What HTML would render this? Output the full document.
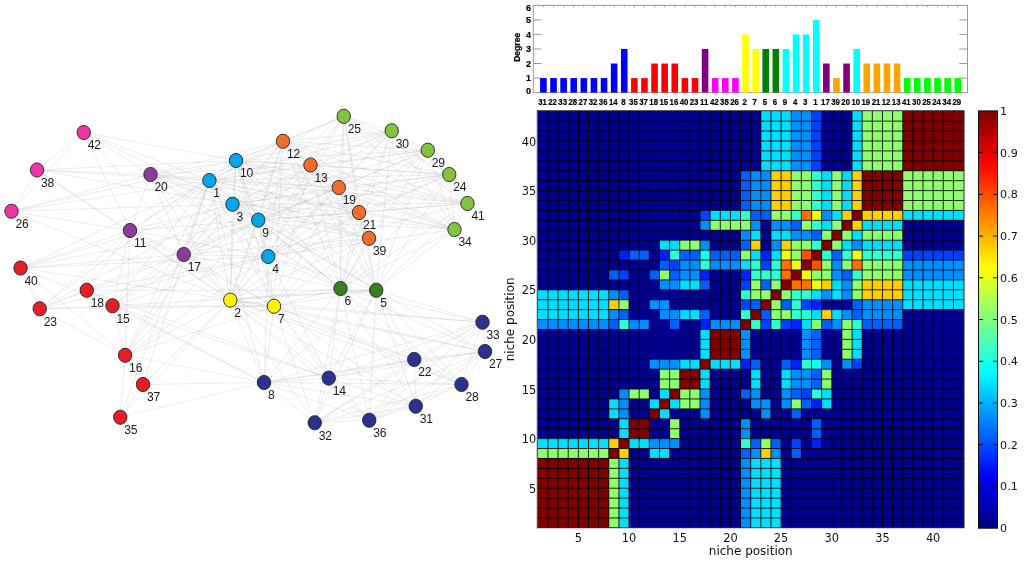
<!DOCTYPE html><html><head><meta charset="utf-8"><style>html,body{margin:0;padding:0;background:#fff;width:1024px;height:561px;overflow:hidden}svg{display:block}</style></head><body>
<svg width="1024" height="561" viewBox="0 0 1024 561">
<rect width="1024" height="561" fill="#fff"/>
<g stroke="rgba(150,150,150,0.18)" stroke-width="1.0" fill="none">
<line x1="415.75" y1="406.25" x2="414.25" y2="359.4"/>
<line x1="415.75" y1="406.25" x2="482.5" y2="322.25"/>
<line x1="415.75" y1="406.25" x2="461.5" y2="384.5"/>
<line x1="415.75" y1="406.25" x2="485" y2="351.5"/>
<line x1="415.75" y1="406.25" x2="314.75" y2="422.75"/>
<line x1="415.75" y1="406.25" x2="369.25" y2="420.25"/>
<line x1="415.75" y1="406.25" x2="328.75" y2="378.1"/>
<line x1="415.75" y1="406.25" x2="264" y2="382.5"/>
<line x1="415.75" y1="406.25" x2="230.3" y2="300.1"/>
<line x1="415.75" y1="406.25" x2="274" y2="306.25"/>
<line x1="415.75" y1="406.25" x2="376.25" y2="290.25"/>
<line x1="415.75" y1="406.25" x2="340.5" y2="288.5"/>
<line x1="414.25" y1="359.4" x2="482.5" y2="322.25"/>
<line x1="414.25" y1="359.4" x2="461.5" y2="384.5"/>
<line x1="414.25" y1="359.4" x2="485" y2="351.5"/>
<line x1="414.25" y1="359.4" x2="314.75" y2="422.75"/>
<line x1="414.25" y1="359.4" x2="369.25" y2="420.25"/>
<line x1="414.25" y1="359.4" x2="328.75" y2="378.1"/>
<line x1="414.25" y1="359.4" x2="264" y2="382.5"/>
<line x1="414.25" y1="359.4" x2="230.3" y2="300.1"/>
<line x1="414.25" y1="359.4" x2="274" y2="306.25"/>
<line x1="414.25" y1="359.4" x2="376.25" y2="290.25"/>
<line x1="414.25" y1="359.4" x2="340.5" y2="288.5"/>
<line x1="482.5" y1="322.25" x2="461.5" y2="384.5"/>
<line x1="482.5" y1="322.25" x2="485" y2="351.5"/>
<line x1="482.5" y1="322.25" x2="314.75" y2="422.75"/>
<line x1="482.5" y1="322.25" x2="369.25" y2="420.25"/>
<line x1="482.5" y1="322.25" x2="328.75" y2="378.1"/>
<line x1="482.5" y1="322.25" x2="264" y2="382.5"/>
<line x1="482.5" y1="322.25" x2="230.3" y2="300.1"/>
<line x1="482.5" y1="322.25" x2="274" y2="306.25"/>
<line x1="482.5" y1="322.25" x2="376.25" y2="290.25"/>
<line x1="482.5" y1="322.25" x2="340.5" y2="288.5"/>
<line x1="461.5" y1="384.5" x2="485" y2="351.5"/>
<line x1="461.5" y1="384.5" x2="314.75" y2="422.75"/>
<line x1="461.5" y1="384.5" x2="369.25" y2="420.25"/>
<line x1="461.5" y1="384.5" x2="328.75" y2="378.1"/>
<line x1="461.5" y1="384.5" x2="264" y2="382.5"/>
<line x1="461.5" y1="384.5" x2="230.3" y2="300.1"/>
<line x1="461.5" y1="384.5" x2="274" y2="306.25"/>
<line x1="461.5" y1="384.5" x2="376.25" y2="290.25"/>
<line x1="461.5" y1="384.5" x2="340.5" y2="288.5"/>
<line x1="485" y1="351.5" x2="314.75" y2="422.75"/>
<line x1="485" y1="351.5" x2="369.25" y2="420.25"/>
<line x1="485" y1="351.5" x2="328.75" y2="378.1"/>
<line x1="485" y1="351.5" x2="264" y2="382.5"/>
<line x1="485" y1="351.5" x2="230.3" y2="300.1"/>
<line x1="485" y1="351.5" x2="274" y2="306.25"/>
<line x1="485" y1="351.5" x2="376.25" y2="290.25"/>
<line x1="485" y1="351.5" x2="340.5" y2="288.5"/>
<line x1="314.75" y1="422.75" x2="369.25" y2="420.25"/>
<line x1="314.75" y1="422.75" x2="328.75" y2="378.1"/>
<line x1="314.75" y1="422.75" x2="264" y2="382.5"/>
<line x1="314.75" y1="422.75" x2="230.3" y2="300.1"/>
<line x1="314.75" y1="422.75" x2="274" y2="306.25"/>
<line x1="314.75" y1="422.75" x2="376.25" y2="290.25"/>
<line x1="314.75" y1="422.75" x2="340.5" y2="288.5"/>
<line x1="369.25" y1="420.25" x2="328.75" y2="378.1"/>
<line x1="369.25" y1="420.25" x2="264" y2="382.5"/>
<line x1="369.25" y1="420.25" x2="230.3" y2="300.1"/>
<line x1="369.25" y1="420.25" x2="274" y2="306.25"/>
<line x1="369.25" y1="420.25" x2="376.25" y2="290.25"/>
<line x1="369.25" y1="420.25" x2="340.5" y2="288.5"/>
<line x1="328.75" y1="378.1" x2="264" y2="382.5"/>
<line x1="328.75" y1="378.1" x2="86.75" y2="290.25"/>
<line x1="328.75" y1="378.1" x2="112.5" y2="305.75"/>
<line x1="328.75" y1="378.1" x2="230.3" y2="300.1"/>
<line x1="328.75" y1="378.1" x2="274" y2="306.25"/>
<line x1="328.75" y1="378.1" x2="376.25" y2="290.25"/>
<line x1="328.75" y1="378.1" x2="340.5" y2="288.5"/>
<line x1="328.75" y1="378.1" x2="268.25" y2="256.5"/>
<line x1="264" y1="382.5" x2="120.25" y2="417.25"/>
<line x1="264" y1="382.5" x2="143" y2="384.5"/>
<line x1="264" y1="382.5" x2="86.75" y2="290.25"/>
<line x1="264" y1="382.5" x2="112.5" y2="305.75"/>
<line x1="264" y1="382.5" x2="125.1" y2="355.25"/>
<line x1="264" y1="382.5" x2="230.3" y2="300.1"/>
<line x1="264" y1="382.5" x2="274" y2="306.25"/>
<line x1="264" y1="382.5" x2="376.25" y2="290.25"/>
<line x1="264" y1="382.5" x2="340.5" y2="288.5"/>
<line x1="264" y1="382.5" x2="268.25" y2="256.5"/>
<line x1="264" y1="382.5" x2="209.4" y2="180.5"/>
<line x1="120.25" y1="417.25" x2="143" y2="384.5"/>
<line x1="120.25" y1="417.25" x2="125.1" y2="355.25"/>
<line x1="120.25" y1="417.25" x2="230.3" y2="300.1"/>
<line x1="120.25" y1="417.25" x2="209.4" y2="180.5"/>
<line x1="143" y1="384.5" x2="125.1" y2="355.25"/>
<line x1="143" y1="384.5" x2="230.3" y2="300.1"/>
<line x1="143" y1="384.5" x2="209.4" y2="180.5"/>
<line x1="86.75" y1="290.25" x2="112.5" y2="305.75"/>
<line x1="86.75" y1="290.25" x2="130" y2="230.5"/>
<line x1="86.75" y1="290.25" x2="376.25" y2="290.25"/>
<line x1="86.75" y1="290.25" x2="268.25" y2="256.5"/>
<line x1="112.5" y1="305.75" x2="125.1" y2="355.25"/>
<line x1="112.5" y1="305.75" x2="20.5" y2="268"/>
<line x1="112.5" y1="305.75" x2="39.75" y2="308.75"/>
<line x1="112.5" y1="305.75" x2="130" y2="230.5"/>
<line x1="112.5" y1="305.75" x2="274" y2="306.25"/>
<line x1="112.5" y1="305.75" x2="376.25" y2="290.25"/>
<line x1="112.5" y1="305.75" x2="258.25" y2="220.1"/>
<line x1="112.5" y1="305.75" x2="268.25" y2="256.5"/>
<line x1="112.5" y1="305.75" x2="232.5" y2="204.25"/>
<line x1="112.5" y1="305.75" x2="209.4" y2="180.5"/>
<line x1="112.5" y1="305.75" x2="183.75" y2="254.5"/>
<line x1="125.1" y1="355.25" x2="20.5" y2="268"/>
<line x1="125.1" y1="355.25" x2="39.75" y2="308.75"/>
<line x1="125.1" y1="355.25" x2="130" y2="230.5"/>
<line x1="125.1" y1="355.25" x2="230.3" y2="300.1"/>
<line x1="125.1" y1="355.25" x2="274" y2="306.25"/>
<line x1="125.1" y1="355.25" x2="258.25" y2="220.1"/>
<line x1="125.1" y1="355.25" x2="268.25" y2="256.5"/>
<line x1="125.1" y1="355.25" x2="232.5" y2="204.25"/>
<line x1="125.1" y1="355.25" x2="209.4" y2="180.5"/>
<line x1="125.1" y1="355.25" x2="183.75" y2="254.5"/>
<line x1="20.5" y1="268" x2="39.75" y2="308.75"/>
<line x1="20.5" y1="268" x2="130" y2="230.5"/>
<line x1="20.5" y1="268" x2="274" y2="306.25"/>
<line x1="20.5" y1="268" x2="258.25" y2="220.1"/>
<line x1="20.5" y1="268" x2="268.25" y2="256.5"/>
<line x1="20.5" y1="268" x2="232.5" y2="204.25"/>
<line x1="20.5" y1="268" x2="209.4" y2="180.5"/>
<line x1="20.5" y1="268" x2="183.75" y2="254.5"/>
<line x1="39.75" y1="308.75" x2="130" y2="230.5"/>
<line x1="39.75" y1="308.75" x2="274" y2="306.25"/>
<line x1="39.75" y1="308.75" x2="258.25" y2="220.1"/>
<line x1="39.75" y1="308.75" x2="268.25" y2="256.5"/>
<line x1="39.75" y1="308.75" x2="232.5" y2="204.25"/>
<line x1="39.75" y1="308.75" x2="209.4" y2="180.5"/>
<line x1="39.75" y1="308.75" x2="183.75" y2="254.5"/>
<line x1="130" y1="230.5" x2="83.75" y2="132.5"/>
<line x1="130" y1="230.5" x2="37" y2="170"/>
<line x1="130" y1="230.5" x2="11.5" y2="211.25"/>
<line x1="130" y1="230.5" x2="230.3" y2="300.1"/>
<line x1="130" y1="230.5" x2="274" y2="306.25"/>
<line x1="130" y1="230.5" x2="258.25" y2="220.1"/>
<line x1="130" y1="230.5" x2="268.25" y2="256.5"/>
<line x1="130" y1="230.5" x2="232.5" y2="204.25"/>
<line x1="130" y1="230.5" x2="209.4" y2="180.5"/>
<line x1="130" y1="230.5" x2="183.75" y2="254.5"/>
<line x1="130" y1="230.5" x2="150.5" y2="174.5"/>
<line x1="130" y1="230.5" x2="236" y2="160.5"/>
<line x1="83.75" y1="132.5" x2="37" y2="170"/>
<line x1="83.75" y1="132.5" x2="11.5" y2="211.25"/>
<line x1="83.75" y1="132.5" x2="230.3" y2="300.1"/>
<line x1="83.75" y1="132.5" x2="232.5" y2="204.25"/>
<line x1="83.75" y1="132.5" x2="209.4" y2="180.5"/>
<line x1="83.75" y1="132.5" x2="150.5" y2="174.5"/>
<line x1="83.75" y1="132.5" x2="236" y2="160.5"/>
<line x1="37" y1="170" x2="11.5" y2="211.25"/>
<line x1="37" y1="170" x2="230.3" y2="300.1"/>
<line x1="37" y1="170" x2="232.5" y2="204.25"/>
<line x1="37" y1="170" x2="209.4" y2="180.5"/>
<line x1="37" y1="170" x2="150.5" y2="174.5"/>
<line x1="37" y1="170" x2="236" y2="160.5"/>
<line x1="11.5" y1="211.25" x2="230.3" y2="300.1"/>
<line x1="11.5" y1="211.25" x2="232.5" y2="204.25"/>
<line x1="11.5" y1="211.25" x2="209.4" y2="180.5"/>
<line x1="11.5" y1="211.25" x2="150.5" y2="174.5"/>
<line x1="11.5" y1="211.25" x2="236" y2="160.5"/>
<line x1="230.3" y1="300.1" x2="274" y2="306.25"/>
<line x1="230.3" y1="300.1" x2="376.25" y2="290.25"/>
<line x1="230.3" y1="300.1" x2="340.5" y2="288.5"/>
<line x1="230.3" y1="300.1" x2="258.25" y2="220.1"/>
<line x1="230.3" y1="300.1" x2="268.25" y2="256.5"/>
<line x1="230.3" y1="300.1" x2="232.5" y2="204.25"/>
<line x1="230.3" y1="300.1" x2="209.4" y2="180.5"/>
<line x1="230.3" y1="300.1" x2="183.75" y2="254.5"/>
<line x1="230.3" y1="300.1" x2="369" y2="238.25"/>
<line x1="230.3" y1="300.1" x2="150.5" y2="174.5"/>
<line x1="230.3" y1="300.1" x2="236" y2="160.5"/>
<line x1="230.3" y1="300.1" x2="338.75" y2="187.5"/>
<line x1="230.3" y1="300.1" x2="359" y2="212.5"/>
<line x1="230.3" y1="300.1" x2="283" y2="141.25"/>
<line x1="230.3" y1="300.1" x2="310.5" y2="165"/>
<line x1="274" y1="306.25" x2="376.25" y2="290.25"/>
<line x1="274" y1="306.25" x2="340.5" y2="288.5"/>
<line x1="274" y1="306.25" x2="258.25" y2="220.1"/>
<line x1="274" y1="306.25" x2="268.25" y2="256.5"/>
<line x1="274" y1="306.25" x2="232.5" y2="204.25"/>
<line x1="274" y1="306.25" x2="209.4" y2="180.5"/>
<line x1="274" y1="306.25" x2="183.75" y2="254.5"/>
<line x1="274" y1="306.25" x2="369" y2="238.25"/>
<line x1="274" y1="306.25" x2="150.5" y2="174.5"/>
<line x1="274" y1="306.25" x2="236" y2="160.5"/>
<line x1="274" y1="306.25" x2="338.75" y2="187.5"/>
<line x1="274" y1="306.25" x2="359" y2="212.5"/>
<line x1="274" y1="306.25" x2="283" y2="141.25"/>
<line x1="274" y1="306.25" x2="310.5" y2="165"/>
<line x1="376.25" y1="290.25" x2="340.5" y2="288.5"/>
<line x1="376.25" y1="290.25" x2="258.25" y2="220.1"/>
<line x1="376.25" y1="290.25" x2="268.25" y2="256.5"/>
<line x1="376.25" y1="290.25" x2="232.5" y2="204.25"/>
<line x1="376.25" y1="290.25" x2="209.4" y2="180.5"/>
<line x1="376.25" y1="290.25" x2="236" y2="160.5"/>
<line x1="376.25" y1="290.25" x2="338.75" y2="187.5"/>
<line x1="376.25" y1="290.25" x2="359" y2="212.5"/>
<line x1="376.25" y1="290.25" x2="283" y2="141.25"/>
<line x1="376.25" y1="290.25" x2="310.5" y2="165"/>
<line x1="376.25" y1="290.25" x2="467.5" y2="203.5"/>
<line x1="376.25" y1="290.25" x2="391.75" y2="130.75"/>
<line x1="376.25" y1="290.25" x2="343.75" y2="116.3"/>
<line x1="376.25" y1="290.25" x2="449.25" y2="174.5"/>
<line x1="376.25" y1="290.25" x2="454.5" y2="229.5"/>
<line x1="376.25" y1="290.25" x2="427.75" y2="150.25"/>
<line x1="340.5" y1="288.5" x2="258.25" y2="220.1"/>
<line x1="340.5" y1="288.5" x2="268.25" y2="256.5"/>
<line x1="340.5" y1="288.5" x2="232.5" y2="204.25"/>
<line x1="340.5" y1="288.5" x2="209.4" y2="180.5"/>
<line x1="340.5" y1="288.5" x2="183.75" y2="254.5"/>
<line x1="340.5" y1="288.5" x2="369" y2="238.25"/>
<line x1="340.5" y1="288.5" x2="150.5" y2="174.5"/>
<line x1="340.5" y1="288.5" x2="236" y2="160.5"/>
<line x1="340.5" y1="288.5" x2="338.75" y2="187.5"/>
<line x1="340.5" y1="288.5" x2="359" y2="212.5"/>
<line x1="340.5" y1="288.5" x2="283" y2="141.25"/>
<line x1="340.5" y1="288.5" x2="310.5" y2="165"/>
<line x1="340.5" y1="288.5" x2="467.5" y2="203.5"/>
<line x1="340.5" y1="288.5" x2="391.75" y2="130.75"/>
<line x1="340.5" y1="288.5" x2="343.75" y2="116.3"/>
<line x1="340.5" y1="288.5" x2="449.25" y2="174.5"/>
<line x1="340.5" y1="288.5" x2="454.5" y2="229.5"/>
<line x1="340.5" y1="288.5" x2="427.75" y2="150.25"/>
<line x1="258.25" y1="220.1" x2="268.25" y2="256.5"/>
<line x1="258.25" y1="220.1" x2="232.5" y2="204.25"/>
<line x1="258.25" y1="220.1" x2="209.4" y2="180.5"/>
<line x1="258.25" y1="220.1" x2="183.75" y2="254.5"/>
<line x1="258.25" y1="220.1" x2="369" y2="238.25"/>
<line x1="258.25" y1="220.1" x2="150.5" y2="174.5"/>
<line x1="258.25" y1="220.1" x2="236" y2="160.5"/>
<line x1="258.25" y1="220.1" x2="338.75" y2="187.5"/>
<line x1="258.25" y1="220.1" x2="359" y2="212.5"/>
<line x1="258.25" y1="220.1" x2="283" y2="141.25"/>
<line x1="258.25" y1="220.1" x2="310.5" y2="165"/>
<line x1="258.25" y1="220.1" x2="467.5" y2="203.5"/>
<line x1="258.25" y1="220.1" x2="391.75" y2="130.75"/>
<line x1="258.25" y1="220.1" x2="343.75" y2="116.3"/>
<line x1="258.25" y1="220.1" x2="449.25" y2="174.5"/>
<line x1="258.25" y1="220.1" x2="454.5" y2="229.5"/>
<line x1="258.25" y1="220.1" x2="427.75" y2="150.25"/>
<line x1="268.25" y1="256.5" x2="232.5" y2="204.25"/>
<line x1="268.25" y1="256.5" x2="209.4" y2="180.5"/>
<line x1="268.25" y1="256.5" x2="183.75" y2="254.5"/>
<line x1="268.25" y1="256.5" x2="369" y2="238.25"/>
<line x1="268.25" y1="256.5" x2="150.5" y2="174.5"/>
<line x1="268.25" y1="256.5" x2="236" y2="160.5"/>
<line x1="268.25" y1="256.5" x2="338.75" y2="187.5"/>
<line x1="268.25" y1="256.5" x2="359" y2="212.5"/>
<line x1="268.25" y1="256.5" x2="283" y2="141.25"/>
<line x1="268.25" y1="256.5" x2="310.5" y2="165"/>
<line x1="268.25" y1="256.5" x2="467.5" y2="203.5"/>
<line x1="268.25" y1="256.5" x2="391.75" y2="130.75"/>
<line x1="268.25" y1="256.5" x2="343.75" y2="116.3"/>
<line x1="268.25" y1="256.5" x2="449.25" y2="174.5"/>
<line x1="268.25" y1="256.5" x2="454.5" y2="229.5"/>
<line x1="268.25" y1="256.5" x2="427.75" y2="150.25"/>
<line x1="232.5" y1="204.25" x2="209.4" y2="180.5"/>
<line x1="232.5" y1="204.25" x2="183.75" y2="254.5"/>
<line x1="232.5" y1="204.25" x2="369" y2="238.25"/>
<line x1="232.5" y1="204.25" x2="150.5" y2="174.5"/>
<line x1="232.5" y1="204.25" x2="236" y2="160.5"/>
<line x1="232.5" y1="204.25" x2="338.75" y2="187.5"/>
<line x1="232.5" y1="204.25" x2="359" y2="212.5"/>
<line x1="232.5" y1="204.25" x2="283" y2="141.25"/>
<line x1="232.5" y1="204.25" x2="310.5" y2="165"/>
<line x1="232.5" y1="204.25" x2="467.5" y2="203.5"/>
<line x1="232.5" y1="204.25" x2="391.75" y2="130.75"/>
<line x1="232.5" y1="204.25" x2="343.75" y2="116.3"/>
<line x1="232.5" y1="204.25" x2="449.25" y2="174.5"/>
<line x1="232.5" y1="204.25" x2="454.5" y2="229.5"/>
<line x1="232.5" y1="204.25" x2="427.75" y2="150.25"/>
<line x1="209.4" y1="180.5" x2="183.75" y2="254.5"/>
<line x1="209.4" y1="180.5" x2="369" y2="238.25"/>
<line x1="209.4" y1="180.5" x2="150.5" y2="174.5"/>
<line x1="209.4" y1="180.5" x2="236" y2="160.5"/>
<line x1="209.4" y1="180.5" x2="338.75" y2="187.5"/>
<line x1="209.4" y1="180.5" x2="359" y2="212.5"/>
<line x1="209.4" y1="180.5" x2="283" y2="141.25"/>
<line x1="209.4" y1="180.5" x2="310.5" y2="165"/>
<line x1="209.4" y1="180.5" x2="467.5" y2="203.5"/>
<line x1="209.4" y1="180.5" x2="391.75" y2="130.75"/>
<line x1="209.4" y1="180.5" x2="343.75" y2="116.3"/>
<line x1="209.4" y1="180.5" x2="449.25" y2="174.5"/>
<line x1="209.4" y1="180.5" x2="454.5" y2="229.5"/>
<line x1="209.4" y1="180.5" x2="427.75" y2="150.25"/>
<line x1="183.75" y1="254.5" x2="369" y2="238.25"/>
<line x1="183.75" y1="254.5" x2="150.5" y2="174.5"/>
<line x1="183.75" y1="254.5" x2="236" y2="160.5"/>
<line x1="183.75" y1="254.5" x2="338.75" y2="187.5"/>
<line x1="183.75" y1="254.5" x2="359" y2="212.5"/>
<line x1="183.75" y1="254.5" x2="283" y2="141.25"/>
<line x1="183.75" y1="254.5" x2="310.5" y2="165"/>
<line x1="369" y1="238.25" x2="150.5" y2="174.5"/>
<line x1="369" y1="238.25" x2="236" y2="160.5"/>
<line x1="369" y1="238.25" x2="338.75" y2="187.5"/>
<line x1="369" y1="238.25" x2="359" y2="212.5"/>
<line x1="369" y1="238.25" x2="283" y2="141.25"/>
<line x1="369" y1="238.25" x2="310.5" y2="165"/>
<line x1="150.5" y1="174.5" x2="236" y2="160.5"/>
<line x1="150.5" y1="174.5" x2="338.75" y2="187.5"/>
<line x1="150.5" y1="174.5" x2="359" y2="212.5"/>
<line x1="150.5" y1="174.5" x2="283" y2="141.25"/>
<line x1="150.5" y1="174.5" x2="310.5" y2="165"/>
<line x1="236" y1="160.5" x2="338.75" y2="187.5"/>
<line x1="236" y1="160.5" x2="359" y2="212.5"/>
<line x1="236" y1="160.5" x2="283" y2="141.25"/>
<line x1="236" y1="160.5" x2="310.5" y2="165"/>
<line x1="236" y1="160.5" x2="467.5" y2="203.5"/>
<line x1="236" y1="160.5" x2="391.75" y2="130.75"/>
<line x1="236" y1="160.5" x2="343.75" y2="116.3"/>
<line x1="236" y1="160.5" x2="449.25" y2="174.5"/>
<line x1="236" y1="160.5" x2="454.5" y2="229.5"/>
<line x1="236" y1="160.5" x2="427.75" y2="150.25"/>
<line x1="338.75" y1="187.5" x2="359" y2="212.5"/>
<line x1="338.75" y1="187.5" x2="283" y2="141.25"/>
<line x1="338.75" y1="187.5" x2="310.5" y2="165"/>
<line x1="338.75" y1="187.5" x2="467.5" y2="203.5"/>
<line x1="338.75" y1="187.5" x2="391.75" y2="130.75"/>
<line x1="338.75" y1="187.5" x2="343.75" y2="116.3"/>
<line x1="338.75" y1="187.5" x2="449.25" y2="174.5"/>
<line x1="338.75" y1="187.5" x2="454.5" y2="229.5"/>
<line x1="338.75" y1="187.5" x2="427.75" y2="150.25"/>
<line x1="359" y1="212.5" x2="283" y2="141.25"/>
<line x1="359" y1="212.5" x2="310.5" y2="165"/>
<line x1="359" y1="212.5" x2="467.5" y2="203.5"/>
<line x1="359" y1="212.5" x2="391.75" y2="130.75"/>
<line x1="359" y1="212.5" x2="343.75" y2="116.3"/>
<line x1="359" y1="212.5" x2="449.25" y2="174.5"/>
<line x1="359" y1="212.5" x2="454.5" y2="229.5"/>
<line x1="359" y1="212.5" x2="427.75" y2="150.25"/>
<line x1="283" y1="141.25" x2="310.5" y2="165"/>
<line x1="283" y1="141.25" x2="467.5" y2="203.5"/>
<line x1="283" y1="141.25" x2="391.75" y2="130.75"/>
<line x1="283" y1="141.25" x2="343.75" y2="116.3"/>
<line x1="283" y1="141.25" x2="449.25" y2="174.5"/>
<line x1="283" y1="141.25" x2="454.5" y2="229.5"/>
<line x1="283" y1="141.25" x2="427.75" y2="150.25"/>
<line x1="310.5" y1="165" x2="467.5" y2="203.5"/>
<line x1="310.5" y1="165" x2="391.75" y2="130.75"/>
<line x1="310.5" y1="165" x2="343.75" y2="116.3"/>
<line x1="310.5" y1="165" x2="449.25" y2="174.5"/>
<line x1="310.5" y1="165" x2="454.5" y2="229.5"/>
<line x1="310.5" y1="165" x2="427.75" y2="150.25"/>
<line x1="467.5" y1="203.5" x2="391.75" y2="130.75"/>
<line x1="467.5" y1="203.5" x2="343.75" y2="116.3"/>
<line x1="467.5" y1="203.5" x2="449.25" y2="174.5"/>
<line x1="467.5" y1="203.5" x2="454.5" y2="229.5"/>
<line x1="467.5" y1="203.5" x2="427.75" y2="150.25"/>
<line x1="391.75" y1="130.75" x2="343.75" y2="116.3"/>
<line x1="391.75" y1="130.75" x2="449.25" y2="174.5"/>
<line x1="391.75" y1="130.75" x2="454.5" y2="229.5"/>
<line x1="391.75" y1="130.75" x2="427.75" y2="150.25"/>
<line x1="343.75" y1="116.3" x2="449.25" y2="174.5"/>
<line x1="343.75" y1="116.3" x2="454.5" y2="229.5"/>
<line x1="343.75" y1="116.3" x2="427.75" y2="150.25"/>
<line x1="449.25" y1="174.5" x2="454.5" y2="229.5"/>
<line x1="449.25" y1="174.5" x2="427.75" y2="150.25"/>
<line x1="454.5" y1="229.5" x2="427.75" y2="150.25"/>
</g>
<g stroke="#222" stroke-width="0.9">
<ellipse cx="209.4" cy="180.5" rx="6.7" ry="7.1" fill="#00a6e8"/>
<ellipse cx="230.3" cy="300.1" rx="6.7" ry="7.1" fill="#fff200"/>
<ellipse cx="232.5" cy="204.25" rx="6.7" ry="7.1" fill="#00a6e8"/>
<ellipse cx="268.25" cy="256.5" rx="6.7" ry="7.1" fill="#00a6e8"/>
<ellipse cx="376.25" cy="290.25" rx="6.7" ry="7.1" fill="#3a7d22"/>
<ellipse cx="340.5" cy="288.5" rx="6.7" ry="7.1" fill="#3a7d22"/>
<ellipse cx="274" cy="306.25" rx="6.7" ry="7.1" fill="#fff200"/>
<ellipse cx="264" cy="382.5" rx="6.7" ry="7.1" fill="#2b3190"/>
<ellipse cx="258.25" cy="220.1" rx="6.7" ry="7.1" fill="#00a6e8"/>
<ellipse cx="236" cy="160.5" rx="6.7" ry="7.1" fill="#00a6e8"/>
<ellipse cx="130" cy="230.5" rx="6.7" ry="7.1" fill="#8c3a9c"/>
<ellipse cx="283" cy="141.25" rx="6.7" ry="7.1" fill="#f26c2a"/>
<ellipse cx="310.5" cy="165" rx="6.7" ry="7.1" fill="#f26c2a"/>
<ellipse cx="328.75" cy="378.1" rx="6.7" ry="7.1" fill="#2b3190"/>
<ellipse cx="112.5" cy="305.75" rx="6.7" ry="7.1" fill="#e61e25"/>
<ellipse cx="125.1" cy="355.25" rx="6.7" ry="7.1" fill="#e61e25"/>
<ellipse cx="183.75" cy="254.5" rx="6.7" ry="7.1" fill="#8c3a9c"/>
<ellipse cx="86.75" cy="290.25" rx="6.7" ry="7.1" fill="#e61e25"/>
<ellipse cx="338.75" cy="187.5" rx="6.7" ry="7.1" fill="#f26c2a"/>
<ellipse cx="150.5" cy="174.5" rx="6.7" ry="7.1" fill="#8c3a9c"/>
<ellipse cx="359" cy="212.5" rx="6.7" ry="7.1" fill="#f26c2a"/>
<ellipse cx="414.25" cy="359.4" rx="6.7" ry="7.1" fill="#2b3190"/>
<ellipse cx="39.75" cy="308.75" rx="6.7" ry="7.1" fill="#e61e25"/>
<ellipse cx="449.25" cy="174.5" rx="6.7" ry="7.1" fill="#82c341"/>
<ellipse cx="343.75" cy="116.3" rx="6.7" ry="7.1" fill="#82c341"/>
<ellipse cx="11.5" cy="211.25" rx="6.7" ry="7.1" fill="#ec36a6"/>
<ellipse cx="485" cy="351.5" rx="6.7" ry="7.1" fill="#2b3190"/>
<ellipse cx="461.5" cy="384.5" rx="6.7" ry="7.1" fill="#2b3190"/>
<ellipse cx="427.75" cy="150.25" rx="6.7" ry="7.1" fill="#82c341"/>
<ellipse cx="391.75" cy="130.75" rx="6.7" ry="7.1" fill="#82c341"/>
<ellipse cx="415.75" cy="406.25" rx="6.7" ry="7.1" fill="#2b3190"/>
<ellipse cx="314.75" cy="422.75" rx="6.7" ry="7.1" fill="#2b3190"/>
<ellipse cx="482.5" cy="322.25" rx="6.7" ry="7.1" fill="#2b3190"/>
<ellipse cx="454.5" cy="229.5" rx="6.7" ry="7.1" fill="#82c341"/>
<ellipse cx="120.25" cy="417.25" rx="6.7" ry="7.1" fill="#e61e25"/>
<ellipse cx="369.25" cy="420.25" rx="6.7" ry="7.1" fill="#2b3190"/>
<ellipse cx="143" cy="384.5" rx="6.7" ry="7.1" fill="#e61e25"/>
<ellipse cx="37" cy="170" rx="6.7" ry="7.1" fill="#ec36a6"/>
<ellipse cx="369" cy="238.25" rx="6.7" ry="7.1" fill="#f26c2a"/>
<ellipse cx="20.5" cy="268" rx="6.7" ry="7.1" fill="#e61e25"/>
<ellipse cx="467.5" cy="203.5" rx="6.7" ry="7.1" fill="#82c341"/>
<ellipse cx="83.75" cy="132.5" rx="6.7" ry="7.1" fill="#ec36a6"/>
</g>
<g font-family="Liberation Sans, Arial, sans-serif" font-size="12.1" fill="#1a1a1a">
<text x="213.30" y="197.40">1</text>
<text x="234.20" y="317.00">2</text>
<text x="236.40" y="221.15">3</text>
<text x="272.15" y="273.40">4</text>
<text x="380.15" y="307.15">5</text>
<text x="344.40" y="305.40">6</text>
<text x="277.90" y="323.15">7</text>
<text x="267.90" y="399.40">8</text>
<text x="262.15" y="237.00">9</text>
<text x="239.90" y="177.40">10</text>
<text x="133.90" y="247.40">11</text>
<text x="286.90" y="158.15">12</text>
<text x="314.40" y="181.90">13</text>
<text x="332.65" y="395.00">14</text>
<text x="116.40" y="322.65">15</text>
<text x="129.00" y="372.15">16</text>
<text x="187.65" y="271.40">17</text>
<text x="90.65" y="307.15">18</text>
<text x="342.65" y="204.40">19</text>
<text x="154.40" y="191.40">20</text>
<text x="362.90" y="229.40">21</text>
<text x="418.15" y="376.30">22</text>
<text x="43.65" y="325.65">23</text>
<text x="453.15" y="191.40">24</text>
<text x="347.65" y="133.20">25</text>
<text x="15.40" y="228.15">26</text>
<text x="488.90" y="368.40">27</text>
<text x="465.40" y="401.40">28</text>
<text x="431.65" y="167.15">29</text>
<text x="395.65" y="147.65">30</text>
<text x="419.65" y="423.15">31</text>
<text x="318.65" y="439.65">32</text>
<text x="486.40" y="339.15">33</text>
<text x="458.40" y="246.40">34</text>
<text x="124.15" y="434.15">35</text>
<text x="373.15" y="437.15">36</text>
<text x="146.90" y="401.40">37</text>
<text x="40.90" y="186.90">38</text>
<text x="372.90" y="255.15">39</text>
<text x="24.40" y="284.90">40</text>
<text x="471.40" y="220.40">41</text>
<text x="87.65" y="149.40">42</text>
</g>
<g stroke="#999" stroke-width="1" fill="none">
<rect x="533.3" y="5.35" width="434.20000000000005" height="87.25"/>
<line x1="533.3" y1="78.06" x2="541.5" y2="78.06"/>
<line x1="959.3" y1="78.06" x2="967.5" y2="78.06"/>
<line x1="533.3" y1="63.52" x2="541.5" y2="63.52"/>
<line x1="959.3" y1="63.52" x2="967.5" y2="63.52"/>
<line x1="533.3" y1="48.97" x2="541.5" y2="48.97"/>
<line x1="959.3" y1="48.97" x2="967.5" y2="48.97"/>
<line x1="533.3" y1="34.43" x2="541.5" y2="34.43"/>
<line x1="959.3" y1="34.43" x2="967.5" y2="34.43"/>
<line x1="533.3" y1="19.89" x2="541.5" y2="19.89"/>
<line x1="959.3" y1="19.89" x2="967.5" y2="19.89"/>
<line x1="543.40" y1="5.35" x2="543.40" y2="7.1499999999999995"/>
<line x1="553.50" y1="5.35" x2="553.50" y2="7.1499999999999995"/>
<line x1="563.61" y1="5.35" x2="563.61" y2="7.1499999999999995"/>
<line x1="573.72" y1="5.35" x2="573.72" y2="7.1499999999999995"/>
<line x1="583.82" y1="5.35" x2="583.82" y2="7.1499999999999995"/>
<line x1="593.92" y1="5.35" x2="593.92" y2="7.1499999999999995"/>
<line x1="604.03" y1="5.35" x2="604.03" y2="7.1499999999999995"/>
<line x1="614.13" y1="5.35" x2="614.13" y2="7.1499999999999995"/>
<line x1="624.24" y1="5.35" x2="624.24" y2="7.1499999999999995"/>
<line x1="634.35" y1="5.35" x2="634.35" y2="7.1499999999999995"/>
<line x1="644.45" y1="5.35" x2="644.45" y2="7.1499999999999995"/>
<line x1="654.55" y1="5.35" x2="654.55" y2="7.1499999999999995"/>
<line x1="664.66" y1="5.35" x2="664.66" y2="7.1499999999999995"/>
<line x1="674.76" y1="5.35" x2="674.76" y2="7.1499999999999995"/>
<line x1="684.87" y1="5.35" x2="684.87" y2="7.1499999999999995"/>
<line x1="694.98" y1="5.35" x2="694.98" y2="7.1499999999999995"/>
<line x1="705.08" y1="5.35" x2="705.08" y2="7.1499999999999995"/>
<line x1="715.18" y1="5.35" x2="715.18" y2="7.1499999999999995"/>
<line x1="725.29" y1="5.35" x2="725.29" y2="7.1499999999999995"/>
<line x1="735.39" y1="5.35" x2="735.39" y2="7.1499999999999995"/>
<line x1="745.50" y1="5.35" x2="745.50" y2="7.1499999999999995"/>
<line x1="755.61" y1="5.35" x2="755.61" y2="7.1499999999999995"/>
<line x1="765.71" y1="5.35" x2="765.71" y2="7.1499999999999995"/>
<line x1="775.82" y1="5.35" x2="775.82" y2="7.1499999999999995"/>
<line x1="785.92" y1="5.35" x2="785.92" y2="7.1499999999999995"/>
<line x1="796.02" y1="5.35" x2="796.02" y2="7.1499999999999995"/>
<line x1="806.13" y1="5.35" x2="806.13" y2="7.1499999999999995"/>
<line x1="816.24" y1="5.35" x2="816.24" y2="7.1499999999999995"/>
<line x1="826.34" y1="5.35" x2="826.34" y2="7.1499999999999995"/>
<line x1="836.44" y1="5.35" x2="836.44" y2="7.1499999999999995"/>
<line x1="846.55" y1="5.35" x2="846.55" y2="7.1499999999999995"/>
<line x1="856.65" y1="5.35" x2="856.65" y2="7.1499999999999995"/>
<line x1="866.76" y1="5.35" x2="866.76" y2="7.1499999999999995"/>
<line x1="876.87" y1="5.35" x2="876.87" y2="7.1499999999999995"/>
<line x1="886.97" y1="5.35" x2="886.97" y2="7.1499999999999995"/>
<line x1="897.08" y1="5.35" x2="897.08" y2="7.1499999999999995"/>
<line x1="907.18" y1="5.35" x2="907.18" y2="7.1499999999999995"/>
<line x1="917.28" y1="5.35" x2="917.28" y2="7.1499999999999995"/>
<line x1="927.39" y1="5.35" x2="927.39" y2="7.1499999999999995"/>
<line x1="937.50" y1="5.35" x2="937.50" y2="7.1499999999999995"/>
<line x1="947.60" y1="5.35" x2="947.60" y2="7.1499999999999995"/>
<line x1="957.70" y1="5.35" x2="957.70" y2="7.1499999999999995"/>
</g>
<g>
<rect x="540.10" y="78.06" width="6.6" height="14.54" fill="#0000ff"/>
<rect x="550.21" y="78.06" width="6.6" height="14.54" fill="#0000ff"/>
<rect x="560.31" y="78.06" width="6.6" height="14.54" fill="#0000ff"/>
<rect x="570.42" y="78.06" width="6.6" height="14.54" fill="#0000ff"/>
<rect x="580.52" y="78.06" width="6.6" height="14.54" fill="#0000ff"/>
<rect x="590.62" y="78.06" width="6.6" height="14.54" fill="#0000ff"/>
<rect x="600.73" y="78.06" width="6.6" height="14.54" fill="#0000ff"/>
<rect x="610.84" y="63.52" width="6.6" height="29.08" fill="#0000ff"/>
<rect x="620.94" y="48.97" width="6.6" height="43.62" fill="#0000ff"/>
<rect x="631.05" y="78.06" width="6.6" height="14.54" fill="#ff0000"/>
<rect x="641.15" y="78.06" width="6.6" height="14.54" fill="#ff0000"/>
<rect x="651.25" y="63.52" width="6.6" height="29.08" fill="#ff0000"/>
<rect x="661.36" y="63.52" width="6.6" height="29.08" fill="#ff0000"/>
<rect x="671.47" y="63.52" width="6.6" height="29.08" fill="#ff0000"/>
<rect x="681.57" y="78.06" width="6.6" height="14.54" fill="#ff0000"/>
<rect x="691.68" y="78.06" width="6.6" height="14.54" fill="#ff0000"/>
<rect x="701.78" y="48.97" width="6.6" height="43.62" fill="#800080"/>
<rect x="711.88" y="78.06" width="6.6" height="14.54" fill="#ff00ff"/>
<rect x="721.99" y="78.06" width="6.6" height="14.54" fill="#ff00ff"/>
<rect x="732.10" y="78.06" width="6.6" height="14.54" fill="#ff00ff"/>
<rect x="742.20" y="34.43" width="6.6" height="58.17" fill="#ffff00"/>
<rect x="752.31" y="48.97" width="6.6" height="43.62" fill="#ffff00"/>
<rect x="762.41" y="48.97" width="6.6" height="43.62" fill="#008000"/>
<rect x="772.52" y="48.97" width="6.6" height="43.62" fill="#008000"/>
<rect x="782.62" y="48.97" width="6.6" height="43.62" fill="#00ffff"/>
<rect x="792.73" y="34.43" width="6.6" height="58.17" fill="#00ffff"/>
<rect x="802.83" y="34.43" width="6.6" height="58.17" fill="#00ffff"/>
<rect x="812.94" y="19.89" width="6.6" height="72.71" fill="#00ffff"/>
<rect x="823.04" y="63.52" width="6.6" height="29.08" fill="#800080"/>
<rect x="833.14" y="78.06" width="6.6" height="14.54" fill="#ffa500"/>
<rect x="843.25" y="63.52" width="6.6" height="29.08" fill="#800080"/>
<rect x="853.36" y="48.97" width="6.6" height="43.62" fill="#00ffff"/>
<rect x="863.46" y="63.52" width="6.6" height="29.08" fill="#ffa500"/>
<rect x="873.57" y="63.52" width="6.6" height="29.08" fill="#ffa500"/>
<rect x="883.67" y="63.52" width="6.6" height="29.08" fill="#ffa500"/>
<rect x="893.78" y="63.52" width="6.6" height="29.08" fill="#ffa500"/>
<rect x="903.88" y="78.06" width="6.6" height="14.54" fill="#00ff00"/>
<rect x="913.99" y="78.06" width="6.6" height="14.54" fill="#00ff00"/>
<rect x="924.09" y="78.06" width="6.6" height="14.54" fill="#00ff00"/>
<rect x="934.20" y="78.06" width="6.6" height="14.54" fill="#00ff00"/>
<rect x="944.30" y="78.06" width="6.6" height="14.54" fill="#00ff00"/>
<rect x="954.40" y="78.06" width="6.6" height="14.54" fill="#00ff00"/>
</g>
<g font-family="Liberation Sans, Arial, sans-serif" font-weight="bold" font-size="9" fill="#000" stroke="#000" stroke-width="0.2" text-anchor="end">
<text x="531.0" y="93.50">0</text>
<text x="531.0" y="81.26">1</text>
<text x="531.0" y="66.72">2</text>
<text x="531.0" y="52.17">3</text>
<text x="531.0" y="37.63">4</text>
<text x="531.0" y="23.09">5</text>
<text x="531.0" y="11.30">6</text>
</g>
<text transform="translate(520.3,47.3) rotate(-90)" font-family="Liberation Sans, Arial, sans-serif" font-weight="bold" font-size="8.6" text-anchor="middle" fill="#000" stroke="#000" stroke-width="0.2">Degree</text>
<g font-family="Liberation Sans, Arial, sans-serif" font-weight="bold" font-size="9.1" fill="#000" stroke="#000" stroke-width="0.2" text-anchor="middle">
<text transform="translate(542.50,104.9) scale(0.86,1)">31</text>
<text transform="translate(552.61,104.9) scale(0.86,1)">22</text>
<text transform="translate(562.71,104.9) scale(0.86,1)">33</text>
<text transform="translate(572.82,104.9) scale(0.86,1)">28</text>
<text transform="translate(582.92,104.9) scale(0.86,1)">27</text>
<text transform="translate(593.02,104.9) scale(0.86,1)">32</text>
<text transform="translate(603.13,104.9) scale(0.86,1)">36</text>
<text transform="translate(613.24,104.9) scale(0.86,1)">14</text>
<text transform="translate(623.34,104.9) scale(0.86,1)">8</text>
<text transform="translate(633.45,104.9) scale(0.86,1)">35</text>
<text transform="translate(643.55,104.9) scale(0.86,1)">37</text>
<text transform="translate(653.65,104.9) scale(0.86,1)">18</text>
<text transform="translate(663.76,104.9) scale(0.86,1)">15</text>
<text transform="translate(673.87,104.9) scale(0.86,1)">16</text>
<text transform="translate(683.97,104.9) scale(0.86,1)">40</text>
<text transform="translate(694.08,104.9) scale(0.86,1)">23</text>
<text transform="translate(704.18,104.9) scale(0.86,1)">11</text>
<text transform="translate(714.28,104.9) scale(0.86,1)">42</text>
<text transform="translate(724.39,104.9) scale(0.86,1)">38</text>
<text transform="translate(734.50,104.9) scale(0.86,1)">26</text>
<text transform="translate(744.60,104.9) scale(0.86,1)">2</text>
<text transform="translate(754.71,104.9) scale(0.86,1)">7</text>
<text transform="translate(764.81,104.9) scale(0.86,1)">5</text>
<text transform="translate(774.91,104.9) scale(0.86,1)">6</text>
<text transform="translate(785.02,104.9) scale(0.86,1)">9</text>
<text transform="translate(795.12,104.9) scale(0.86,1)">4</text>
<text transform="translate(805.23,104.9) scale(0.86,1)">3</text>
<text transform="translate(815.34,104.9) scale(0.86,1)">1</text>
<text transform="translate(825.44,104.9) scale(0.86,1)">17</text>
<text transform="translate(835.55,104.9) scale(0.86,1)">39</text>
<text transform="translate(845.65,104.9) scale(0.86,1)">20</text>
<text transform="translate(855.75,104.9) scale(0.86,1)">10</text>
<text transform="translate(865.86,104.9) scale(0.86,1)">19</text>
<text transform="translate(875.97,104.9) scale(0.86,1)">21</text>
<text transform="translate(886.07,104.9) scale(0.86,1)">12</text>
<text transform="translate(896.17,104.9) scale(0.86,1)">13</text>
<text transform="translate(906.28,104.9) scale(0.86,1)">41</text>
<text transform="translate(916.38,104.9) scale(0.86,1)">30</text>
<text transform="translate(926.49,104.9) scale(0.86,1)">25</text>
<text transform="translate(936.60,104.9) scale(0.86,1)">24</text>
<text transform="translate(946.70,104.9) scale(0.86,1)">34</text>
<text transform="translate(956.81,104.9) scale(0.86,1)">29</text>
</g>
<g shape-rendering="crispEdges">
<rect x="537.80" y="517.78" width="10.19" height="9.97" fill="rgb(128, 0, 0)"/>
<rect x="547.94" y="517.78" width="10.19" height="9.97" fill="rgb(128, 0, 0)"/>
<rect x="558.07" y="517.78" width="10.19" height="9.97" fill="rgb(128, 0, 0)"/>
<rect x="568.21" y="517.78" width="10.19" height="9.97" fill="rgb(128, 0, 0)"/>
<rect x="578.35" y="517.78" width="10.19" height="9.97" fill="rgb(128, 0, 0)"/>
<rect x="588.48" y="517.78" width="10.19" height="9.97" fill="rgb(128, 0, 0)"/>
<rect x="598.62" y="517.78" width="10.19" height="9.97" fill="rgb(128, 0, 0)"/>
<rect x="608.76" y="517.78" width="10.19" height="9.97" fill="rgb(143, 255, 112)"/>
<rect x="618.90" y="517.78" width="10.19" height="9.97" fill="rgb(0, 223, 255)"/>
<rect x="629.03" y="517.78" width="10.19" height="9.97" fill="rgb(0, 0, 143)"/>
<rect x="639.17" y="517.78" width="10.19" height="9.97" fill="rgb(0, 0, 143)"/>
<rect x="649.31" y="517.78" width="10.19" height="9.97" fill="rgb(0, 0, 143)"/>
<rect x="659.44" y="517.78" width="10.19" height="9.97" fill="rgb(0, 0, 143)"/>
<rect x="669.58" y="517.78" width="10.19" height="9.97" fill="rgb(0, 0, 143)"/>
<rect x="679.72" y="517.78" width="10.19" height="9.97" fill="rgb(0, 0, 143)"/>
<rect x="689.86" y="517.78" width="10.19" height="9.97" fill="rgb(0, 0, 143)"/>
<rect x="699.99" y="517.78" width="10.19" height="9.97" fill="rgb(0, 0, 143)"/>
<rect x="710.13" y="517.78" width="10.19" height="9.97" fill="rgb(0, 0, 143)"/>
<rect x="720.27" y="517.78" width="10.19" height="9.97" fill="rgb(0, 0, 143)"/>
<rect x="730.40" y="517.78" width="10.19" height="9.97" fill="rgb(0, 0, 143)"/>
<rect x="740.54" y="517.78" width="10.19" height="9.97" fill="rgb(0, 143, 255)"/>
<rect x="750.68" y="517.78" width="10.19" height="9.97" fill="rgb(0, 223, 255)"/>
<rect x="760.81" y="517.78" width="10.19" height="9.97" fill="rgb(0, 223, 255)"/>
<rect x="770.95" y="517.78" width="10.19" height="9.97" fill="rgb(0, 223, 255)"/>
<rect x="781.09" y="517.78" width="10.19" height="9.97" fill="rgb(0, 0, 143)"/>
<rect x="791.22" y="517.78" width="10.19" height="9.97" fill="rgb(0, 0, 143)"/>
<rect x="801.36" y="517.78" width="10.19" height="9.97" fill="rgb(0, 0, 143)"/>
<rect x="811.50" y="517.78" width="10.19" height="9.97" fill="rgb(0, 0, 143)"/>
<rect x="821.64" y="517.78" width="10.19" height="9.97" fill="rgb(0, 0, 143)"/>
<rect x="831.77" y="517.78" width="10.19" height="9.97" fill="rgb(0, 0, 143)"/>
<rect x="841.91" y="517.78" width="10.19" height="9.97" fill="rgb(0, 0, 143)"/>
<rect x="852.05" y="517.78" width="10.19" height="9.97" fill="rgb(0, 0, 143)"/>
<rect x="862.18" y="517.78" width="10.19" height="9.97" fill="rgb(0, 0, 143)"/>
<rect x="872.32" y="517.78" width="10.19" height="9.97" fill="rgb(0, 0, 143)"/>
<rect x="882.46" y="517.78" width="10.19" height="9.97" fill="rgb(0, 0, 143)"/>
<rect x="892.60" y="517.78" width="10.19" height="9.97" fill="rgb(0, 0, 143)"/>
<rect x="902.73" y="517.78" width="10.19" height="9.97" fill="rgb(0, 0, 143)"/>
<rect x="912.87" y="517.78" width="10.19" height="9.97" fill="rgb(0, 0, 143)"/>
<rect x="923.01" y="517.78" width="10.19" height="9.97" fill="rgb(0, 0, 143)"/>
<rect x="933.14" y="517.78" width="10.19" height="9.97" fill="rgb(0, 0, 143)"/>
<rect x="943.28" y="517.78" width="10.19" height="9.97" fill="rgb(0, 0, 143)"/>
<rect x="953.42" y="517.78" width="10.19" height="9.97" fill="rgb(0, 0, 143)"/>
<rect x="537.80" y="507.86" width="10.19" height="9.97" fill="rgb(128, 0, 0)"/>
<rect x="547.94" y="507.86" width="10.19" height="9.97" fill="rgb(128, 0, 0)"/>
<rect x="558.07" y="507.86" width="10.19" height="9.97" fill="rgb(128, 0, 0)"/>
<rect x="568.21" y="507.86" width="10.19" height="9.97" fill="rgb(128, 0, 0)"/>
<rect x="578.35" y="507.86" width="10.19" height="9.97" fill="rgb(128, 0, 0)"/>
<rect x="588.48" y="507.86" width="10.19" height="9.97" fill="rgb(128, 0, 0)"/>
<rect x="598.62" y="507.86" width="10.19" height="9.97" fill="rgb(128, 0, 0)"/>
<rect x="608.76" y="507.86" width="10.19" height="9.97" fill="rgb(143, 255, 112)"/>
<rect x="618.90" y="507.86" width="10.19" height="9.97" fill="rgb(0, 223, 255)"/>
<rect x="629.03" y="507.86" width="10.19" height="9.97" fill="rgb(0, 0, 143)"/>
<rect x="639.17" y="507.86" width="10.19" height="9.97" fill="rgb(0, 0, 143)"/>
<rect x="649.31" y="507.86" width="10.19" height="9.97" fill="rgb(0, 0, 143)"/>
<rect x="659.44" y="507.86" width="10.19" height="9.97" fill="rgb(0, 0, 143)"/>
<rect x="669.58" y="507.86" width="10.19" height="9.97" fill="rgb(0, 0, 143)"/>
<rect x="679.72" y="507.86" width="10.19" height="9.97" fill="rgb(0, 0, 143)"/>
<rect x="689.86" y="507.86" width="10.19" height="9.97" fill="rgb(0, 0, 143)"/>
<rect x="699.99" y="507.86" width="10.19" height="9.97" fill="rgb(0, 0, 143)"/>
<rect x="710.13" y="507.86" width="10.19" height="9.97" fill="rgb(0, 0, 143)"/>
<rect x="720.27" y="507.86" width="10.19" height="9.97" fill="rgb(0, 0, 143)"/>
<rect x="730.40" y="507.86" width="10.19" height="9.97" fill="rgb(0, 0, 143)"/>
<rect x="740.54" y="507.86" width="10.19" height="9.97" fill="rgb(0, 143, 255)"/>
<rect x="750.68" y="507.86" width="10.19" height="9.97" fill="rgb(0, 223, 255)"/>
<rect x="760.81" y="507.86" width="10.19" height="9.97" fill="rgb(0, 223, 255)"/>
<rect x="770.95" y="507.86" width="10.19" height="9.97" fill="rgb(0, 223, 255)"/>
<rect x="781.09" y="507.86" width="10.19" height="9.97" fill="rgb(0, 0, 143)"/>
<rect x="791.22" y="507.86" width="10.19" height="9.97" fill="rgb(0, 0, 143)"/>
<rect x="801.36" y="507.86" width="10.19" height="9.97" fill="rgb(0, 0, 143)"/>
<rect x="811.50" y="507.86" width="10.19" height="9.97" fill="rgb(0, 0, 143)"/>
<rect x="821.64" y="507.86" width="10.19" height="9.97" fill="rgb(0, 0, 143)"/>
<rect x="831.77" y="507.86" width="10.19" height="9.97" fill="rgb(0, 0, 143)"/>
<rect x="841.91" y="507.86" width="10.19" height="9.97" fill="rgb(0, 0, 143)"/>
<rect x="852.05" y="507.86" width="10.19" height="9.97" fill="rgb(0, 0, 143)"/>
<rect x="862.18" y="507.86" width="10.19" height="9.97" fill="rgb(0, 0, 143)"/>
<rect x="872.32" y="507.86" width="10.19" height="9.97" fill="rgb(0, 0, 143)"/>
<rect x="882.46" y="507.86" width="10.19" height="9.97" fill="rgb(0, 0, 143)"/>
<rect x="892.60" y="507.86" width="10.19" height="9.97" fill="rgb(0, 0, 143)"/>
<rect x="902.73" y="507.86" width="10.19" height="9.97" fill="rgb(0, 0, 143)"/>
<rect x="912.87" y="507.86" width="10.19" height="9.97" fill="rgb(0, 0, 143)"/>
<rect x="923.01" y="507.86" width="10.19" height="9.97" fill="rgb(0, 0, 143)"/>
<rect x="933.14" y="507.86" width="10.19" height="9.97" fill="rgb(0, 0, 143)"/>
<rect x="943.28" y="507.86" width="10.19" height="9.97" fill="rgb(0, 0, 143)"/>
<rect x="953.42" y="507.86" width="10.19" height="9.97" fill="rgb(0, 0, 143)"/>
<rect x="537.80" y="497.94" width="10.19" height="9.97" fill="rgb(128, 0, 0)"/>
<rect x="547.94" y="497.94" width="10.19" height="9.97" fill="rgb(128, 0, 0)"/>
<rect x="558.07" y="497.94" width="10.19" height="9.97" fill="rgb(128, 0, 0)"/>
<rect x="568.21" y="497.94" width="10.19" height="9.97" fill="rgb(128, 0, 0)"/>
<rect x="578.35" y="497.94" width="10.19" height="9.97" fill="rgb(128, 0, 0)"/>
<rect x="588.48" y="497.94" width="10.19" height="9.97" fill="rgb(128, 0, 0)"/>
<rect x="598.62" y="497.94" width="10.19" height="9.97" fill="rgb(128, 0, 0)"/>
<rect x="608.76" y="497.94" width="10.19" height="9.97" fill="rgb(143, 255, 112)"/>
<rect x="618.90" y="497.94" width="10.19" height="9.97" fill="rgb(0, 223, 255)"/>
<rect x="629.03" y="497.94" width="10.19" height="9.97" fill="rgb(0, 0, 143)"/>
<rect x="639.17" y="497.94" width="10.19" height="9.97" fill="rgb(0, 0, 143)"/>
<rect x="649.31" y="497.94" width="10.19" height="9.97" fill="rgb(0, 0, 143)"/>
<rect x="659.44" y="497.94" width="10.19" height="9.97" fill="rgb(0, 0, 143)"/>
<rect x="669.58" y="497.94" width="10.19" height="9.97" fill="rgb(0, 0, 143)"/>
<rect x="679.72" y="497.94" width="10.19" height="9.97" fill="rgb(0, 0, 143)"/>
<rect x="689.86" y="497.94" width="10.19" height="9.97" fill="rgb(0, 0, 143)"/>
<rect x="699.99" y="497.94" width="10.19" height="9.97" fill="rgb(0, 0, 143)"/>
<rect x="710.13" y="497.94" width="10.19" height="9.97" fill="rgb(0, 0, 143)"/>
<rect x="720.27" y="497.94" width="10.19" height="9.97" fill="rgb(0, 0, 143)"/>
<rect x="730.40" y="497.94" width="10.19" height="9.97" fill="rgb(0, 0, 143)"/>
<rect x="740.54" y="497.94" width="10.19" height="9.97" fill="rgb(0, 143, 255)"/>
<rect x="750.68" y="497.94" width="10.19" height="9.97" fill="rgb(0, 223, 255)"/>
<rect x="760.81" y="497.94" width="10.19" height="9.97" fill="rgb(0, 223, 255)"/>
<rect x="770.95" y="497.94" width="10.19" height="9.97" fill="rgb(0, 223, 255)"/>
<rect x="781.09" y="497.94" width="10.19" height="9.97" fill="rgb(0, 0, 143)"/>
<rect x="791.22" y="497.94" width="10.19" height="9.97" fill="rgb(0, 0, 143)"/>
<rect x="801.36" y="497.94" width="10.19" height="9.97" fill="rgb(0, 0, 143)"/>
<rect x="811.50" y="497.94" width="10.19" height="9.97" fill="rgb(0, 0, 143)"/>
<rect x="821.64" y="497.94" width="10.19" height="9.97" fill="rgb(0, 0, 143)"/>
<rect x="831.77" y="497.94" width="10.19" height="9.97" fill="rgb(0, 0, 143)"/>
<rect x="841.91" y="497.94" width="10.19" height="9.97" fill="rgb(0, 0, 143)"/>
<rect x="852.05" y="497.94" width="10.19" height="9.97" fill="rgb(0, 0, 143)"/>
<rect x="862.18" y="497.94" width="10.19" height="9.97" fill="rgb(0, 0, 143)"/>
<rect x="872.32" y="497.94" width="10.19" height="9.97" fill="rgb(0, 0, 143)"/>
<rect x="882.46" y="497.94" width="10.19" height="9.97" fill="rgb(0, 0, 143)"/>
<rect x="892.60" y="497.94" width="10.19" height="9.97" fill="rgb(0, 0, 143)"/>
<rect x="902.73" y="497.94" width="10.19" height="9.97" fill="rgb(0, 0, 143)"/>
<rect x="912.87" y="497.94" width="10.19" height="9.97" fill="rgb(0, 0, 143)"/>
<rect x="923.01" y="497.94" width="10.19" height="9.97" fill="rgb(0, 0, 143)"/>
<rect x="933.14" y="497.94" width="10.19" height="9.97" fill="rgb(0, 0, 143)"/>
<rect x="943.28" y="497.94" width="10.19" height="9.97" fill="rgb(0, 0, 143)"/>
<rect x="953.42" y="497.94" width="10.19" height="9.97" fill="rgb(0, 0, 143)"/>
<rect x="537.80" y="488.02" width="10.19" height="9.97" fill="rgb(128, 0, 0)"/>
<rect x="547.94" y="488.02" width="10.19" height="9.97" fill="rgb(128, 0, 0)"/>
<rect x="558.07" y="488.02" width="10.19" height="9.97" fill="rgb(128, 0, 0)"/>
<rect x="568.21" y="488.02" width="10.19" height="9.97" fill="rgb(128, 0, 0)"/>
<rect x="578.35" y="488.02" width="10.19" height="9.97" fill="rgb(128, 0, 0)"/>
<rect x="588.48" y="488.02" width="10.19" height="9.97" fill="rgb(128, 0, 0)"/>
<rect x="598.62" y="488.02" width="10.19" height="9.97" fill="rgb(128, 0, 0)"/>
<rect x="608.76" y="488.02" width="10.19" height="9.97" fill="rgb(143, 255, 112)"/>
<rect x="618.90" y="488.02" width="10.19" height="9.97" fill="rgb(0, 223, 255)"/>
<rect x="629.03" y="488.02" width="10.19" height="9.97" fill="rgb(0, 0, 143)"/>
<rect x="639.17" y="488.02" width="10.19" height="9.97" fill="rgb(0, 0, 143)"/>
<rect x="649.31" y="488.02" width="10.19" height="9.97" fill="rgb(0, 0, 143)"/>
<rect x="659.44" y="488.02" width="10.19" height="9.97" fill="rgb(0, 0, 143)"/>
<rect x="669.58" y="488.02" width="10.19" height="9.97" fill="rgb(0, 0, 143)"/>
<rect x="679.72" y="488.02" width="10.19" height="9.97" fill="rgb(0, 0, 143)"/>
<rect x="689.86" y="488.02" width="10.19" height="9.97" fill="rgb(0, 0, 143)"/>
<rect x="699.99" y="488.02" width="10.19" height="9.97" fill="rgb(0, 0, 143)"/>
<rect x="710.13" y="488.02" width="10.19" height="9.97" fill="rgb(0, 0, 143)"/>
<rect x="720.27" y="488.02" width="10.19" height="9.97" fill="rgb(0, 0, 143)"/>
<rect x="730.40" y="488.02" width="10.19" height="9.97" fill="rgb(0, 0, 143)"/>
<rect x="740.54" y="488.02" width="10.19" height="9.97" fill="rgb(0, 143, 255)"/>
<rect x="750.68" y="488.02" width="10.19" height="9.97" fill="rgb(0, 223, 255)"/>
<rect x="760.81" y="488.02" width="10.19" height="9.97" fill="rgb(0, 223, 255)"/>
<rect x="770.95" y="488.02" width="10.19" height="9.97" fill="rgb(0, 223, 255)"/>
<rect x="781.09" y="488.02" width="10.19" height="9.97" fill="rgb(0, 0, 143)"/>
<rect x="791.22" y="488.02" width="10.19" height="9.97" fill="rgb(0, 0, 143)"/>
<rect x="801.36" y="488.02" width="10.19" height="9.97" fill="rgb(0, 0, 143)"/>
<rect x="811.50" y="488.02" width="10.19" height="9.97" fill="rgb(0, 0, 143)"/>
<rect x="821.64" y="488.02" width="10.19" height="9.97" fill="rgb(0, 0, 143)"/>
<rect x="831.77" y="488.02" width="10.19" height="9.97" fill="rgb(0, 0, 143)"/>
<rect x="841.91" y="488.02" width="10.19" height="9.97" fill="rgb(0, 0, 143)"/>
<rect x="852.05" y="488.02" width="10.19" height="9.97" fill="rgb(0, 0, 143)"/>
<rect x="862.18" y="488.02" width="10.19" height="9.97" fill="rgb(0, 0, 143)"/>
<rect x="872.32" y="488.02" width="10.19" height="9.97" fill="rgb(0, 0, 143)"/>
<rect x="882.46" y="488.02" width="10.19" height="9.97" fill="rgb(0, 0, 143)"/>
<rect x="892.60" y="488.02" width="10.19" height="9.97" fill="rgb(0, 0, 143)"/>
<rect x="902.73" y="488.02" width="10.19" height="9.97" fill="rgb(0, 0, 143)"/>
<rect x="912.87" y="488.02" width="10.19" height="9.97" fill="rgb(0, 0, 143)"/>
<rect x="923.01" y="488.02" width="10.19" height="9.97" fill="rgb(0, 0, 143)"/>
<rect x="933.14" y="488.02" width="10.19" height="9.97" fill="rgb(0, 0, 143)"/>
<rect x="943.28" y="488.02" width="10.19" height="9.97" fill="rgb(0, 0, 143)"/>
<rect x="953.42" y="488.02" width="10.19" height="9.97" fill="rgb(0, 0, 143)"/>
<rect x="537.80" y="478.10" width="10.19" height="9.97" fill="rgb(128, 0, 0)"/>
<rect x="547.94" y="478.10" width="10.19" height="9.97" fill="rgb(128, 0, 0)"/>
<rect x="558.07" y="478.10" width="10.19" height="9.97" fill="rgb(128, 0, 0)"/>
<rect x="568.21" y="478.10" width="10.19" height="9.97" fill="rgb(128, 0, 0)"/>
<rect x="578.35" y="478.10" width="10.19" height="9.97" fill="rgb(128, 0, 0)"/>
<rect x="588.48" y="478.10" width="10.19" height="9.97" fill="rgb(128, 0, 0)"/>
<rect x="598.62" y="478.10" width="10.19" height="9.97" fill="rgb(128, 0, 0)"/>
<rect x="608.76" y="478.10" width="10.19" height="9.97" fill="rgb(143, 255, 112)"/>
<rect x="618.90" y="478.10" width="10.19" height="9.97" fill="rgb(0, 223, 255)"/>
<rect x="629.03" y="478.10" width="10.19" height="9.97" fill="rgb(0, 0, 143)"/>
<rect x="639.17" y="478.10" width="10.19" height="9.97" fill="rgb(0, 0, 143)"/>
<rect x="649.31" y="478.10" width="10.19" height="9.97" fill="rgb(0, 0, 143)"/>
<rect x="659.44" y="478.10" width="10.19" height="9.97" fill="rgb(0, 0, 143)"/>
<rect x="669.58" y="478.10" width="10.19" height="9.97" fill="rgb(0, 0, 143)"/>
<rect x="679.72" y="478.10" width="10.19" height="9.97" fill="rgb(0, 0, 143)"/>
<rect x="689.86" y="478.10" width="10.19" height="9.97" fill="rgb(0, 0, 143)"/>
<rect x="699.99" y="478.10" width="10.19" height="9.97" fill="rgb(0, 0, 143)"/>
<rect x="710.13" y="478.10" width="10.19" height="9.97" fill="rgb(0, 0, 143)"/>
<rect x="720.27" y="478.10" width="10.19" height="9.97" fill="rgb(0, 0, 143)"/>
<rect x="730.40" y="478.10" width="10.19" height="9.97" fill="rgb(0, 0, 143)"/>
<rect x="740.54" y="478.10" width="10.19" height="9.97" fill="rgb(0, 143, 255)"/>
<rect x="750.68" y="478.10" width="10.19" height="9.97" fill="rgb(0, 223, 255)"/>
<rect x="760.81" y="478.10" width="10.19" height="9.97" fill="rgb(0, 223, 255)"/>
<rect x="770.95" y="478.10" width="10.19" height="9.97" fill="rgb(0, 223, 255)"/>
<rect x="781.09" y="478.10" width="10.19" height="9.97" fill="rgb(0, 0, 143)"/>
<rect x="791.22" y="478.10" width="10.19" height="9.97" fill="rgb(0, 0, 143)"/>
<rect x="801.36" y="478.10" width="10.19" height="9.97" fill="rgb(0, 0, 143)"/>
<rect x="811.50" y="478.10" width="10.19" height="9.97" fill="rgb(0, 0, 143)"/>
<rect x="821.64" y="478.10" width="10.19" height="9.97" fill="rgb(0, 0, 143)"/>
<rect x="831.77" y="478.10" width="10.19" height="9.97" fill="rgb(0, 0, 143)"/>
<rect x="841.91" y="478.10" width="10.19" height="9.97" fill="rgb(0, 0, 143)"/>
<rect x="852.05" y="478.10" width="10.19" height="9.97" fill="rgb(0, 0, 143)"/>
<rect x="862.18" y="478.10" width="10.19" height="9.97" fill="rgb(0, 0, 143)"/>
<rect x="872.32" y="478.10" width="10.19" height="9.97" fill="rgb(0, 0, 143)"/>
<rect x="882.46" y="478.10" width="10.19" height="9.97" fill="rgb(0, 0, 143)"/>
<rect x="892.60" y="478.10" width="10.19" height="9.97" fill="rgb(0, 0, 143)"/>
<rect x="902.73" y="478.10" width="10.19" height="9.97" fill="rgb(0, 0, 143)"/>
<rect x="912.87" y="478.10" width="10.19" height="9.97" fill="rgb(0, 0, 143)"/>
<rect x="923.01" y="478.10" width="10.19" height="9.97" fill="rgb(0, 0, 143)"/>
<rect x="933.14" y="478.10" width="10.19" height="9.97" fill="rgb(0, 0, 143)"/>
<rect x="943.28" y="478.10" width="10.19" height="9.97" fill="rgb(0, 0, 143)"/>
<rect x="953.42" y="478.10" width="10.19" height="9.97" fill="rgb(0, 0, 143)"/>
<rect x="537.80" y="468.17" width="10.19" height="9.97" fill="rgb(128, 0, 0)"/>
<rect x="547.94" y="468.17" width="10.19" height="9.97" fill="rgb(128, 0, 0)"/>
<rect x="558.07" y="468.17" width="10.19" height="9.97" fill="rgb(128, 0, 0)"/>
<rect x="568.21" y="468.17" width="10.19" height="9.97" fill="rgb(128, 0, 0)"/>
<rect x="578.35" y="468.17" width="10.19" height="9.97" fill="rgb(128, 0, 0)"/>
<rect x="588.48" y="468.17" width="10.19" height="9.97" fill="rgb(128, 0, 0)"/>
<rect x="598.62" y="468.17" width="10.19" height="9.97" fill="rgb(128, 0, 0)"/>
<rect x="608.76" y="468.17" width="10.19" height="9.97" fill="rgb(143, 255, 112)"/>
<rect x="618.90" y="468.17" width="10.19" height="9.97" fill="rgb(0, 223, 255)"/>
<rect x="629.03" y="468.17" width="10.19" height="9.97" fill="rgb(0, 0, 143)"/>
<rect x="639.17" y="468.17" width="10.19" height="9.97" fill="rgb(0, 0, 143)"/>
<rect x="649.31" y="468.17" width="10.19" height="9.97" fill="rgb(0, 0, 143)"/>
<rect x="659.44" y="468.17" width="10.19" height="9.97" fill="rgb(0, 0, 143)"/>
<rect x="669.58" y="468.17" width="10.19" height="9.97" fill="rgb(0, 0, 143)"/>
<rect x="679.72" y="468.17" width="10.19" height="9.97" fill="rgb(0, 0, 143)"/>
<rect x="689.86" y="468.17" width="10.19" height="9.97" fill="rgb(0, 0, 143)"/>
<rect x="699.99" y="468.17" width="10.19" height="9.97" fill="rgb(0, 0, 143)"/>
<rect x="710.13" y="468.17" width="10.19" height="9.97" fill="rgb(0, 0, 143)"/>
<rect x="720.27" y="468.17" width="10.19" height="9.97" fill="rgb(0, 0, 143)"/>
<rect x="730.40" y="468.17" width="10.19" height="9.97" fill="rgb(0, 0, 143)"/>
<rect x="740.54" y="468.17" width="10.19" height="9.97" fill="rgb(0, 143, 255)"/>
<rect x="750.68" y="468.17" width="10.19" height="9.97" fill="rgb(0, 223, 255)"/>
<rect x="760.81" y="468.17" width="10.19" height="9.97" fill="rgb(0, 223, 255)"/>
<rect x="770.95" y="468.17" width="10.19" height="9.97" fill="rgb(0, 223, 255)"/>
<rect x="781.09" y="468.17" width="10.19" height="9.97" fill="rgb(0, 0, 143)"/>
<rect x="791.22" y="468.17" width="10.19" height="9.97" fill="rgb(0, 0, 143)"/>
<rect x="801.36" y="468.17" width="10.19" height="9.97" fill="rgb(0, 0, 143)"/>
<rect x="811.50" y="468.17" width="10.19" height="9.97" fill="rgb(0, 0, 143)"/>
<rect x="821.64" y="468.17" width="10.19" height="9.97" fill="rgb(0, 0, 143)"/>
<rect x="831.77" y="468.17" width="10.19" height="9.97" fill="rgb(0, 0, 143)"/>
<rect x="841.91" y="468.17" width="10.19" height="9.97" fill="rgb(0, 0, 143)"/>
<rect x="852.05" y="468.17" width="10.19" height="9.97" fill="rgb(0, 0, 143)"/>
<rect x="862.18" y="468.17" width="10.19" height="9.97" fill="rgb(0, 0, 143)"/>
<rect x="872.32" y="468.17" width="10.19" height="9.97" fill="rgb(0, 0, 143)"/>
<rect x="882.46" y="468.17" width="10.19" height="9.97" fill="rgb(0, 0, 143)"/>
<rect x="892.60" y="468.17" width="10.19" height="9.97" fill="rgb(0, 0, 143)"/>
<rect x="902.73" y="468.17" width="10.19" height="9.97" fill="rgb(0, 0, 143)"/>
<rect x="912.87" y="468.17" width="10.19" height="9.97" fill="rgb(0, 0, 143)"/>
<rect x="923.01" y="468.17" width="10.19" height="9.97" fill="rgb(0, 0, 143)"/>
<rect x="933.14" y="468.17" width="10.19" height="9.97" fill="rgb(0, 0, 143)"/>
<rect x="943.28" y="468.17" width="10.19" height="9.97" fill="rgb(0, 0, 143)"/>
<rect x="953.42" y="468.17" width="10.19" height="9.97" fill="rgb(0, 0, 143)"/>
<rect x="537.80" y="458.25" width="10.19" height="9.97" fill="rgb(128, 0, 0)"/>
<rect x="547.94" y="458.25" width="10.19" height="9.97" fill="rgb(128, 0, 0)"/>
<rect x="558.07" y="458.25" width="10.19" height="9.97" fill="rgb(128, 0, 0)"/>
<rect x="568.21" y="458.25" width="10.19" height="9.97" fill="rgb(128, 0, 0)"/>
<rect x="578.35" y="458.25" width="10.19" height="9.97" fill="rgb(128, 0, 0)"/>
<rect x="588.48" y="458.25" width="10.19" height="9.97" fill="rgb(128, 0, 0)"/>
<rect x="598.62" y="458.25" width="10.19" height="9.97" fill="rgb(128, 0, 0)"/>
<rect x="608.76" y="458.25" width="10.19" height="9.97" fill="rgb(143, 255, 112)"/>
<rect x="618.90" y="458.25" width="10.19" height="9.97" fill="rgb(0, 223, 255)"/>
<rect x="629.03" y="458.25" width="10.19" height="9.97" fill="rgb(0, 0, 143)"/>
<rect x="639.17" y="458.25" width="10.19" height="9.97" fill="rgb(0, 0, 143)"/>
<rect x="649.31" y="458.25" width="10.19" height="9.97" fill="rgb(0, 0, 143)"/>
<rect x="659.44" y="458.25" width="10.19" height="9.97" fill="rgb(0, 0, 143)"/>
<rect x="669.58" y="458.25" width="10.19" height="9.97" fill="rgb(0, 0, 143)"/>
<rect x="679.72" y="458.25" width="10.19" height="9.97" fill="rgb(0, 0, 143)"/>
<rect x="689.86" y="458.25" width="10.19" height="9.97" fill="rgb(0, 0, 143)"/>
<rect x="699.99" y="458.25" width="10.19" height="9.97" fill="rgb(0, 0, 143)"/>
<rect x="710.13" y="458.25" width="10.19" height="9.97" fill="rgb(0, 0, 143)"/>
<rect x="720.27" y="458.25" width="10.19" height="9.97" fill="rgb(0, 0, 143)"/>
<rect x="730.40" y="458.25" width="10.19" height="9.97" fill="rgb(0, 0, 143)"/>
<rect x="740.54" y="458.25" width="10.19" height="9.97" fill="rgb(0, 143, 255)"/>
<rect x="750.68" y="458.25" width="10.19" height="9.97" fill="rgb(0, 223, 255)"/>
<rect x="760.81" y="458.25" width="10.19" height="9.97" fill="rgb(0, 223, 255)"/>
<rect x="770.95" y="458.25" width="10.19" height="9.97" fill="rgb(0, 223, 255)"/>
<rect x="781.09" y="458.25" width="10.19" height="9.97" fill="rgb(0, 0, 143)"/>
<rect x="791.22" y="458.25" width="10.19" height="9.97" fill="rgb(0, 0, 143)"/>
<rect x="801.36" y="458.25" width="10.19" height="9.97" fill="rgb(0, 0, 143)"/>
<rect x="811.50" y="458.25" width="10.19" height="9.97" fill="rgb(0, 0, 143)"/>
<rect x="821.64" y="458.25" width="10.19" height="9.97" fill="rgb(0, 0, 143)"/>
<rect x="831.77" y="458.25" width="10.19" height="9.97" fill="rgb(0, 0, 143)"/>
<rect x="841.91" y="458.25" width="10.19" height="9.97" fill="rgb(0, 0, 143)"/>
<rect x="852.05" y="458.25" width="10.19" height="9.97" fill="rgb(0, 0, 143)"/>
<rect x="862.18" y="458.25" width="10.19" height="9.97" fill="rgb(0, 0, 143)"/>
<rect x="872.32" y="458.25" width="10.19" height="9.97" fill="rgb(0, 0, 143)"/>
<rect x="882.46" y="458.25" width="10.19" height="9.97" fill="rgb(0, 0, 143)"/>
<rect x="892.60" y="458.25" width="10.19" height="9.97" fill="rgb(0, 0, 143)"/>
<rect x="902.73" y="458.25" width="10.19" height="9.97" fill="rgb(0, 0, 143)"/>
<rect x="912.87" y="458.25" width="10.19" height="9.97" fill="rgb(0, 0, 143)"/>
<rect x="923.01" y="458.25" width="10.19" height="9.97" fill="rgb(0, 0, 143)"/>
<rect x="933.14" y="458.25" width="10.19" height="9.97" fill="rgb(0, 0, 143)"/>
<rect x="943.28" y="458.25" width="10.19" height="9.97" fill="rgb(0, 0, 143)"/>
<rect x="953.42" y="458.25" width="10.19" height="9.97" fill="rgb(0, 0, 143)"/>
<rect x="537.80" y="448.33" width="10.19" height="9.97" fill="rgb(143, 255, 112)"/>
<rect x="547.94" y="448.33" width="10.19" height="9.97" fill="rgb(143, 255, 112)"/>
<rect x="558.07" y="448.33" width="10.19" height="9.97" fill="rgb(143, 255, 112)"/>
<rect x="568.21" y="448.33" width="10.19" height="9.97" fill="rgb(143, 255, 112)"/>
<rect x="578.35" y="448.33" width="10.19" height="9.97" fill="rgb(143, 255, 112)"/>
<rect x="588.48" y="448.33" width="10.19" height="9.97" fill="rgb(143, 255, 112)"/>
<rect x="598.62" y="448.33" width="10.19" height="9.97" fill="rgb(143, 255, 112)"/>
<rect x="608.76" y="448.33" width="10.19" height="9.97" fill="rgb(128, 0, 0)"/>
<rect x="618.90" y="448.33" width="10.19" height="9.97" fill="rgb(255, 207, 0)"/>
<rect x="629.03" y="448.33" width="10.19" height="9.97" fill="rgb(0, 0, 143)"/>
<rect x="639.17" y="448.33" width="10.19" height="9.97" fill="rgb(0, 0, 143)"/>
<rect x="649.31" y="448.33" width="10.19" height="9.97" fill="rgb(0, 223, 255)"/>
<rect x="659.44" y="448.33" width="10.19" height="9.97" fill="rgb(0, 223, 255)"/>
<rect x="669.58" y="448.33" width="10.19" height="9.97" fill="rgb(0, 0, 143)"/>
<rect x="679.72" y="448.33" width="10.19" height="9.97" fill="rgb(0, 0, 143)"/>
<rect x="689.86" y="448.33" width="10.19" height="9.97" fill="rgb(0, 0, 143)"/>
<rect x="699.99" y="448.33" width="10.19" height="9.97" fill="rgb(0, 0, 143)"/>
<rect x="710.13" y="448.33" width="10.19" height="9.97" fill="rgb(0, 0, 143)"/>
<rect x="720.27" y="448.33" width="10.19" height="9.97" fill="rgb(0, 0, 143)"/>
<rect x="730.40" y="448.33" width="10.19" height="9.97" fill="rgb(0, 0, 143)"/>
<rect x="740.54" y="448.33" width="10.19" height="9.97" fill="rgb(0, 96, 255)"/>
<rect x="750.68" y="448.33" width="10.19" height="9.97" fill="rgb(0, 143, 255)"/>
<rect x="760.81" y="448.33" width="10.19" height="9.97" fill="rgb(255, 207, 0)"/>
<rect x="770.95" y="448.33" width="10.19" height="9.97" fill="rgb(0, 143, 255)"/>
<rect x="781.09" y="448.33" width="10.19" height="9.97" fill="rgb(0, 0, 143)"/>
<rect x="791.22" y="448.33" width="10.19" height="9.97" fill="rgb(0, 96, 255)"/>
<rect x="801.36" y="448.33" width="10.19" height="9.97" fill="rgb(0, 0, 143)"/>
<rect x="811.50" y="448.33" width="10.19" height="9.97" fill="rgb(0, 0, 143)"/>
<rect x="821.64" y="448.33" width="10.19" height="9.97" fill="rgb(0, 0, 143)"/>
<rect x="831.77" y="448.33" width="10.19" height="9.97" fill="rgb(0, 0, 143)"/>
<rect x="841.91" y="448.33" width="10.19" height="9.97" fill="rgb(0, 0, 143)"/>
<rect x="852.05" y="448.33" width="10.19" height="9.97" fill="rgb(0, 0, 143)"/>
<rect x="862.18" y="448.33" width="10.19" height="9.97" fill="rgb(0, 0, 143)"/>
<rect x="872.32" y="448.33" width="10.19" height="9.97" fill="rgb(0, 0, 143)"/>
<rect x="882.46" y="448.33" width="10.19" height="9.97" fill="rgb(0, 0, 143)"/>
<rect x="892.60" y="448.33" width="10.19" height="9.97" fill="rgb(0, 0, 143)"/>
<rect x="902.73" y="448.33" width="10.19" height="9.97" fill="rgb(0, 0, 143)"/>
<rect x="912.87" y="448.33" width="10.19" height="9.97" fill="rgb(0, 0, 143)"/>
<rect x="923.01" y="448.33" width="10.19" height="9.97" fill="rgb(0, 0, 143)"/>
<rect x="933.14" y="448.33" width="10.19" height="9.97" fill="rgb(0, 0, 143)"/>
<rect x="943.28" y="448.33" width="10.19" height="9.97" fill="rgb(0, 0, 143)"/>
<rect x="953.42" y="448.33" width="10.19" height="9.97" fill="rgb(0, 0, 143)"/>
<rect x="537.80" y="438.41" width="10.19" height="9.97" fill="rgb(0, 223, 255)"/>
<rect x="547.94" y="438.41" width="10.19" height="9.97" fill="rgb(0, 223, 255)"/>
<rect x="558.07" y="438.41" width="10.19" height="9.97" fill="rgb(0, 223, 255)"/>
<rect x="568.21" y="438.41" width="10.19" height="9.97" fill="rgb(0, 223, 255)"/>
<rect x="578.35" y="438.41" width="10.19" height="9.97" fill="rgb(0, 223, 255)"/>
<rect x="588.48" y="438.41" width="10.19" height="9.97" fill="rgb(0, 223, 255)"/>
<rect x="598.62" y="438.41" width="10.19" height="9.97" fill="rgb(0, 223, 255)"/>
<rect x="608.76" y="438.41" width="10.19" height="9.97" fill="rgb(255, 207, 0)"/>
<rect x="618.90" y="438.41" width="10.19" height="9.97" fill="rgb(128, 0, 0)"/>
<rect x="629.03" y="438.41" width="10.19" height="9.97" fill="rgb(0, 223, 255)"/>
<rect x="639.17" y="438.41" width="10.19" height="9.97" fill="rgb(0, 223, 255)"/>
<rect x="649.31" y="438.41" width="10.19" height="9.97" fill="rgb(0, 143, 255)"/>
<rect x="659.44" y="438.41" width="10.19" height="9.97" fill="rgb(0, 143, 255)"/>
<rect x="669.58" y="438.41" width="10.19" height="9.97" fill="rgb(0, 143, 255)"/>
<rect x="679.72" y="438.41" width="10.19" height="9.97" fill="rgb(0, 0, 143)"/>
<rect x="689.86" y="438.41" width="10.19" height="9.97" fill="rgb(0, 0, 143)"/>
<rect x="699.99" y="438.41" width="10.19" height="9.97" fill="rgb(0, 0, 143)"/>
<rect x="710.13" y="438.41" width="10.19" height="9.97" fill="rgb(0, 0, 143)"/>
<rect x="720.27" y="438.41" width="10.19" height="9.97" fill="rgb(0, 0, 143)"/>
<rect x="730.40" y="438.41" width="10.19" height="9.97" fill="rgb(0, 0, 143)"/>
<rect x="740.54" y="438.41" width="10.19" height="9.97" fill="rgb(48, 255, 207)"/>
<rect x="750.68" y="438.41" width="10.19" height="9.97" fill="rgb(0, 96, 255)"/>
<rect x="760.81" y="438.41" width="10.19" height="9.97" fill="rgb(143, 255, 112)"/>
<rect x="770.95" y="438.41" width="10.19" height="9.97" fill="rgb(0, 96, 255)"/>
<rect x="781.09" y="438.41" width="10.19" height="9.97" fill="rgb(0, 0, 143)"/>
<rect x="791.22" y="438.41" width="10.19" height="9.97" fill="rgb(0, 64, 255)"/>
<rect x="801.36" y="438.41" width="10.19" height="9.97" fill="rgb(0, 0, 143)"/>
<rect x="811.50" y="438.41" width="10.19" height="9.97" fill="rgb(0, 32, 255)"/>
<rect x="821.64" y="438.41" width="10.19" height="9.97" fill="rgb(0, 0, 143)"/>
<rect x="831.77" y="438.41" width="10.19" height="9.97" fill="rgb(0, 0, 143)"/>
<rect x="841.91" y="438.41" width="10.19" height="9.97" fill="rgb(0, 0, 143)"/>
<rect x="852.05" y="438.41" width="10.19" height="9.97" fill="rgb(0, 0, 143)"/>
<rect x="862.18" y="438.41" width="10.19" height="9.97" fill="rgb(0, 0, 143)"/>
<rect x="872.32" y="438.41" width="10.19" height="9.97" fill="rgb(0, 0, 143)"/>
<rect x="882.46" y="438.41" width="10.19" height="9.97" fill="rgb(0, 0, 143)"/>
<rect x="892.60" y="438.41" width="10.19" height="9.97" fill="rgb(0, 0, 143)"/>
<rect x="902.73" y="438.41" width="10.19" height="9.97" fill="rgb(0, 0, 143)"/>
<rect x="912.87" y="438.41" width="10.19" height="9.97" fill="rgb(0, 0, 143)"/>
<rect x="923.01" y="438.41" width="10.19" height="9.97" fill="rgb(0, 0, 143)"/>
<rect x="933.14" y="438.41" width="10.19" height="9.97" fill="rgb(0, 0, 143)"/>
<rect x="943.28" y="438.41" width="10.19" height="9.97" fill="rgb(0, 0, 143)"/>
<rect x="953.42" y="438.41" width="10.19" height="9.97" fill="rgb(0, 0, 143)"/>
<rect x="537.80" y="428.49" width="10.19" height="9.97" fill="rgb(0, 0, 143)"/>
<rect x="547.94" y="428.49" width="10.19" height="9.97" fill="rgb(0, 0, 143)"/>
<rect x="558.07" y="428.49" width="10.19" height="9.97" fill="rgb(0, 0, 143)"/>
<rect x="568.21" y="428.49" width="10.19" height="9.97" fill="rgb(0, 0, 143)"/>
<rect x="578.35" y="428.49" width="10.19" height="9.97" fill="rgb(0, 0, 143)"/>
<rect x="588.48" y="428.49" width="10.19" height="9.97" fill="rgb(0, 0, 143)"/>
<rect x="598.62" y="428.49" width="10.19" height="9.97" fill="rgb(0, 0, 143)"/>
<rect x="608.76" y="428.49" width="10.19" height="9.97" fill="rgb(0, 0, 143)"/>
<rect x="618.90" y="428.49" width="10.19" height="9.97" fill="rgb(0, 223, 255)"/>
<rect x="629.03" y="428.49" width="10.19" height="9.97" fill="rgb(128, 0, 0)"/>
<rect x="639.17" y="428.49" width="10.19" height="9.97" fill="rgb(128, 0, 0)"/>
<rect x="649.31" y="428.49" width="10.19" height="9.97" fill="rgb(0, 0, 143)"/>
<rect x="659.44" y="428.49" width="10.19" height="9.97" fill="rgb(0, 0, 143)"/>
<rect x="669.58" y="428.49" width="10.19" height="9.97" fill="rgb(143, 255, 112)"/>
<rect x="679.72" y="428.49" width="10.19" height="9.97" fill="rgb(0, 0, 143)"/>
<rect x="689.86" y="428.49" width="10.19" height="9.97" fill="rgb(0, 0, 143)"/>
<rect x="699.99" y="428.49" width="10.19" height="9.97" fill="rgb(0, 0, 143)"/>
<rect x="710.13" y="428.49" width="10.19" height="9.97" fill="rgb(0, 0, 143)"/>
<rect x="720.27" y="428.49" width="10.19" height="9.97" fill="rgb(0, 0, 143)"/>
<rect x="730.40" y="428.49" width="10.19" height="9.97" fill="rgb(0, 0, 143)"/>
<rect x="740.54" y="428.49" width="10.19" height="9.97" fill="rgb(0, 143, 255)"/>
<rect x="750.68" y="428.49" width="10.19" height="9.97" fill="rgb(0, 0, 143)"/>
<rect x="760.81" y="428.49" width="10.19" height="9.97" fill="rgb(0, 0, 143)"/>
<rect x="770.95" y="428.49" width="10.19" height="9.97" fill="rgb(0, 0, 143)"/>
<rect x="781.09" y="428.49" width="10.19" height="9.97" fill="rgb(0, 0, 143)"/>
<rect x="791.22" y="428.49" width="10.19" height="9.97" fill="rgb(0, 0, 143)"/>
<rect x="801.36" y="428.49" width="10.19" height="9.97" fill="rgb(0, 0, 143)"/>
<rect x="811.50" y="428.49" width="10.19" height="9.97" fill="rgb(0, 96, 255)"/>
<rect x="821.64" y="428.49" width="10.19" height="9.97" fill="rgb(0, 0, 143)"/>
<rect x="831.77" y="428.49" width="10.19" height="9.97" fill="rgb(0, 0, 143)"/>
<rect x="841.91" y="428.49" width="10.19" height="9.97" fill="rgb(0, 0, 143)"/>
<rect x="852.05" y="428.49" width="10.19" height="9.97" fill="rgb(0, 0, 143)"/>
<rect x="862.18" y="428.49" width="10.19" height="9.97" fill="rgb(0, 0, 143)"/>
<rect x="872.32" y="428.49" width="10.19" height="9.97" fill="rgb(0, 0, 143)"/>
<rect x="882.46" y="428.49" width="10.19" height="9.97" fill="rgb(0, 0, 143)"/>
<rect x="892.60" y="428.49" width="10.19" height="9.97" fill="rgb(0, 0, 143)"/>
<rect x="902.73" y="428.49" width="10.19" height="9.97" fill="rgb(0, 0, 143)"/>
<rect x="912.87" y="428.49" width="10.19" height="9.97" fill="rgb(0, 0, 143)"/>
<rect x="923.01" y="428.49" width="10.19" height="9.97" fill="rgb(0, 0, 143)"/>
<rect x="933.14" y="428.49" width="10.19" height="9.97" fill="rgb(0, 0, 143)"/>
<rect x="943.28" y="428.49" width="10.19" height="9.97" fill="rgb(0, 0, 143)"/>
<rect x="953.42" y="428.49" width="10.19" height="9.97" fill="rgb(0, 0, 143)"/>
<rect x="537.80" y="418.57" width="10.19" height="9.97" fill="rgb(0, 0, 143)"/>
<rect x="547.94" y="418.57" width="10.19" height="9.97" fill="rgb(0, 0, 143)"/>
<rect x="558.07" y="418.57" width="10.19" height="9.97" fill="rgb(0, 0, 143)"/>
<rect x="568.21" y="418.57" width="10.19" height="9.97" fill="rgb(0, 0, 143)"/>
<rect x="578.35" y="418.57" width="10.19" height="9.97" fill="rgb(0, 0, 143)"/>
<rect x="588.48" y="418.57" width="10.19" height="9.97" fill="rgb(0, 0, 143)"/>
<rect x="598.62" y="418.57" width="10.19" height="9.97" fill="rgb(0, 0, 143)"/>
<rect x="608.76" y="418.57" width="10.19" height="9.97" fill="rgb(0, 0, 143)"/>
<rect x="618.90" y="418.57" width="10.19" height="9.97" fill="rgb(0, 223, 255)"/>
<rect x="629.03" y="418.57" width="10.19" height="9.97" fill="rgb(128, 0, 0)"/>
<rect x="639.17" y="418.57" width="10.19" height="9.97" fill="rgb(128, 0, 0)"/>
<rect x="649.31" y="418.57" width="10.19" height="9.97" fill="rgb(0, 0, 143)"/>
<rect x="659.44" y="418.57" width="10.19" height="9.97" fill="rgb(0, 0, 143)"/>
<rect x="669.58" y="418.57" width="10.19" height="9.97" fill="rgb(143, 255, 112)"/>
<rect x="679.72" y="418.57" width="10.19" height="9.97" fill="rgb(0, 0, 143)"/>
<rect x="689.86" y="418.57" width="10.19" height="9.97" fill="rgb(0, 0, 143)"/>
<rect x="699.99" y="418.57" width="10.19" height="9.97" fill="rgb(0, 0, 143)"/>
<rect x="710.13" y="418.57" width="10.19" height="9.97" fill="rgb(0, 0, 143)"/>
<rect x="720.27" y="418.57" width="10.19" height="9.97" fill="rgb(0, 0, 143)"/>
<rect x="730.40" y="418.57" width="10.19" height="9.97" fill="rgb(0, 0, 143)"/>
<rect x="740.54" y="418.57" width="10.19" height="9.97" fill="rgb(0, 143, 255)"/>
<rect x="750.68" y="418.57" width="10.19" height="9.97" fill="rgb(0, 0, 143)"/>
<rect x="760.81" y="418.57" width="10.19" height="9.97" fill="rgb(0, 0, 143)"/>
<rect x="770.95" y="418.57" width="10.19" height="9.97" fill="rgb(0, 0, 143)"/>
<rect x="781.09" y="418.57" width="10.19" height="9.97" fill="rgb(0, 0, 143)"/>
<rect x="791.22" y="418.57" width="10.19" height="9.97" fill="rgb(0, 0, 143)"/>
<rect x="801.36" y="418.57" width="10.19" height="9.97" fill="rgb(0, 0, 143)"/>
<rect x="811.50" y="418.57" width="10.19" height="9.97" fill="rgb(0, 96, 255)"/>
<rect x="821.64" y="418.57" width="10.19" height="9.97" fill="rgb(0, 0, 143)"/>
<rect x="831.77" y="418.57" width="10.19" height="9.97" fill="rgb(0, 0, 143)"/>
<rect x="841.91" y="418.57" width="10.19" height="9.97" fill="rgb(0, 0, 143)"/>
<rect x="852.05" y="418.57" width="10.19" height="9.97" fill="rgb(0, 0, 143)"/>
<rect x="862.18" y="418.57" width="10.19" height="9.97" fill="rgb(0, 0, 143)"/>
<rect x="872.32" y="418.57" width="10.19" height="9.97" fill="rgb(0, 0, 143)"/>
<rect x="882.46" y="418.57" width="10.19" height="9.97" fill="rgb(0, 0, 143)"/>
<rect x="892.60" y="418.57" width="10.19" height="9.97" fill="rgb(0, 0, 143)"/>
<rect x="902.73" y="418.57" width="10.19" height="9.97" fill="rgb(0, 0, 143)"/>
<rect x="912.87" y="418.57" width="10.19" height="9.97" fill="rgb(0, 0, 143)"/>
<rect x="923.01" y="418.57" width="10.19" height="9.97" fill="rgb(0, 0, 143)"/>
<rect x="933.14" y="418.57" width="10.19" height="9.97" fill="rgb(0, 0, 143)"/>
<rect x="943.28" y="418.57" width="10.19" height="9.97" fill="rgb(0, 0, 143)"/>
<rect x="953.42" y="418.57" width="10.19" height="9.97" fill="rgb(0, 0, 143)"/>
<rect x="537.80" y="408.65" width="10.19" height="9.97" fill="rgb(0, 0, 143)"/>
<rect x="547.94" y="408.65" width="10.19" height="9.97" fill="rgb(0, 0, 143)"/>
<rect x="558.07" y="408.65" width="10.19" height="9.97" fill="rgb(0, 0, 143)"/>
<rect x="568.21" y="408.65" width="10.19" height="9.97" fill="rgb(0, 0, 143)"/>
<rect x="578.35" y="408.65" width="10.19" height="9.97" fill="rgb(0, 0, 143)"/>
<rect x="588.48" y="408.65" width="10.19" height="9.97" fill="rgb(0, 0, 143)"/>
<rect x="598.62" y="408.65" width="10.19" height="9.97" fill="rgb(0, 0, 143)"/>
<rect x="608.76" y="408.65" width="10.19" height="9.97" fill="rgb(0, 223, 255)"/>
<rect x="618.90" y="408.65" width="10.19" height="9.97" fill="rgb(0, 143, 255)"/>
<rect x="629.03" y="408.65" width="10.19" height="9.97" fill="rgb(0, 0, 143)"/>
<rect x="639.17" y="408.65" width="10.19" height="9.97" fill="rgb(0, 0, 143)"/>
<rect x="649.31" y="408.65" width="10.19" height="9.97" fill="rgb(128, 0, 0)"/>
<rect x="659.44" y="408.65" width="10.19" height="9.97" fill="rgb(0, 223, 255)"/>
<rect x="669.58" y="408.65" width="10.19" height="9.97" fill="rgb(0, 0, 143)"/>
<rect x="679.72" y="408.65" width="10.19" height="9.97" fill="rgb(0, 0, 143)"/>
<rect x="689.86" y="408.65" width="10.19" height="9.97" fill="rgb(0, 0, 143)"/>
<rect x="699.99" y="408.65" width="10.19" height="9.97" fill="rgb(0, 143, 255)"/>
<rect x="710.13" y="408.65" width="10.19" height="9.97" fill="rgb(0, 0, 143)"/>
<rect x="720.27" y="408.65" width="10.19" height="9.97" fill="rgb(0, 0, 143)"/>
<rect x="730.40" y="408.65" width="10.19" height="9.97" fill="rgb(0, 0, 143)"/>
<rect x="740.54" y="408.65" width="10.19" height="9.97" fill="rgb(0, 0, 143)"/>
<rect x="750.68" y="408.65" width="10.19" height="9.97" fill="rgb(0, 0, 143)"/>
<rect x="760.81" y="408.65" width="10.19" height="9.97" fill="rgb(0, 143, 255)"/>
<rect x="770.95" y="408.65" width="10.19" height="9.97" fill="rgb(0, 0, 143)"/>
<rect x="781.09" y="408.65" width="10.19" height="9.97" fill="rgb(0, 0, 143)"/>
<rect x="791.22" y="408.65" width="10.19" height="9.97" fill="rgb(0, 96, 255)"/>
<rect x="801.36" y="408.65" width="10.19" height="9.97" fill="rgb(0, 0, 143)"/>
<rect x="811.50" y="408.65" width="10.19" height="9.97" fill="rgb(0, 0, 143)"/>
<rect x="821.64" y="408.65" width="10.19" height="9.97" fill="rgb(0, 0, 143)"/>
<rect x="831.77" y="408.65" width="10.19" height="9.97" fill="rgb(0, 0, 143)"/>
<rect x="841.91" y="408.65" width="10.19" height="9.97" fill="rgb(0, 0, 143)"/>
<rect x="852.05" y="408.65" width="10.19" height="9.97" fill="rgb(0, 0, 143)"/>
<rect x="862.18" y="408.65" width="10.19" height="9.97" fill="rgb(0, 0, 143)"/>
<rect x="872.32" y="408.65" width="10.19" height="9.97" fill="rgb(0, 0, 143)"/>
<rect x="882.46" y="408.65" width="10.19" height="9.97" fill="rgb(0, 0, 143)"/>
<rect x="892.60" y="408.65" width="10.19" height="9.97" fill="rgb(0, 0, 143)"/>
<rect x="902.73" y="408.65" width="10.19" height="9.97" fill="rgb(0, 0, 143)"/>
<rect x="912.87" y="408.65" width="10.19" height="9.97" fill="rgb(0, 0, 143)"/>
<rect x="923.01" y="408.65" width="10.19" height="9.97" fill="rgb(0, 0, 143)"/>
<rect x="933.14" y="408.65" width="10.19" height="9.97" fill="rgb(0, 0, 143)"/>
<rect x="943.28" y="408.65" width="10.19" height="9.97" fill="rgb(0, 0, 143)"/>
<rect x="953.42" y="408.65" width="10.19" height="9.97" fill="rgb(0, 0, 143)"/>
<rect x="537.80" y="398.73" width="10.19" height="9.97" fill="rgb(0, 0, 143)"/>
<rect x="547.94" y="398.73" width="10.19" height="9.97" fill="rgb(0, 0, 143)"/>
<rect x="558.07" y="398.73" width="10.19" height="9.97" fill="rgb(0, 0, 143)"/>
<rect x="568.21" y="398.73" width="10.19" height="9.97" fill="rgb(0, 0, 143)"/>
<rect x="578.35" y="398.73" width="10.19" height="9.97" fill="rgb(0, 0, 143)"/>
<rect x="588.48" y="398.73" width="10.19" height="9.97" fill="rgb(0, 0, 143)"/>
<rect x="598.62" y="398.73" width="10.19" height="9.97" fill="rgb(0, 0, 143)"/>
<rect x="608.76" y="398.73" width="10.19" height="9.97" fill="rgb(0, 223, 255)"/>
<rect x="618.90" y="398.73" width="10.19" height="9.97" fill="rgb(0, 143, 255)"/>
<rect x="629.03" y="398.73" width="10.19" height="9.97" fill="rgb(0, 0, 143)"/>
<rect x="639.17" y="398.73" width="10.19" height="9.97" fill="rgb(0, 0, 143)"/>
<rect x="649.31" y="398.73" width="10.19" height="9.97" fill="rgb(0, 223, 255)"/>
<rect x="659.44" y="398.73" width="10.19" height="9.97" fill="rgb(128, 0, 0)"/>
<rect x="669.58" y="398.73" width="10.19" height="9.97" fill="rgb(0, 223, 255)"/>
<rect x="679.72" y="398.73" width="10.19" height="9.97" fill="rgb(143, 255, 112)"/>
<rect x="689.86" y="398.73" width="10.19" height="9.97" fill="rgb(143, 255, 112)"/>
<rect x="699.99" y="398.73" width="10.19" height="9.97" fill="rgb(0, 143, 255)"/>
<rect x="710.13" y="398.73" width="10.19" height="9.97" fill="rgb(0, 0, 143)"/>
<rect x="720.27" y="398.73" width="10.19" height="9.97" fill="rgb(0, 0, 143)"/>
<rect x="730.40" y="398.73" width="10.19" height="9.97" fill="rgb(0, 0, 143)"/>
<rect x="740.54" y="398.73" width="10.19" height="9.97" fill="rgb(0, 0, 143)"/>
<rect x="750.68" y="398.73" width="10.19" height="9.97" fill="rgb(0, 143, 255)"/>
<rect x="760.81" y="398.73" width="10.19" height="9.97" fill="rgb(0, 143, 255)"/>
<rect x="770.95" y="398.73" width="10.19" height="9.97" fill="rgb(0, 0, 143)"/>
<rect x="781.09" y="398.73" width="10.19" height="9.97" fill="rgb(0, 143, 255)"/>
<rect x="791.22" y="398.73" width="10.19" height="9.97" fill="rgb(143, 255, 112)"/>
<rect x="801.36" y="398.73" width="10.19" height="9.97" fill="rgb(0, 96, 255)"/>
<rect x="811.50" y="398.73" width="10.19" height="9.97" fill="rgb(0, 32, 255)"/>
<rect x="821.64" y="398.73" width="10.19" height="9.97" fill="rgb(0, 223, 255)"/>
<rect x="831.77" y="398.73" width="10.19" height="9.97" fill="rgb(0, 0, 143)"/>
<rect x="841.91" y="398.73" width="10.19" height="9.97" fill="rgb(0, 0, 143)"/>
<rect x="852.05" y="398.73" width="10.19" height="9.97" fill="rgb(0, 0, 143)"/>
<rect x="862.18" y="398.73" width="10.19" height="9.97" fill="rgb(0, 0, 143)"/>
<rect x="872.32" y="398.73" width="10.19" height="9.97" fill="rgb(0, 0, 143)"/>
<rect x="882.46" y="398.73" width="10.19" height="9.97" fill="rgb(0, 0, 143)"/>
<rect x="892.60" y="398.73" width="10.19" height="9.97" fill="rgb(0, 0, 143)"/>
<rect x="902.73" y="398.73" width="10.19" height="9.97" fill="rgb(0, 0, 143)"/>
<rect x="912.87" y="398.73" width="10.19" height="9.97" fill="rgb(0, 0, 143)"/>
<rect x="923.01" y="398.73" width="10.19" height="9.97" fill="rgb(0, 0, 143)"/>
<rect x="933.14" y="398.73" width="10.19" height="9.97" fill="rgb(0, 0, 143)"/>
<rect x="943.28" y="398.73" width="10.19" height="9.97" fill="rgb(0, 0, 143)"/>
<rect x="953.42" y="398.73" width="10.19" height="9.97" fill="rgb(0, 0, 143)"/>
<rect x="537.80" y="388.81" width="10.19" height="9.97" fill="rgb(0, 0, 143)"/>
<rect x="547.94" y="388.81" width="10.19" height="9.97" fill="rgb(0, 0, 143)"/>
<rect x="558.07" y="388.81" width="10.19" height="9.97" fill="rgb(0, 0, 143)"/>
<rect x="568.21" y="388.81" width="10.19" height="9.97" fill="rgb(0, 0, 143)"/>
<rect x="578.35" y="388.81" width="10.19" height="9.97" fill="rgb(0, 0, 143)"/>
<rect x="588.48" y="388.81" width="10.19" height="9.97" fill="rgb(0, 0, 143)"/>
<rect x="598.62" y="388.81" width="10.19" height="9.97" fill="rgb(0, 0, 143)"/>
<rect x="608.76" y="388.81" width="10.19" height="9.97" fill="rgb(0, 0, 143)"/>
<rect x="618.90" y="388.81" width="10.19" height="9.97" fill="rgb(0, 143, 255)"/>
<rect x="629.03" y="388.81" width="10.19" height="9.97" fill="rgb(143, 255, 112)"/>
<rect x="639.17" y="388.81" width="10.19" height="9.97" fill="rgb(143, 255, 112)"/>
<rect x="649.31" y="388.81" width="10.19" height="9.97" fill="rgb(0, 0, 143)"/>
<rect x="659.44" y="388.81" width="10.19" height="9.97" fill="rgb(0, 223, 255)"/>
<rect x="669.58" y="388.81" width="10.19" height="9.97" fill="rgb(128, 0, 0)"/>
<rect x="679.72" y="388.81" width="10.19" height="9.97" fill="rgb(143, 255, 112)"/>
<rect x="689.86" y="388.81" width="10.19" height="9.97" fill="rgb(143, 255, 112)"/>
<rect x="699.99" y="388.81" width="10.19" height="9.97" fill="rgb(0, 143, 255)"/>
<rect x="710.13" y="388.81" width="10.19" height="9.97" fill="rgb(0, 0, 143)"/>
<rect x="720.27" y="388.81" width="10.19" height="9.97" fill="rgb(0, 0, 143)"/>
<rect x="730.40" y="388.81" width="10.19" height="9.97" fill="rgb(0, 0, 143)"/>
<rect x="740.54" y="388.81" width="10.19" height="9.97" fill="rgb(0, 96, 255)"/>
<rect x="750.68" y="388.81" width="10.19" height="9.97" fill="rgb(0, 143, 255)"/>
<rect x="760.81" y="388.81" width="10.19" height="9.97" fill="rgb(0, 0, 143)"/>
<rect x="770.95" y="388.81" width="10.19" height="9.97" fill="rgb(0, 0, 143)"/>
<rect x="781.09" y="388.81" width="10.19" height="9.97" fill="rgb(0, 143, 255)"/>
<rect x="791.22" y="388.81" width="10.19" height="9.97" fill="rgb(0, 96, 255)"/>
<rect x="801.36" y="388.81" width="10.19" height="9.97" fill="rgb(0, 64, 255)"/>
<rect x="811.50" y="388.81" width="10.19" height="9.97" fill="rgb(48, 255, 207)"/>
<rect x="821.64" y="388.81" width="10.19" height="9.97" fill="rgb(0, 223, 255)"/>
<rect x="831.77" y="388.81" width="10.19" height="9.97" fill="rgb(0, 0, 143)"/>
<rect x="841.91" y="388.81" width="10.19" height="9.97" fill="rgb(0, 0, 143)"/>
<rect x="852.05" y="388.81" width="10.19" height="9.97" fill="rgb(0, 0, 143)"/>
<rect x="862.18" y="388.81" width="10.19" height="9.97" fill="rgb(0, 0, 143)"/>
<rect x="872.32" y="388.81" width="10.19" height="9.97" fill="rgb(0, 0, 143)"/>
<rect x="882.46" y="388.81" width="10.19" height="9.97" fill="rgb(0, 0, 143)"/>
<rect x="892.60" y="388.81" width="10.19" height="9.97" fill="rgb(0, 0, 143)"/>
<rect x="902.73" y="388.81" width="10.19" height="9.97" fill="rgb(0, 0, 143)"/>
<rect x="912.87" y="388.81" width="10.19" height="9.97" fill="rgb(0, 0, 143)"/>
<rect x="923.01" y="388.81" width="10.19" height="9.97" fill="rgb(0, 0, 143)"/>
<rect x="933.14" y="388.81" width="10.19" height="9.97" fill="rgb(0, 0, 143)"/>
<rect x="943.28" y="388.81" width="10.19" height="9.97" fill="rgb(0, 0, 143)"/>
<rect x="953.42" y="388.81" width="10.19" height="9.97" fill="rgb(0, 0, 143)"/>
<rect x="537.80" y="378.89" width="10.19" height="9.97" fill="rgb(0, 0, 143)"/>
<rect x="547.94" y="378.89" width="10.19" height="9.97" fill="rgb(0, 0, 143)"/>
<rect x="558.07" y="378.89" width="10.19" height="9.97" fill="rgb(0, 0, 143)"/>
<rect x="568.21" y="378.89" width="10.19" height="9.97" fill="rgb(0, 0, 143)"/>
<rect x="578.35" y="378.89" width="10.19" height="9.97" fill="rgb(0, 0, 143)"/>
<rect x="588.48" y="378.89" width="10.19" height="9.97" fill="rgb(0, 0, 143)"/>
<rect x="598.62" y="378.89" width="10.19" height="9.97" fill="rgb(0, 0, 143)"/>
<rect x="608.76" y="378.89" width="10.19" height="9.97" fill="rgb(0, 0, 143)"/>
<rect x="618.90" y="378.89" width="10.19" height="9.97" fill="rgb(0, 0, 143)"/>
<rect x="629.03" y="378.89" width="10.19" height="9.97" fill="rgb(0, 0, 143)"/>
<rect x="639.17" y="378.89" width="10.19" height="9.97" fill="rgb(0, 0, 143)"/>
<rect x="649.31" y="378.89" width="10.19" height="9.97" fill="rgb(0, 0, 143)"/>
<rect x="659.44" y="378.89" width="10.19" height="9.97" fill="rgb(143, 255, 112)"/>
<rect x="669.58" y="378.89" width="10.19" height="9.97" fill="rgb(143, 255, 112)"/>
<rect x="679.72" y="378.89" width="10.19" height="9.97" fill="rgb(128, 0, 0)"/>
<rect x="689.86" y="378.89" width="10.19" height="9.97" fill="rgb(128, 0, 0)"/>
<rect x="699.99" y="378.89" width="10.19" height="9.97" fill="rgb(0, 223, 255)"/>
<rect x="710.13" y="378.89" width="10.19" height="9.97" fill="rgb(0, 0, 143)"/>
<rect x="720.27" y="378.89" width="10.19" height="9.97" fill="rgb(0, 0, 143)"/>
<rect x="730.40" y="378.89" width="10.19" height="9.97" fill="rgb(0, 0, 143)"/>
<rect x="740.54" y="378.89" width="10.19" height="9.97" fill="rgb(0, 0, 143)"/>
<rect x="750.68" y="378.89" width="10.19" height="9.97" fill="rgb(0, 223, 255)"/>
<rect x="760.81" y="378.89" width="10.19" height="9.97" fill="rgb(0, 0, 143)"/>
<rect x="770.95" y="378.89" width="10.19" height="9.97" fill="rgb(0, 0, 143)"/>
<rect x="781.09" y="378.89" width="10.19" height="9.97" fill="rgb(0, 223, 255)"/>
<rect x="791.22" y="378.89" width="10.19" height="9.97" fill="rgb(0, 143, 255)"/>
<rect x="801.36" y="378.89" width="10.19" height="9.97" fill="rgb(0, 143, 255)"/>
<rect x="811.50" y="378.89" width="10.19" height="9.97" fill="rgb(0, 96, 255)"/>
<rect x="821.64" y="378.89" width="10.19" height="9.97" fill="rgb(143, 255, 112)"/>
<rect x="831.77" y="378.89" width="10.19" height="9.97" fill="rgb(0, 0, 143)"/>
<rect x="841.91" y="378.89" width="10.19" height="9.97" fill="rgb(0, 0, 143)"/>
<rect x="852.05" y="378.89" width="10.19" height="9.97" fill="rgb(0, 0, 143)"/>
<rect x="862.18" y="378.89" width="10.19" height="9.97" fill="rgb(0, 0, 143)"/>
<rect x="872.32" y="378.89" width="10.19" height="9.97" fill="rgb(0, 0, 143)"/>
<rect x="882.46" y="378.89" width="10.19" height="9.97" fill="rgb(0, 0, 143)"/>
<rect x="892.60" y="378.89" width="10.19" height="9.97" fill="rgb(0, 0, 143)"/>
<rect x="902.73" y="378.89" width="10.19" height="9.97" fill="rgb(0, 0, 143)"/>
<rect x="912.87" y="378.89" width="10.19" height="9.97" fill="rgb(0, 0, 143)"/>
<rect x="923.01" y="378.89" width="10.19" height="9.97" fill="rgb(0, 0, 143)"/>
<rect x="933.14" y="378.89" width="10.19" height="9.97" fill="rgb(0, 0, 143)"/>
<rect x="943.28" y="378.89" width="10.19" height="9.97" fill="rgb(0, 0, 143)"/>
<rect x="953.42" y="378.89" width="10.19" height="9.97" fill="rgb(0, 0, 143)"/>
<rect x="537.80" y="368.96" width="10.19" height="9.97" fill="rgb(0, 0, 143)"/>
<rect x="547.94" y="368.96" width="10.19" height="9.97" fill="rgb(0, 0, 143)"/>
<rect x="558.07" y="368.96" width="10.19" height="9.97" fill="rgb(0, 0, 143)"/>
<rect x="568.21" y="368.96" width="10.19" height="9.97" fill="rgb(0, 0, 143)"/>
<rect x="578.35" y="368.96" width="10.19" height="9.97" fill="rgb(0, 0, 143)"/>
<rect x="588.48" y="368.96" width="10.19" height="9.97" fill="rgb(0, 0, 143)"/>
<rect x="598.62" y="368.96" width="10.19" height="9.97" fill="rgb(0, 0, 143)"/>
<rect x="608.76" y="368.96" width="10.19" height="9.97" fill="rgb(0, 0, 143)"/>
<rect x="618.90" y="368.96" width="10.19" height="9.97" fill="rgb(0, 0, 143)"/>
<rect x="629.03" y="368.96" width="10.19" height="9.97" fill="rgb(0, 0, 143)"/>
<rect x="639.17" y="368.96" width="10.19" height="9.97" fill="rgb(0, 0, 143)"/>
<rect x="649.31" y="368.96" width="10.19" height="9.97" fill="rgb(0, 0, 143)"/>
<rect x="659.44" y="368.96" width="10.19" height="9.97" fill="rgb(143, 255, 112)"/>
<rect x="669.58" y="368.96" width="10.19" height="9.97" fill="rgb(143, 255, 112)"/>
<rect x="679.72" y="368.96" width="10.19" height="9.97" fill="rgb(128, 0, 0)"/>
<rect x="689.86" y="368.96" width="10.19" height="9.97" fill="rgb(128, 0, 0)"/>
<rect x="699.99" y="368.96" width="10.19" height="9.97" fill="rgb(0, 223, 255)"/>
<rect x="710.13" y="368.96" width="10.19" height="9.97" fill="rgb(0, 0, 143)"/>
<rect x="720.27" y="368.96" width="10.19" height="9.97" fill="rgb(0, 0, 143)"/>
<rect x="730.40" y="368.96" width="10.19" height="9.97" fill="rgb(0, 0, 143)"/>
<rect x="740.54" y="368.96" width="10.19" height="9.97" fill="rgb(0, 0, 143)"/>
<rect x="750.68" y="368.96" width="10.19" height="9.97" fill="rgb(0, 223, 255)"/>
<rect x="760.81" y="368.96" width="10.19" height="9.97" fill="rgb(0, 0, 143)"/>
<rect x="770.95" y="368.96" width="10.19" height="9.97" fill="rgb(0, 0, 143)"/>
<rect x="781.09" y="368.96" width="10.19" height="9.97" fill="rgb(0, 223, 255)"/>
<rect x="791.22" y="368.96" width="10.19" height="9.97" fill="rgb(0, 143, 255)"/>
<rect x="801.36" y="368.96" width="10.19" height="9.97" fill="rgb(0, 143, 255)"/>
<rect x="811.50" y="368.96" width="10.19" height="9.97" fill="rgb(0, 96, 255)"/>
<rect x="821.64" y="368.96" width="10.19" height="9.97" fill="rgb(143, 255, 112)"/>
<rect x="831.77" y="368.96" width="10.19" height="9.97" fill="rgb(0, 0, 143)"/>
<rect x="841.91" y="368.96" width="10.19" height="9.97" fill="rgb(0, 0, 143)"/>
<rect x="852.05" y="368.96" width="10.19" height="9.97" fill="rgb(0, 0, 143)"/>
<rect x="862.18" y="368.96" width="10.19" height="9.97" fill="rgb(0, 0, 143)"/>
<rect x="872.32" y="368.96" width="10.19" height="9.97" fill="rgb(0, 0, 143)"/>
<rect x="882.46" y="368.96" width="10.19" height="9.97" fill="rgb(0, 0, 143)"/>
<rect x="892.60" y="368.96" width="10.19" height="9.97" fill="rgb(0, 0, 143)"/>
<rect x="902.73" y="368.96" width="10.19" height="9.97" fill="rgb(0, 0, 143)"/>
<rect x="912.87" y="368.96" width="10.19" height="9.97" fill="rgb(0, 0, 143)"/>
<rect x="923.01" y="368.96" width="10.19" height="9.97" fill="rgb(0, 0, 143)"/>
<rect x="933.14" y="368.96" width="10.19" height="9.97" fill="rgb(0, 0, 143)"/>
<rect x="943.28" y="368.96" width="10.19" height="9.97" fill="rgb(0, 0, 143)"/>
<rect x="953.42" y="368.96" width="10.19" height="9.97" fill="rgb(0, 0, 143)"/>
<rect x="537.80" y="359.04" width="10.19" height="9.97" fill="rgb(0, 0, 143)"/>
<rect x="547.94" y="359.04" width="10.19" height="9.97" fill="rgb(0, 0, 143)"/>
<rect x="558.07" y="359.04" width="10.19" height="9.97" fill="rgb(0, 0, 143)"/>
<rect x="568.21" y="359.04" width="10.19" height="9.97" fill="rgb(0, 0, 143)"/>
<rect x="578.35" y="359.04" width="10.19" height="9.97" fill="rgb(0, 0, 143)"/>
<rect x="588.48" y="359.04" width="10.19" height="9.97" fill="rgb(0, 0, 143)"/>
<rect x="598.62" y="359.04" width="10.19" height="9.97" fill="rgb(0, 0, 143)"/>
<rect x="608.76" y="359.04" width="10.19" height="9.97" fill="rgb(0, 0, 143)"/>
<rect x="618.90" y="359.04" width="10.19" height="9.97" fill="rgb(0, 0, 143)"/>
<rect x="629.03" y="359.04" width="10.19" height="9.97" fill="rgb(0, 0, 143)"/>
<rect x="639.17" y="359.04" width="10.19" height="9.97" fill="rgb(0, 0, 143)"/>
<rect x="649.31" y="359.04" width="10.19" height="9.97" fill="rgb(0, 143, 255)"/>
<rect x="659.44" y="359.04" width="10.19" height="9.97" fill="rgb(0, 143, 255)"/>
<rect x="669.58" y="359.04" width="10.19" height="9.97" fill="rgb(0, 143, 255)"/>
<rect x="679.72" y="359.04" width="10.19" height="9.97" fill="rgb(0, 223, 255)"/>
<rect x="689.86" y="359.04" width="10.19" height="9.97" fill="rgb(0, 223, 255)"/>
<rect x="699.99" y="359.04" width="10.19" height="9.97" fill="rgb(128, 0, 0)"/>
<rect x="710.13" y="359.04" width="10.19" height="9.97" fill="rgb(0, 223, 255)"/>
<rect x="720.27" y="359.04" width="10.19" height="9.97" fill="rgb(0, 223, 255)"/>
<rect x="730.40" y="359.04" width="10.19" height="9.97" fill="rgb(0, 223, 255)"/>
<rect x="740.54" y="359.04" width="10.19" height="9.97" fill="rgb(0, 32, 255)"/>
<rect x="750.68" y="359.04" width="10.19" height="9.97" fill="rgb(0, 96, 255)"/>
<rect x="760.81" y="359.04" width="10.19" height="9.97" fill="rgb(0, 0, 143)"/>
<rect x="770.95" y="359.04" width="10.19" height="9.97" fill="rgb(0, 0, 143)"/>
<rect x="781.09" y="359.04" width="10.19" height="9.97" fill="rgb(0, 96, 255)"/>
<rect x="791.22" y="359.04" width="10.19" height="9.97" fill="rgb(0, 32, 255)"/>
<rect x="801.36" y="359.04" width="10.19" height="9.97" fill="rgb(48, 255, 207)"/>
<rect x="811.50" y="359.04" width="10.19" height="9.97" fill="rgb(16, 255, 239)"/>
<rect x="821.64" y="359.04" width="10.19" height="9.97" fill="rgb(0, 143, 255)"/>
<rect x="831.77" y="359.04" width="10.19" height="9.97" fill="rgb(0, 0, 143)"/>
<rect x="841.91" y="359.04" width="10.19" height="9.97" fill="rgb(0, 143, 255)"/>
<rect x="852.05" y="359.04" width="10.19" height="9.97" fill="rgb(0, 64, 255)"/>
<rect x="862.18" y="359.04" width="10.19" height="9.97" fill="rgb(0, 0, 143)"/>
<rect x="872.32" y="359.04" width="10.19" height="9.97" fill="rgb(0, 0, 143)"/>
<rect x="882.46" y="359.04" width="10.19" height="9.97" fill="rgb(0, 0, 143)"/>
<rect x="892.60" y="359.04" width="10.19" height="9.97" fill="rgb(0, 0, 143)"/>
<rect x="902.73" y="359.04" width="10.19" height="9.97" fill="rgb(0, 0, 143)"/>
<rect x="912.87" y="359.04" width="10.19" height="9.97" fill="rgb(0, 0, 143)"/>
<rect x="923.01" y="359.04" width="10.19" height="9.97" fill="rgb(0, 0, 143)"/>
<rect x="933.14" y="359.04" width="10.19" height="9.97" fill="rgb(0, 0, 143)"/>
<rect x="943.28" y="359.04" width="10.19" height="9.97" fill="rgb(0, 0, 143)"/>
<rect x="953.42" y="359.04" width="10.19" height="9.97" fill="rgb(0, 0, 143)"/>
<rect x="537.80" y="349.12" width="10.19" height="9.97" fill="rgb(0, 0, 143)"/>
<rect x="547.94" y="349.12" width="10.19" height="9.97" fill="rgb(0, 0, 143)"/>
<rect x="558.07" y="349.12" width="10.19" height="9.97" fill="rgb(0, 0, 143)"/>
<rect x="568.21" y="349.12" width="10.19" height="9.97" fill="rgb(0, 0, 143)"/>
<rect x="578.35" y="349.12" width="10.19" height="9.97" fill="rgb(0, 0, 143)"/>
<rect x="588.48" y="349.12" width="10.19" height="9.97" fill="rgb(0, 0, 143)"/>
<rect x="598.62" y="349.12" width="10.19" height="9.97" fill="rgb(0, 0, 143)"/>
<rect x="608.76" y="349.12" width="10.19" height="9.97" fill="rgb(0, 0, 143)"/>
<rect x="618.90" y="349.12" width="10.19" height="9.97" fill="rgb(0, 0, 143)"/>
<rect x="629.03" y="349.12" width="10.19" height="9.97" fill="rgb(0, 0, 143)"/>
<rect x="639.17" y="349.12" width="10.19" height="9.97" fill="rgb(0, 0, 143)"/>
<rect x="649.31" y="349.12" width="10.19" height="9.97" fill="rgb(0, 0, 143)"/>
<rect x="659.44" y="349.12" width="10.19" height="9.97" fill="rgb(0, 0, 143)"/>
<rect x="669.58" y="349.12" width="10.19" height="9.97" fill="rgb(0, 0, 143)"/>
<rect x="679.72" y="349.12" width="10.19" height="9.97" fill="rgb(0, 0, 143)"/>
<rect x="689.86" y="349.12" width="10.19" height="9.97" fill="rgb(0, 0, 143)"/>
<rect x="699.99" y="349.12" width="10.19" height="9.97" fill="rgb(0, 223, 255)"/>
<rect x="710.13" y="349.12" width="10.19" height="9.97" fill="rgb(128, 0, 0)"/>
<rect x="720.27" y="349.12" width="10.19" height="9.97" fill="rgb(128, 0, 0)"/>
<rect x="730.40" y="349.12" width="10.19" height="9.97" fill="rgb(128, 0, 0)"/>
<rect x="740.54" y="349.12" width="10.19" height="9.97" fill="rgb(0, 143, 255)"/>
<rect x="750.68" y="349.12" width="10.19" height="9.97" fill="rgb(0, 0, 143)"/>
<rect x="760.81" y="349.12" width="10.19" height="9.97" fill="rgb(0, 0, 143)"/>
<rect x="770.95" y="349.12" width="10.19" height="9.97" fill="rgb(0, 0, 143)"/>
<rect x="781.09" y="349.12" width="10.19" height="9.97" fill="rgb(0, 0, 143)"/>
<rect x="791.22" y="349.12" width="10.19" height="9.97" fill="rgb(0, 0, 143)"/>
<rect x="801.36" y="349.12" width="10.19" height="9.97" fill="rgb(0, 143, 255)"/>
<rect x="811.50" y="349.12" width="10.19" height="9.97" fill="rgb(0, 96, 255)"/>
<rect x="821.64" y="349.12" width="10.19" height="9.97" fill="rgb(0, 0, 143)"/>
<rect x="831.77" y="349.12" width="10.19" height="9.97" fill="rgb(0, 0, 143)"/>
<rect x="841.91" y="349.12" width="10.19" height="9.97" fill="rgb(143, 255, 112)"/>
<rect x="852.05" y="349.12" width="10.19" height="9.97" fill="rgb(0, 223, 255)"/>
<rect x="862.18" y="349.12" width="10.19" height="9.97" fill="rgb(0, 0, 143)"/>
<rect x="872.32" y="349.12" width="10.19" height="9.97" fill="rgb(0, 0, 143)"/>
<rect x="882.46" y="349.12" width="10.19" height="9.97" fill="rgb(0, 0, 143)"/>
<rect x="892.60" y="349.12" width="10.19" height="9.97" fill="rgb(0, 0, 143)"/>
<rect x="902.73" y="349.12" width="10.19" height="9.97" fill="rgb(0, 0, 143)"/>
<rect x="912.87" y="349.12" width="10.19" height="9.97" fill="rgb(0, 0, 143)"/>
<rect x="923.01" y="349.12" width="10.19" height="9.97" fill="rgb(0, 0, 143)"/>
<rect x="933.14" y="349.12" width="10.19" height="9.97" fill="rgb(0, 0, 143)"/>
<rect x="943.28" y="349.12" width="10.19" height="9.97" fill="rgb(0, 0, 143)"/>
<rect x="953.42" y="349.12" width="10.19" height="9.97" fill="rgb(0, 0, 143)"/>
<rect x="537.80" y="339.20" width="10.19" height="9.97" fill="rgb(0, 0, 143)"/>
<rect x="547.94" y="339.20" width="10.19" height="9.97" fill="rgb(0, 0, 143)"/>
<rect x="558.07" y="339.20" width="10.19" height="9.97" fill="rgb(0, 0, 143)"/>
<rect x="568.21" y="339.20" width="10.19" height="9.97" fill="rgb(0, 0, 143)"/>
<rect x="578.35" y="339.20" width="10.19" height="9.97" fill="rgb(0, 0, 143)"/>
<rect x="588.48" y="339.20" width="10.19" height="9.97" fill="rgb(0, 0, 143)"/>
<rect x="598.62" y="339.20" width="10.19" height="9.97" fill="rgb(0, 0, 143)"/>
<rect x="608.76" y="339.20" width="10.19" height="9.97" fill="rgb(0, 0, 143)"/>
<rect x="618.90" y="339.20" width="10.19" height="9.97" fill="rgb(0, 0, 143)"/>
<rect x="629.03" y="339.20" width="10.19" height="9.97" fill="rgb(0, 0, 143)"/>
<rect x="639.17" y="339.20" width="10.19" height="9.97" fill="rgb(0, 0, 143)"/>
<rect x="649.31" y="339.20" width="10.19" height="9.97" fill="rgb(0, 0, 143)"/>
<rect x="659.44" y="339.20" width="10.19" height="9.97" fill="rgb(0, 0, 143)"/>
<rect x="669.58" y="339.20" width="10.19" height="9.97" fill="rgb(0, 0, 143)"/>
<rect x="679.72" y="339.20" width="10.19" height="9.97" fill="rgb(0, 0, 143)"/>
<rect x="689.86" y="339.20" width="10.19" height="9.97" fill="rgb(0, 0, 143)"/>
<rect x="699.99" y="339.20" width="10.19" height="9.97" fill="rgb(0, 223, 255)"/>
<rect x="710.13" y="339.20" width="10.19" height="9.97" fill="rgb(128, 0, 0)"/>
<rect x="720.27" y="339.20" width="10.19" height="9.97" fill="rgb(128, 0, 0)"/>
<rect x="730.40" y="339.20" width="10.19" height="9.97" fill="rgb(128, 0, 0)"/>
<rect x="740.54" y="339.20" width="10.19" height="9.97" fill="rgb(0, 143, 255)"/>
<rect x="750.68" y="339.20" width="10.19" height="9.97" fill="rgb(0, 0, 143)"/>
<rect x="760.81" y="339.20" width="10.19" height="9.97" fill="rgb(0, 0, 143)"/>
<rect x="770.95" y="339.20" width="10.19" height="9.97" fill="rgb(0, 0, 143)"/>
<rect x="781.09" y="339.20" width="10.19" height="9.97" fill="rgb(0, 0, 143)"/>
<rect x="791.22" y="339.20" width="10.19" height="9.97" fill="rgb(0, 0, 143)"/>
<rect x="801.36" y="339.20" width="10.19" height="9.97" fill="rgb(0, 143, 255)"/>
<rect x="811.50" y="339.20" width="10.19" height="9.97" fill="rgb(0, 96, 255)"/>
<rect x="821.64" y="339.20" width="10.19" height="9.97" fill="rgb(0, 0, 143)"/>
<rect x="831.77" y="339.20" width="10.19" height="9.97" fill="rgb(0, 0, 143)"/>
<rect x="841.91" y="339.20" width="10.19" height="9.97" fill="rgb(143, 255, 112)"/>
<rect x="852.05" y="339.20" width="10.19" height="9.97" fill="rgb(0, 223, 255)"/>
<rect x="862.18" y="339.20" width="10.19" height="9.97" fill="rgb(0, 0, 143)"/>
<rect x="872.32" y="339.20" width="10.19" height="9.97" fill="rgb(0, 0, 143)"/>
<rect x="882.46" y="339.20" width="10.19" height="9.97" fill="rgb(0, 0, 143)"/>
<rect x="892.60" y="339.20" width="10.19" height="9.97" fill="rgb(0, 0, 143)"/>
<rect x="902.73" y="339.20" width="10.19" height="9.97" fill="rgb(0, 0, 143)"/>
<rect x="912.87" y="339.20" width="10.19" height="9.97" fill="rgb(0, 0, 143)"/>
<rect x="923.01" y="339.20" width="10.19" height="9.97" fill="rgb(0, 0, 143)"/>
<rect x="933.14" y="339.20" width="10.19" height="9.97" fill="rgb(0, 0, 143)"/>
<rect x="943.28" y="339.20" width="10.19" height="9.97" fill="rgb(0, 0, 143)"/>
<rect x="953.42" y="339.20" width="10.19" height="9.97" fill="rgb(0, 0, 143)"/>
<rect x="537.80" y="329.28" width="10.19" height="9.97" fill="rgb(0, 0, 143)"/>
<rect x="547.94" y="329.28" width="10.19" height="9.97" fill="rgb(0, 0, 143)"/>
<rect x="558.07" y="329.28" width="10.19" height="9.97" fill="rgb(0, 0, 143)"/>
<rect x="568.21" y="329.28" width="10.19" height="9.97" fill="rgb(0, 0, 143)"/>
<rect x="578.35" y="329.28" width="10.19" height="9.97" fill="rgb(0, 0, 143)"/>
<rect x="588.48" y="329.28" width="10.19" height="9.97" fill="rgb(0, 0, 143)"/>
<rect x="598.62" y="329.28" width="10.19" height="9.97" fill="rgb(0, 0, 143)"/>
<rect x="608.76" y="329.28" width="10.19" height="9.97" fill="rgb(0, 0, 143)"/>
<rect x="618.90" y="329.28" width="10.19" height="9.97" fill="rgb(0, 0, 143)"/>
<rect x="629.03" y="329.28" width="10.19" height="9.97" fill="rgb(0, 0, 143)"/>
<rect x="639.17" y="329.28" width="10.19" height="9.97" fill="rgb(0, 0, 143)"/>
<rect x="649.31" y="329.28" width="10.19" height="9.97" fill="rgb(0, 0, 143)"/>
<rect x="659.44" y="329.28" width="10.19" height="9.97" fill="rgb(0, 0, 143)"/>
<rect x="669.58" y="329.28" width="10.19" height="9.97" fill="rgb(0, 0, 143)"/>
<rect x="679.72" y="329.28" width="10.19" height="9.97" fill="rgb(0, 0, 143)"/>
<rect x="689.86" y="329.28" width="10.19" height="9.97" fill="rgb(0, 0, 143)"/>
<rect x="699.99" y="329.28" width="10.19" height="9.97" fill="rgb(0, 223, 255)"/>
<rect x="710.13" y="329.28" width="10.19" height="9.97" fill="rgb(128, 0, 0)"/>
<rect x="720.27" y="329.28" width="10.19" height="9.97" fill="rgb(128, 0, 0)"/>
<rect x="730.40" y="329.28" width="10.19" height="9.97" fill="rgb(128, 0, 0)"/>
<rect x="740.54" y="329.28" width="10.19" height="9.97" fill="rgb(0, 143, 255)"/>
<rect x="750.68" y="329.28" width="10.19" height="9.97" fill="rgb(0, 0, 143)"/>
<rect x="760.81" y="329.28" width="10.19" height="9.97" fill="rgb(0, 0, 143)"/>
<rect x="770.95" y="329.28" width="10.19" height="9.97" fill="rgb(0, 0, 143)"/>
<rect x="781.09" y="329.28" width="10.19" height="9.97" fill="rgb(0, 0, 143)"/>
<rect x="791.22" y="329.28" width="10.19" height="9.97" fill="rgb(0, 0, 143)"/>
<rect x="801.36" y="329.28" width="10.19" height="9.97" fill="rgb(0, 143, 255)"/>
<rect x="811.50" y="329.28" width="10.19" height="9.97" fill="rgb(0, 96, 255)"/>
<rect x="821.64" y="329.28" width="10.19" height="9.97" fill="rgb(0, 0, 143)"/>
<rect x="831.77" y="329.28" width="10.19" height="9.97" fill="rgb(0, 0, 143)"/>
<rect x="841.91" y="329.28" width="10.19" height="9.97" fill="rgb(143, 255, 112)"/>
<rect x="852.05" y="329.28" width="10.19" height="9.97" fill="rgb(0, 223, 255)"/>
<rect x="862.18" y="329.28" width="10.19" height="9.97" fill="rgb(0, 0, 143)"/>
<rect x="872.32" y="329.28" width="10.19" height="9.97" fill="rgb(0, 0, 143)"/>
<rect x="882.46" y="329.28" width="10.19" height="9.97" fill="rgb(0, 0, 143)"/>
<rect x="892.60" y="329.28" width="10.19" height="9.97" fill="rgb(0, 0, 143)"/>
<rect x="902.73" y="329.28" width="10.19" height="9.97" fill="rgb(0, 0, 143)"/>
<rect x="912.87" y="329.28" width="10.19" height="9.97" fill="rgb(0, 0, 143)"/>
<rect x="923.01" y="329.28" width="10.19" height="9.97" fill="rgb(0, 0, 143)"/>
<rect x="933.14" y="329.28" width="10.19" height="9.97" fill="rgb(0, 0, 143)"/>
<rect x="943.28" y="329.28" width="10.19" height="9.97" fill="rgb(0, 0, 143)"/>
<rect x="953.42" y="329.28" width="10.19" height="9.97" fill="rgb(0, 0, 143)"/>
<rect x="537.80" y="319.36" width="10.19" height="9.97" fill="rgb(0, 143, 255)"/>
<rect x="547.94" y="319.36" width="10.19" height="9.97" fill="rgb(0, 143, 255)"/>
<rect x="558.07" y="319.36" width="10.19" height="9.97" fill="rgb(0, 143, 255)"/>
<rect x="568.21" y="319.36" width="10.19" height="9.97" fill="rgb(0, 143, 255)"/>
<rect x="578.35" y="319.36" width="10.19" height="9.97" fill="rgb(0, 143, 255)"/>
<rect x="588.48" y="319.36" width="10.19" height="9.97" fill="rgb(0, 143, 255)"/>
<rect x="598.62" y="319.36" width="10.19" height="9.97" fill="rgb(0, 143, 255)"/>
<rect x="608.76" y="319.36" width="10.19" height="9.97" fill="rgb(0, 96, 255)"/>
<rect x="618.90" y="319.36" width="10.19" height="9.97" fill="rgb(48, 255, 207)"/>
<rect x="629.03" y="319.36" width="10.19" height="9.97" fill="rgb(0, 143, 255)"/>
<rect x="639.17" y="319.36" width="10.19" height="9.97" fill="rgb(0, 143, 255)"/>
<rect x="649.31" y="319.36" width="10.19" height="9.97" fill="rgb(0, 0, 143)"/>
<rect x="659.44" y="319.36" width="10.19" height="9.97" fill="rgb(0, 0, 143)"/>
<rect x="669.58" y="319.36" width="10.19" height="9.97" fill="rgb(0, 96, 255)"/>
<rect x="679.72" y="319.36" width="10.19" height="9.97" fill="rgb(0, 0, 143)"/>
<rect x="689.86" y="319.36" width="10.19" height="9.97" fill="rgb(0, 0, 143)"/>
<rect x="699.99" y="319.36" width="10.19" height="9.97" fill="rgb(0, 32, 255)"/>
<rect x="710.13" y="319.36" width="10.19" height="9.97" fill="rgb(0, 143, 255)"/>
<rect x="720.27" y="319.36" width="10.19" height="9.97" fill="rgb(0, 143, 255)"/>
<rect x="730.40" y="319.36" width="10.19" height="9.97" fill="rgb(0, 143, 255)"/>
<rect x="740.54" y="319.36" width="10.19" height="9.97" fill="rgb(128, 0, 0)"/>
<rect x="750.68" y="319.36" width="10.19" height="9.97" fill="rgb(48, 255, 207)"/>
<rect x="760.81" y="319.36" width="10.19" height="9.97" fill="rgb(0, 64, 255)"/>
<rect x="770.95" y="319.36" width="10.19" height="9.97" fill="rgb(48, 255, 207)"/>
<rect x="781.09" y="319.36" width="10.19" height="9.97" fill="rgb(0, 64, 255)"/>
<rect x="791.22" y="319.36" width="10.19" height="9.97" fill="rgb(0, 32, 255)"/>
<rect x="801.36" y="319.36" width="10.19" height="9.97" fill="rgb(0, 223, 255)"/>
<rect x="811.50" y="319.36" width="10.19" height="9.97" fill="rgb(143, 255, 112)"/>
<rect x="821.64" y="319.36" width="10.19" height="9.97" fill="rgb(0, 96, 255)"/>
<rect x="831.77" y="319.36" width="10.19" height="9.97" fill="rgb(0, 143, 255)"/>
<rect x="841.91" y="319.36" width="10.19" height="9.97" fill="rgb(143, 255, 112)"/>
<rect x="852.05" y="319.36" width="10.19" height="9.97" fill="rgb(48, 255, 207)"/>
<rect x="862.18" y="319.36" width="10.19" height="9.97" fill="rgb(0, 96, 255)"/>
<rect x="872.32" y="319.36" width="10.19" height="9.97" fill="rgb(0, 96, 255)"/>
<rect x="882.46" y="319.36" width="10.19" height="9.97" fill="rgb(0, 96, 255)"/>
<rect x="892.60" y="319.36" width="10.19" height="9.97" fill="rgb(0, 96, 255)"/>
<rect x="902.73" y="319.36" width="10.19" height="9.97" fill="rgb(0, 0, 143)"/>
<rect x="912.87" y="319.36" width="10.19" height="9.97" fill="rgb(0, 0, 143)"/>
<rect x="923.01" y="319.36" width="10.19" height="9.97" fill="rgb(0, 0, 143)"/>
<rect x="933.14" y="319.36" width="10.19" height="9.97" fill="rgb(0, 0, 143)"/>
<rect x="943.28" y="319.36" width="10.19" height="9.97" fill="rgb(0, 0, 143)"/>
<rect x="953.42" y="319.36" width="10.19" height="9.97" fill="rgb(0, 0, 143)"/>
<rect x="537.80" y="309.44" width="10.19" height="9.97" fill="rgb(0, 223, 255)"/>
<rect x="547.94" y="309.44" width="10.19" height="9.97" fill="rgb(0, 223, 255)"/>
<rect x="558.07" y="309.44" width="10.19" height="9.97" fill="rgb(0, 223, 255)"/>
<rect x="568.21" y="309.44" width="10.19" height="9.97" fill="rgb(0, 223, 255)"/>
<rect x="578.35" y="309.44" width="10.19" height="9.97" fill="rgb(0, 223, 255)"/>
<rect x="588.48" y="309.44" width="10.19" height="9.97" fill="rgb(0, 223, 255)"/>
<rect x="598.62" y="309.44" width="10.19" height="9.97" fill="rgb(0, 223, 255)"/>
<rect x="608.76" y="309.44" width="10.19" height="9.97" fill="rgb(0, 143, 255)"/>
<rect x="618.90" y="309.44" width="10.19" height="9.97" fill="rgb(0, 96, 255)"/>
<rect x="629.03" y="309.44" width="10.19" height="9.97" fill="rgb(0, 0, 143)"/>
<rect x="639.17" y="309.44" width="10.19" height="9.97" fill="rgb(0, 0, 143)"/>
<rect x="649.31" y="309.44" width="10.19" height="9.97" fill="rgb(0, 0, 143)"/>
<rect x="659.44" y="309.44" width="10.19" height="9.97" fill="rgb(0, 143, 255)"/>
<rect x="669.58" y="309.44" width="10.19" height="9.97" fill="rgb(0, 143, 255)"/>
<rect x="679.72" y="309.44" width="10.19" height="9.97" fill="rgb(0, 223, 255)"/>
<rect x="689.86" y="309.44" width="10.19" height="9.97" fill="rgb(0, 223, 255)"/>
<rect x="699.99" y="309.44" width="10.19" height="9.97" fill="rgb(0, 96, 255)"/>
<rect x="710.13" y="309.44" width="10.19" height="9.97" fill="rgb(0, 0, 143)"/>
<rect x="720.27" y="309.44" width="10.19" height="9.97" fill="rgb(0, 0, 143)"/>
<rect x="730.40" y="309.44" width="10.19" height="9.97" fill="rgb(0, 0, 143)"/>
<rect x="740.54" y="309.44" width="10.19" height="9.97" fill="rgb(48, 255, 207)"/>
<rect x="750.68" y="309.44" width="10.19" height="9.97" fill="rgb(128, 0, 0)"/>
<rect x="760.81" y="309.44" width="10.19" height="9.97" fill="rgb(0, 96, 255)"/>
<rect x="770.95" y="309.44" width="10.19" height="9.97" fill="rgb(143, 255, 112)"/>
<rect x="781.09" y="309.44" width="10.19" height="9.97" fill="rgb(143, 255, 112)"/>
<rect x="791.22" y="309.44" width="10.19" height="9.97" fill="rgb(48, 255, 207)"/>
<rect x="801.36" y="309.44" width="10.19" height="9.97" fill="rgb(48, 255, 207)"/>
<rect x="811.50" y="309.44" width="10.19" height="9.97" fill="rgb(0, 223, 255)"/>
<rect x="821.64" y="309.44" width="10.19" height="9.97" fill="rgb(255, 207, 0)"/>
<rect x="831.77" y="309.44" width="10.19" height="9.97" fill="rgb(0, 223, 255)"/>
<rect x="841.91" y="309.44" width="10.19" height="9.97" fill="rgb(0, 143, 255)"/>
<rect x="852.05" y="309.44" width="10.19" height="9.97" fill="rgb(0, 96, 255)"/>
<rect x="862.18" y="309.44" width="10.19" height="9.97" fill="rgb(0, 143, 255)"/>
<rect x="872.32" y="309.44" width="10.19" height="9.97" fill="rgb(0, 143, 255)"/>
<rect x="882.46" y="309.44" width="10.19" height="9.97" fill="rgb(0, 143, 255)"/>
<rect x="892.60" y="309.44" width="10.19" height="9.97" fill="rgb(0, 143, 255)"/>
<rect x="902.73" y="309.44" width="10.19" height="9.97" fill="rgb(0, 0, 143)"/>
<rect x="912.87" y="309.44" width="10.19" height="9.97" fill="rgb(0, 0, 143)"/>
<rect x="923.01" y="309.44" width="10.19" height="9.97" fill="rgb(0, 0, 143)"/>
<rect x="933.14" y="309.44" width="10.19" height="9.97" fill="rgb(0, 0, 143)"/>
<rect x="943.28" y="309.44" width="10.19" height="9.97" fill="rgb(0, 0, 143)"/>
<rect x="953.42" y="309.44" width="10.19" height="9.97" fill="rgb(0, 0, 143)"/>
<rect x="537.80" y="299.52" width="10.19" height="9.97" fill="rgb(0, 223, 255)"/>
<rect x="547.94" y="299.52" width="10.19" height="9.97" fill="rgb(0, 223, 255)"/>
<rect x="558.07" y="299.52" width="10.19" height="9.97" fill="rgb(0, 223, 255)"/>
<rect x="568.21" y="299.52" width="10.19" height="9.97" fill="rgb(0, 223, 255)"/>
<rect x="578.35" y="299.52" width="10.19" height="9.97" fill="rgb(0, 223, 255)"/>
<rect x="588.48" y="299.52" width="10.19" height="9.97" fill="rgb(0, 223, 255)"/>
<rect x="598.62" y="299.52" width="10.19" height="9.97" fill="rgb(0, 223, 255)"/>
<rect x="608.76" y="299.52" width="10.19" height="9.97" fill="rgb(255, 207, 0)"/>
<rect x="618.90" y="299.52" width="10.19" height="9.97" fill="rgb(143, 255, 112)"/>
<rect x="629.03" y="299.52" width="10.19" height="9.97" fill="rgb(0, 0, 143)"/>
<rect x="639.17" y="299.52" width="10.19" height="9.97" fill="rgb(0, 0, 143)"/>
<rect x="649.31" y="299.52" width="10.19" height="9.97" fill="rgb(0, 143, 255)"/>
<rect x="659.44" y="299.52" width="10.19" height="9.97" fill="rgb(0, 143, 255)"/>
<rect x="669.58" y="299.52" width="10.19" height="9.97" fill="rgb(0, 0, 143)"/>
<rect x="679.72" y="299.52" width="10.19" height="9.97" fill="rgb(0, 0, 143)"/>
<rect x="689.86" y="299.52" width="10.19" height="9.97" fill="rgb(0, 0, 143)"/>
<rect x="699.99" y="299.52" width="10.19" height="9.97" fill="rgb(0, 0, 143)"/>
<rect x="710.13" y="299.52" width="10.19" height="9.97" fill="rgb(0, 0, 143)"/>
<rect x="720.27" y="299.52" width="10.19" height="9.97" fill="rgb(0, 0, 143)"/>
<rect x="730.40" y="299.52" width="10.19" height="9.97" fill="rgb(0, 0, 143)"/>
<rect x="740.54" y="299.52" width="10.19" height="9.97" fill="rgb(0, 64, 255)"/>
<rect x="750.68" y="299.52" width="10.19" height="9.97" fill="rgb(0, 96, 255)"/>
<rect x="760.81" y="299.52" width="10.19" height="9.97" fill="rgb(128, 0, 0)"/>
<rect x="770.95" y="299.52" width="10.19" height="9.97" fill="rgb(143, 255, 112)"/>
<rect x="781.09" y="299.52" width="10.19" height="9.97" fill="rgb(0, 96, 255)"/>
<rect x="791.22" y="299.52" width="10.19" height="9.97" fill="rgb(48, 255, 207)"/>
<rect x="801.36" y="299.52" width="10.19" height="9.97" fill="rgb(0, 64, 255)"/>
<rect x="811.50" y="299.52" width="10.19" height="9.97" fill="rgb(0, 32, 255)"/>
<rect x="821.64" y="299.52" width="10.19" height="9.97" fill="rgb(0, 0, 143)"/>
<rect x="831.77" y="299.52" width="10.19" height="9.97" fill="rgb(0, 0, 143)"/>
<rect x="841.91" y="299.52" width="10.19" height="9.97" fill="rgb(0, 0, 143)"/>
<rect x="852.05" y="299.52" width="10.19" height="9.97" fill="rgb(0, 96, 255)"/>
<rect x="862.18" y="299.52" width="10.19" height="9.97" fill="rgb(0, 143, 255)"/>
<rect x="872.32" y="299.52" width="10.19" height="9.97" fill="rgb(0, 143, 255)"/>
<rect x="882.46" y="299.52" width="10.19" height="9.97" fill="rgb(0, 143, 255)"/>
<rect x="892.60" y="299.52" width="10.19" height="9.97" fill="rgb(0, 143, 255)"/>
<rect x="902.73" y="299.52" width="10.19" height="9.97" fill="rgb(0, 223, 255)"/>
<rect x="912.87" y="299.52" width="10.19" height="9.97" fill="rgb(0, 223, 255)"/>
<rect x="923.01" y="299.52" width="10.19" height="9.97" fill="rgb(0, 223, 255)"/>
<rect x="933.14" y="299.52" width="10.19" height="9.97" fill="rgb(0, 223, 255)"/>
<rect x="943.28" y="299.52" width="10.19" height="9.97" fill="rgb(0, 223, 255)"/>
<rect x="953.42" y="299.52" width="10.19" height="9.97" fill="rgb(0, 223, 255)"/>
<rect x="537.80" y="289.60" width="10.19" height="9.97" fill="rgb(0, 223, 255)"/>
<rect x="547.94" y="289.60" width="10.19" height="9.97" fill="rgb(0, 223, 255)"/>
<rect x="558.07" y="289.60" width="10.19" height="9.97" fill="rgb(0, 223, 255)"/>
<rect x="568.21" y="289.60" width="10.19" height="9.97" fill="rgb(0, 223, 255)"/>
<rect x="578.35" y="289.60" width="10.19" height="9.97" fill="rgb(0, 223, 255)"/>
<rect x="588.48" y="289.60" width="10.19" height="9.97" fill="rgb(0, 223, 255)"/>
<rect x="598.62" y="289.60" width="10.19" height="9.97" fill="rgb(0, 223, 255)"/>
<rect x="608.76" y="289.60" width="10.19" height="9.97" fill="rgb(0, 143, 255)"/>
<rect x="618.90" y="289.60" width="10.19" height="9.97" fill="rgb(0, 96, 255)"/>
<rect x="629.03" y="289.60" width="10.19" height="9.97" fill="rgb(0, 0, 143)"/>
<rect x="639.17" y="289.60" width="10.19" height="9.97" fill="rgb(0, 0, 143)"/>
<rect x="649.31" y="289.60" width="10.19" height="9.97" fill="rgb(0, 0, 143)"/>
<rect x="659.44" y="289.60" width="10.19" height="9.97" fill="rgb(0, 0, 143)"/>
<rect x="669.58" y="289.60" width="10.19" height="9.97" fill="rgb(0, 0, 143)"/>
<rect x="679.72" y="289.60" width="10.19" height="9.97" fill="rgb(0, 0, 143)"/>
<rect x="689.86" y="289.60" width="10.19" height="9.97" fill="rgb(0, 0, 143)"/>
<rect x="699.99" y="289.60" width="10.19" height="9.97" fill="rgb(0, 0, 143)"/>
<rect x="710.13" y="289.60" width="10.19" height="9.97" fill="rgb(0, 0, 143)"/>
<rect x="720.27" y="289.60" width="10.19" height="9.97" fill="rgb(0, 0, 143)"/>
<rect x="730.40" y="289.60" width="10.19" height="9.97" fill="rgb(0, 0, 143)"/>
<rect x="740.54" y="289.60" width="10.19" height="9.97" fill="rgb(48, 255, 207)"/>
<rect x="750.68" y="289.60" width="10.19" height="9.97" fill="rgb(143, 255, 112)"/>
<rect x="760.81" y="289.60" width="10.19" height="9.97" fill="rgb(143, 255, 112)"/>
<rect x="770.95" y="289.60" width="10.19" height="9.97" fill="rgb(128, 0, 0)"/>
<rect x="781.09" y="289.60" width="10.19" height="9.97" fill="rgb(143, 255, 112)"/>
<rect x="791.22" y="289.60" width="10.19" height="9.97" fill="rgb(48, 255, 207)"/>
<rect x="801.36" y="289.60" width="10.19" height="9.97" fill="rgb(48, 255, 207)"/>
<rect x="811.50" y="289.60" width="10.19" height="9.97" fill="rgb(0, 223, 255)"/>
<rect x="821.64" y="289.60" width="10.19" height="9.97" fill="rgb(0, 143, 255)"/>
<rect x="831.77" y="289.60" width="10.19" height="9.97" fill="rgb(0, 223, 255)"/>
<rect x="841.91" y="289.60" width="10.19" height="9.97" fill="rgb(0, 143, 255)"/>
<rect x="852.05" y="289.60" width="10.19" height="9.97" fill="rgb(143, 255, 112)"/>
<rect x="862.18" y="289.60" width="10.19" height="9.97" fill="rgb(255, 207, 0)"/>
<rect x="872.32" y="289.60" width="10.19" height="9.97" fill="rgb(255, 207, 0)"/>
<rect x="882.46" y="289.60" width="10.19" height="9.97" fill="rgb(255, 207, 0)"/>
<rect x="892.60" y="289.60" width="10.19" height="9.97" fill="rgb(255, 207, 0)"/>
<rect x="902.73" y="289.60" width="10.19" height="9.97" fill="rgb(0, 223, 255)"/>
<rect x="912.87" y="289.60" width="10.19" height="9.97" fill="rgb(0, 223, 255)"/>
<rect x="923.01" y="289.60" width="10.19" height="9.97" fill="rgb(0, 223, 255)"/>
<rect x="933.14" y="289.60" width="10.19" height="9.97" fill="rgb(0, 223, 255)"/>
<rect x="943.28" y="289.60" width="10.19" height="9.97" fill="rgb(0, 223, 255)"/>
<rect x="953.42" y="289.60" width="10.19" height="9.97" fill="rgb(0, 223, 255)"/>
<rect x="537.80" y="279.68" width="10.19" height="9.97" fill="rgb(0, 0, 143)"/>
<rect x="547.94" y="279.68" width="10.19" height="9.97" fill="rgb(0, 0, 143)"/>
<rect x="558.07" y="279.68" width="10.19" height="9.97" fill="rgb(0, 0, 143)"/>
<rect x="568.21" y="279.68" width="10.19" height="9.97" fill="rgb(0, 0, 143)"/>
<rect x="578.35" y="279.68" width="10.19" height="9.97" fill="rgb(0, 0, 143)"/>
<rect x="588.48" y="279.68" width="10.19" height="9.97" fill="rgb(0, 0, 143)"/>
<rect x="598.62" y="279.68" width="10.19" height="9.97" fill="rgb(0, 0, 143)"/>
<rect x="608.76" y="279.68" width="10.19" height="9.97" fill="rgb(0, 0, 143)"/>
<rect x="618.90" y="279.68" width="10.19" height="9.97" fill="rgb(0, 0, 143)"/>
<rect x="629.03" y="279.68" width="10.19" height="9.97" fill="rgb(0, 0, 143)"/>
<rect x="639.17" y="279.68" width="10.19" height="9.97" fill="rgb(0, 0, 143)"/>
<rect x="649.31" y="279.68" width="10.19" height="9.97" fill="rgb(0, 0, 143)"/>
<rect x="659.44" y="279.68" width="10.19" height="9.97" fill="rgb(0, 143, 255)"/>
<rect x="669.58" y="279.68" width="10.19" height="9.97" fill="rgb(0, 143, 255)"/>
<rect x="679.72" y="279.68" width="10.19" height="9.97" fill="rgb(0, 223, 255)"/>
<rect x="689.86" y="279.68" width="10.19" height="9.97" fill="rgb(0, 223, 255)"/>
<rect x="699.99" y="279.68" width="10.19" height="9.97" fill="rgb(0, 96, 255)"/>
<rect x="710.13" y="279.68" width="10.19" height="9.97" fill="rgb(0, 0, 143)"/>
<rect x="720.27" y="279.68" width="10.19" height="9.97" fill="rgb(0, 0, 143)"/>
<rect x="730.40" y="279.68" width="10.19" height="9.97" fill="rgb(0, 0, 143)"/>
<rect x="740.54" y="279.68" width="10.19" height="9.97" fill="rgb(0, 64, 255)"/>
<rect x="750.68" y="279.68" width="10.19" height="9.97" fill="rgb(143, 255, 112)"/>
<rect x="760.81" y="279.68" width="10.19" height="9.97" fill="rgb(0, 96, 255)"/>
<rect x="770.95" y="279.68" width="10.19" height="9.97" fill="rgb(143, 255, 112)"/>
<rect x="781.09" y="279.68" width="10.19" height="9.97" fill="rgb(128, 0, 0)"/>
<rect x="791.22" y="279.68" width="10.19" height="9.97" fill="rgb(255, 112, 0)"/>
<rect x="801.36" y="279.68" width="10.19" height="9.97" fill="rgb(255, 112, 0)"/>
<rect x="811.50" y="279.68" width="10.19" height="9.97" fill="rgb(239, 255, 16)"/>
<rect x="821.64" y="279.68" width="10.19" height="9.97" fill="rgb(255, 207, 0)"/>
<rect x="831.77" y="279.68" width="10.19" height="9.97" fill="rgb(0, 223, 255)"/>
<rect x="841.91" y="279.68" width="10.19" height="9.97" fill="rgb(0, 143, 255)"/>
<rect x="852.05" y="279.68" width="10.19" height="9.97" fill="rgb(143, 255, 112)"/>
<rect x="862.18" y="279.68" width="10.19" height="9.97" fill="rgb(255, 207, 0)"/>
<rect x="872.32" y="279.68" width="10.19" height="9.97" fill="rgb(255, 207, 0)"/>
<rect x="882.46" y="279.68" width="10.19" height="9.97" fill="rgb(255, 207, 0)"/>
<rect x="892.60" y="279.68" width="10.19" height="9.97" fill="rgb(255, 207, 0)"/>
<rect x="902.73" y="279.68" width="10.19" height="9.97" fill="rgb(0, 223, 255)"/>
<rect x="912.87" y="279.68" width="10.19" height="9.97" fill="rgb(0, 223, 255)"/>
<rect x="923.01" y="279.68" width="10.19" height="9.97" fill="rgb(0, 223, 255)"/>
<rect x="933.14" y="279.68" width="10.19" height="9.97" fill="rgb(0, 223, 255)"/>
<rect x="943.28" y="279.68" width="10.19" height="9.97" fill="rgb(0, 223, 255)"/>
<rect x="953.42" y="279.68" width="10.19" height="9.97" fill="rgb(0, 223, 255)"/>
<rect x="537.80" y="269.75" width="10.19" height="9.97" fill="rgb(0, 0, 143)"/>
<rect x="547.94" y="269.75" width="10.19" height="9.97" fill="rgb(0, 0, 143)"/>
<rect x="558.07" y="269.75" width="10.19" height="9.97" fill="rgb(0, 0, 143)"/>
<rect x="568.21" y="269.75" width="10.19" height="9.97" fill="rgb(0, 0, 143)"/>
<rect x="578.35" y="269.75" width="10.19" height="9.97" fill="rgb(0, 0, 143)"/>
<rect x="588.48" y="269.75" width="10.19" height="9.97" fill="rgb(0, 0, 143)"/>
<rect x="598.62" y="269.75" width="10.19" height="9.97" fill="rgb(0, 0, 143)"/>
<rect x="608.76" y="269.75" width="10.19" height="9.97" fill="rgb(0, 96, 255)"/>
<rect x="618.90" y="269.75" width="10.19" height="9.97" fill="rgb(0, 64, 255)"/>
<rect x="629.03" y="269.75" width="10.19" height="9.97" fill="rgb(0, 0, 143)"/>
<rect x="639.17" y="269.75" width="10.19" height="9.97" fill="rgb(0, 0, 143)"/>
<rect x="649.31" y="269.75" width="10.19" height="9.97" fill="rgb(0, 96, 255)"/>
<rect x="659.44" y="269.75" width="10.19" height="9.97" fill="rgb(143, 255, 112)"/>
<rect x="669.58" y="269.75" width="10.19" height="9.97" fill="rgb(0, 96, 255)"/>
<rect x="679.72" y="269.75" width="10.19" height="9.97" fill="rgb(0, 143, 255)"/>
<rect x="689.86" y="269.75" width="10.19" height="9.97" fill="rgb(0, 143, 255)"/>
<rect x="699.99" y="269.75" width="10.19" height="9.97" fill="rgb(0, 32, 255)"/>
<rect x="710.13" y="269.75" width="10.19" height="9.97" fill="rgb(0, 0, 143)"/>
<rect x="720.27" y="269.75" width="10.19" height="9.97" fill="rgb(0, 0, 143)"/>
<rect x="730.40" y="269.75" width="10.19" height="9.97" fill="rgb(0, 0, 143)"/>
<rect x="740.54" y="269.75" width="10.19" height="9.97" fill="rgb(0, 32, 255)"/>
<rect x="750.68" y="269.75" width="10.19" height="9.97" fill="rgb(48, 255, 207)"/>
<rect x="760.81" y="269.75" width="10.19" height="9.97" fill="rgb(48, 255, 207)"/>
<rect x="770.95" y="269.75" width="10.19" height="9.97" fill="rgb(48, 255, 207)"/>
<rect x="781.09" y="269.75" width="10.19" height="9.97" fill="rgb(255, 112, 0)"/>
<rect x="791.22" y="269.75" width="10.19" height="9.97" fill="rgb(128, 0, 0)"/>
<rect x="801.36" y="269.75" width="10.19" height="9.97" fill="rgb(239, 255, 16)"/>
<rect x="811.50" y="269.75" width="10.19" height="9.97" fill="rgb(143, 255, 112)"/>
<rect x="821.64" y="269.75" width="10.19" height="9.97" fill="rgb(143, 255, 112)"/>
<rect x="831.77" y="269.75" width="10.19" height="9.97" fill="rgb(0, 143, 255)"/>
<rect x="841.91" y="269.75" width="10.19" height="9.97" fill="rgb(0, 96, 255)"/>
<rect x="852.05" y="269.75" width="10.19" height="9.97" fill="rgb(48, 255, 207)"/>
<rect x="862.18" y="269.75" width="10.19" height="9.97" fill="rgb(143, 255, 112)"/>
<rect x="872.32" y="269.75" width="10.19" height="9.97" fill="rgb(143, 255, 112)"/>
<rect x="882.46" y="269.75" width="10.19" height="9.97" fill="rgb(143, 255, 112)"/>
<rect x="892.60" y="269.75" width="10.19" height="9.97" fill="rgb(143, 255, 112)"/>
<rect x="902.73" y="269.75" width="10.19" height="9.97" fill="rgb(0, 143, 255)"/>
<rect x="912.87" y="269.75" width="10.19" height="9.97" fill="rgb(0, 143, 255)"/>
<rect x="923.01" y="269.75" width="10.19" height="9.97" fill="rgb(0, 143, 255)"/>
<rect x="933.14" y="269.75" width="10.19" height="9.97" fill="rgb(0, 143, 255)"/>
<rect x="943.28" y="269.75" width="10.19" height="9.97" fill="rgb(0, 143, 255)"/>
<rect x="953.42" y="269.75" width="10.19" height="9.97" fill="rgb(0, 143, 255)"/>
<rect x="537.80" y="259.83" width="10.19" height="9.97" fill="rgb(0, 0, 143)"/>
<rect x="547.94" y="259.83" width="10.19" height="9.97" fill="rgb(0, 0, 143)"/>
<rect x="558.07" y="259.83" width="10.19" height="9.97" fill="rgb(0, 0, 143)"/>
<rect x="568.21" y="259.83" width="10.19" height="9.97" fill="rgb(0, 0, 143)"/>
<rect x="578.35" y="259.83" width="10.19" height="9.97" fill="rgb(0, 0, 143)"/>
<rect x="588.48" y="259.83" width="10.19" height="9.97" fill="rgb(0, 0, 143)"/>
<rect x="598.62" y="259.83" width="10.19" height="9.97" fill="rgb(0, 0, 143)"/>
<rect x="608.76" y="259.83" width="10.19" height="9.97" fill="rgb(0, 0, 143)"/>
<rect x="618.90" y="259.83" width="10.19" height="9.97" fill="rgb(0, 0, 143)"/>
<rect x="629.03" y="259.83" width="10.19" height="9.97" fill="rgb(0, 0, 143)"/>
<rect x="639.17" y="259.83" width="10.19" height="9.97" fill="rgb(0, 0, 143)"/>
<rect x="649.31" y="259.83" width="10.19" height="9.97" fill="rgb(0, 0, 143)"/>
<rect x="659.44" y="259.83" width="10.19" height="9.97" fill="rgb(0, 96, 255)"/>
<rect x="669.58" y="259.83" width="10.19" height="9.97" fill="rgb(0, 64, 255)"/>
<rect x="679.72" y="259.83" width="10.19" height="9.97" fill="rgb(0, 143, 255)"/>
<rect x="689.86" y="259.83" width="10.19" height="9.97" fill="rgb(0, 143, 255)"/>
<rect x="699.99" y="259.83" width="10.19" height="9.97" fill="rgb(48, 255, 207)"/>
<rect x="710.13" y="259.83" width="10.19" height="9.97" fill="rgb(0, 143, 255)"/>
<rect x="720.27" y="259.83" width="10.19" height="9.97" fill="rgb(0, 143, 255)"/>
<rect x="730.40" y="259.83" width="10.19" height="9.97" fill="rgb(0, 143, 255)"/>
<rect x="740.54" y="259.83" width="10.19" height="9.97" fill="rgb(0, 223, 255)"/>
<rect x="750.68" y="259.83" width="10.19" height="9.97" fill="rgb(48, 255, 207)"/>
<rect x="760.81" y="259.83" width="10.19" height="9.97" fill="rgb(0, 64, 255)"/>
<rect x="770.95" y="259.83" width="10.19" height="9.97" fill="rgb(48, 255, 207)"/>
<rect x="781.09" y="259.83" width="10.19" height="9.97" fill="rgb(255, 112, 0)"/>
<rect x="791.22" y="259.83" width="10.19" height="9.97" fill="rgb(239, 255, 16)"/>
<rect x="801.36" y="259.83" width="10.19" height="9.97" fill="rgb(128, 0, 0)"/>
<rect x="811.50" y="259.83" width="10.19" height="9.97" fill="rgb(255, 80, 0)"/>
<rect x="821.64" y="259.83" width="10.19" height="9.97" fill="rgb(143, 255, 112)"/>
<rect x="831.77" y="259.83" width="10.19" height="9.97" fill="rgb(0, 143, 255)"/>
<rect x="841.91" y="259.83" width="10.19" height="9.97" fill="rgb(143, 255, 112)"/>
<rect x="852.05" y="259.83" width="10.19" height="9.97" fill="rgb(255, 112, 0)"/>
<rect x="862.18" y="259.83" width="10.19" height="9.97" fill="rgb(143, 255, 112)"/>
<rect x="872.32" y="259.83" width="10.19" height="9.97" fill="rgb(143, 255, 112)"/>
<rect x="882.46" y="259.83" width="10.19" height="9.97" fill="rgb(143, 255, 112)"/>
<rect x="892.60" y="259.83" width="10.19" height="9.97" fill="rgb(143, 255, 112)"/>
<rect x="902.73" y="259.83" width="10.19" height="9.97" fill="rgb(0, 143, 255)"/>
<rect x="912.87" y="259.83" width="10.19" height="9.97" fill="rgb(0, 143, 255)"/>
<rect x="923.01" y="259.83" width="10.19" height="9.97" fill="rgb(0, 143, 255)"/>
<rect x="933.14" y="259.83" width="10.19" height="9.97" fill="rgb(0, 143, 255)"/>
<rect x="943.28" y="259.83" width="10.19" height="9.97" fill="rgb(0, 143, 255)"/>
<rect x="953.42" y="259.83" width="10.19" height="9.97" fill="rgb(0, 143, 255)"/>
<rect x="537.80" y="249.91" width="10.19" height="9.97" fill="rgb(0, 0, 143)"/>
<rect x="547.94" y="249.91" width="10.19" height="9.97" fill="rgb(0, 0, 143)"/>
<rect x="558.07" y="249.91" width="10.19" height="9.97" fill="rgb(0, 0, 143)"/>
<rect x="568.21" y="249.91" width="10.19" height="9.97" fill="rgb(0, 0, 143)"/>
<rect x="578.35" y="249.91" width="10.19" height="9.97" fill="rgb(0, 0, 143)"/>
<rect x="588.48" y="249.91" width="10.19" height="9.97" fill="rgb(0, 0, 143)"/>
<rect x="598.62" y="249.91" width="10.19" height="9.97" fill="rgb(0, 0, 143)"/>
<rect x="608.76" y="249.91" width="10.19" height="9.97" fill="rgb(0, 0, 143)"/>
<rect x="618.90" y="249.91" width="10.19" height="9.97" fill="rgb(0, 32, 255)"/>
<rect x="629.03" y="249.91" width="10.19" height="9.97" fill="rgb(0, 96, 255)"/>
<rect x="639.17" y="249.91" width="10.19" height="9.97" fill="rgb(0, 96, 255)"/>
<rect x="649.31" y="249.91" width="10.19" height="9.97" fill="rgb(0, 0, 143)"/>
<rect x="659.44" y="249.91" width="10.19" height="9.97" fill="rgb(0, 32, 255)"/>
<rect x="669.58" y="249.91" width="10.19" height="9.97" fill="rgb(48, 255, 207)"/>
<rect x="679.72" y="249.91" width="10.19" height="9.97" fill="rgb(0, 96, 255)"/>
<rect x="689.86" y="249.91" width="10.19" height="9.97" fill="rgb(0, 96, 255)"/>
<rect x="699.99" y="249.91" width="10.19" height="9.97" fill="rgb(16, 255, 239)"/>
<rect x="710.13" y="249.91" width="10.19" height="9.97" fill="rgb(0, 96, 255)"/>
<rect x="720.27" y="249.91" width="10.19" height="9.97" fill="rgb(0, 96, 255)"/>
<rect x="730.40" y="249.91" width="10.19" height="9.97" fill="rgb(0, 96, 255)"/>
<rect x="740.54" y="249.91" width="10.19" height="9.97" fill="rgb(143, 255, 112)"/>
<rect x="750.68" y="249.91" width="10.19" height="9.97" fill="rgb(0, 223, 255)"/>
<rect x="760.81" y="249.91" width="10.19" height="9.97" fill="rgb(0, 32, 255)"/>
<rect x="770.95" y="249.91" width="10.19" height="9.97" fill="rgb(0, 223, 255)"/>
<rect x="781.09" y="249.91" width="10.19" height="9.97" fill="rgb(239, 255, 16)"/>
<rect x="791.22" y="249.91" width="10.19" height="9.97" fill="rgb(143, 255, 112)"/>
<rect x="801.36" y="249.91" width="10.19" height="9.97" fill="rgb(255, 80, 0)"/>
<rect x="811.50" y="249.91" width="10.19" height="9.97" fill="rgb(128, 0, 0)"/>
<rect x="821.64" y="249.91" width="10.19" height="9.97" fill="rgb(48, 255, 207)"/>
<rect x="831.77" y="249.91" width="10.19" height="9.97" fill="rgb(0, 96, 255)"/>
<rect x="841.91" y="249.91" width="10.19" height="9.97" fill="rgb(48, 255, 207)"/>
<rect x="852.05" y="249.91" width="10.19" height="9.97" fill="rgb(239, 255, 16)"/>
<rect x="862.18" y="249.91" width="10.19" height="9.97" fill="rgb(48, 255, 207)"/>
<rect x="872.32" y="249.91" width="10.19" height="9.97" fill="rgb(48, 255, 207)"/>
<rect x="882.46" y="249.91" width="10.19" height="9.97" fill="rgb(48, 255, 207)"/>
<rect x="892.60" y="249.91" width="10.19" height="9.97" fill="rgb(48, 255, 207)"/>
<rect x="902.73" y="249.91" width="10.19" height="9.97" fill="rgb(0, 64, 255)"/>
<rect x="912.87" y="249.91" width="10.19" height="9.97" fill="rgb(0, 64, 255)"/>
<rect x="923.01" y="249.91" width="10.19" height="9.97" fill="rgb(0, 64, 255)"/>
<rect x="933.14" y="249.91" width="10.19" height="9.97" fill="rgb(0, 64, 255)"/>
<rect x="943.28" y="249.91" width="10.19" height="9.97" fill="rgb(0, 64, 255)"/>
<rect x="953.42" y="249.91" width="10.19" height="9.97" fill="rgb(0, 64, 255)"/>
<rect x="537.80" y="239.99" width="10.19" height="9.97" fill="rgb(0, 0, 143)"/>
<rect x="547.94" y="239.99" width="10.19" height="9.97" fill="rgb(0, 0, 143)"/>
<rect x="558.07" y="239.99" width="10.19" height="9.97" fill="rgb(0, 0, 143)"/>
<rect x="568.21" y="239.99" width="10.19" height="9.97" fill="rgb(0, 0, 143)"/>
<rect x="578.35" y="239.99" width="10.19" height="9.97" fill="rgb(0, 0, 143)"/>
<rect x="588.48" y="239.99" width="10.19" height="9.97" fill="rgb(0, 0, 143)"/>
<rect x="598.62" y="239.99" width="10.19" height="9.97" fill="rgb(0, 0, 143)"/>
<rect x="608.76" y="239.99" width="10.19" height="9.97" fill="rgb(0, 0, 143)"/>
<rect x="618.90" y="239.99" width="10.19" height="9.97" fill="rgb(0, 0, 143)"/>
<rect x="629.03" y="239.99" width="10.19" height="9.97" fill="rgb(0, 0, 143)"/>
<rect x="639.17" y="239.99" width="10.19" height="9.97" fill="rgb(0, 0, 143)"/>
<rect x="649.31" y="239.99" width="10.19" height="9.97" fill="rgb(0, 0, 143)"/>
<rect x="659.44" y="239.99" width="10.19" height="9.97" fill="rgb(0, 223, 255)"/>
<rect x="669.58" y="239.99" width="10.19" height="9.97" fill="rgb(0, 223, 255)"/>
<rect x="679.72" y="239.99" width="10.19" height="9.97" fill="rgb(143, 255, 112)"/>
<rect x="689.86" y="239.99" width="10.19" height="9.97" fill="rgb(143, 255, 112)"/>
<rect x="699.99" y="239.99" width="10.19" height="9.97" fill="rgb(0, 143, 255)"/>
<rect x="710.13" y="239.99" width="10.19" height="9.97" fill="rgb(0, 0, 143)"/>
<rect x="720.27" y="239.99" width="10.19" height="9.97" fill="rgb(0, 0, 143)"/>
<rect x="730.40" y="239.99" width="10.19" height="9.97" fill="rgb(0, 0, 143)"/>
<rect x="740.54" y="239.99" width="10.19" height="9.97" fill="rgb(0, 96, 255)"/>
<rect x="750.68" y="239.99" width="10.19" height="9.97" fill="rgb(255, 207, 0)"/>
<rect x="760.81" y="239.99" width="10.19" height="9.97" fill="rgb(0, 0, 143)"/>
<rect x="770.95" y="239.99" width="10.19" height="9.97" fill="rgb(0, 143, 255)"/>
<rect x="781.09" y="239.99" width="10.19" height="9.97" fill="rgb(255, 207, 0)"/>
<rect x="791.22" y="239.99" width="10.19" height="9.97" fill="rgb(143, 255, 112)"/>
<rect x="801.36" y="239.99" width="10.19" height="9.97" fill="rgb(143, 255, 112)"/>
<rect x="811.50" y="239.99" width="10.19" height="9.97" fill="rgb(48, 255, 207)"/>
<rect x="821.64" y="239.99" width="10.19" height="9.97" fill="rgb(128, 0, 0)"/>
<rect x="831.77" y="239.99" width="10.19" height="9.97" fill="rgb(143, 255, 112)"/>
<rect x="841.91" y="239.99" width="10.19" height="9.97" fill="rgb(0, 223, 255)"/>
<rect x="852.05" y="239.99" width="10.19" height="9.97" fill="rgb(0, 143, 255)"/>
<rect x="862.18" y="239.99" width="10.19" height="9.97" fill="rgb(0, 223, 255)"/>
<rect x="872.32" y="239.99" width="10.19" height="9.97" fill="rgb(0, 223, 255)"/>
<rect x="882.46" y="239.99" width="10.19" height="9.97" fill="rgb(0, 223, 255)"/>
<rect x="892.60" y="239.99" width="10.19" height="9.97" fill="rgb(0, 223, 255)"/>
<rect x="902.73" y="239.99" width="10.19" height="9.97" fill="rgb(0, 0, 143)"/>
<rect x="912.87" y="239.99" width="10.19" height="9.97" fill="rgb(0, 0, 143)"/>
<rect x="923.01" y="239.99" width="10.19" height="9.97" fill="rgb(0, 0, 143)"/>
<rect x="933.14" y="239.99" width="10.19" height="9.97" fill="rgb(0, 0, 143)"/>
<rect x="943.28" y="239.99" width="10.19" height="9.97" fill="rgb(0, 0, 143)"/>
<rect x="953.42" y="239.99" width="10.19" height="9.97" fill="rgb(0, 0, 143)"/>
<rect x="537.80" y="230.07" width="10.19" height="9.97" fill="rgb(0, 0, 143)"/>
<rect x="547.94" y="230.07" width="10.19" height="9.97" fill="rgb(0, 0, 143)"/>
<rect x="558.07" y="230.07" width="10.19" height="9.97" fill="rgb(0, 0, 143)"/>
<rect x="568.21" y="230.07" width="10.19" height="9.97" fill="rgb(0, 0, 143)"/>
<rect x="578.35" y="230.07" width="10.19" height="9.97" fill="rgb(0, 0, 143)"/>
<rect x="588.48" y="230.07" width="10.19" height="9.97" fill="rgb(0, 0, 143)"/>
<rect x="598.62" y="230.07" width="10.19" height="9.97" fill="rgb(0, 0, 143)"/>
<rect x="608.76" y="230.07" width="10.19" height="9.97" fill="rgb(0, 0, 143)"/>
<rect x="618.90" y="230.07" width="10.19" height="9.97" fill="rgb(0, 0, 143)"/>
<rect x="629.03" y="230.07" width="10.19" height="9.97" fill="rgb(0, 0, 143)"/>
<rect x="639.17" y="230.07" width="10.19" height="9.97" fill="rgb(0, 0, 143)"/>
<rect x="649.31" y="230.07" width="10.19" height="9.97" fill="rgb(0, 0, 143)"/>
<rect x="659.44" y="230.07" width="10.19" height="9.97" fill="rgb(0, 0, 143)"/>
<rect x="669.58" y="230.07" width="10.19" height="9.97" fill="rgb(0, 0, 143)"/>
<rect x="679.72" y="230.07" width="10.19" height="9.97" fill="rgb(0, 0, 143)"/>
<rect x="689.86" y="230.07" width="10.19" height="9.97" fill="rgb(0, 0, 143)"/>
<rect x="699.99" y="230.07" width="10.19" height="9.97" fill="rgb(0, 0, 143)"/>
<rect x="710.13" y="230.07" width="10.19" height="9.97" fill="rgb(0, 0, 143)"/>
<rect x="720.27" y="230.07" width="10.19" height="9.97" fill="rgb(0, 0, 143)"/>
<rect x="730.40" y="230.07" width="10.19" height="9.97" fill="rgb(0, 0, 143)"/>
<rect x="740.54" y="230.07" width="10.19" height="9.97" fill="rgb(0, 143, 255)"/>
<rect x="750.68" y="230.07" width="10.19" height="9.97" fill="rgb(0, 223, 255)"/>
<rect x="760.81" y="230.07" width="10.19" height="9.97" fill="rgb(0, 0, 143)"/>
<rect x="770.95" y="230.07" width="10.19" height="9.97" fill="rgb(0, 223, 255)"/>
<rect x="781.09" y="230.07" width="10.19" height="9.97" fill="rgb(0, 223, 255)"/>
<rect x="791.22" y="230.07" width="10.19" height="9.97" fill="rgb(0, 143, 255)"/>
<rect x="801.36" y="230.07" width="10.19" height="9.97" fill="rgb(0, 143, 255)"/>
<rect x="811.50" y="230.07" width="10.19" height="9.97" fill="rgb(0, 96, 255)"/>
<rect x="821.64" y="230.07" width="10.19" height="9.97" fill="rgb(143, 255, 112)"/>
<rect x="831.77" y="230.07" width="10.19" height="9.97" fill="rgb(128, 0, 0)"/>
<rect x="841.91" y="230.07" width="10.19" height="9.97" fill="rgb(143, 255, 112)"/>
<rect x="852.05" y="230.07" width="10.19" height="9.97" fill="rgb(0, 223, 255)"/>
<rect x="862.18" y="230.07" width="10.19" height="9.97" fill="rgb(143, 255, 112)"/>
<rect x="872.32" y="230.07" width="10.19" height="9.97" fill="rgb(143, 255, 112)"/>
<rect x="882.46" y="230.07" width="10.19" height="9.97" fill="rgb(143, 255, 112)"/>
<rect x="892.60" y="230.07" width="10.19" height="9.97" fill="rgb(143, 255, 112)"/>
<rect x="902.73" y="230.07" width="10.19" height="9.97" fill="rgb(0, 0, 143)"/>
<rect x="912.87" y="230.07" width="10.19" height="9.97" fill="rgb(0, 0, 143)"/>
<rect x="923.01" y="230.07" width="10.19" height="9.97" fill="rgb(0, 0, 143)"/>
<rect x="933.14" y="230.07" width="10.19" height="9.97" fill="rgb(0, 0, 143)"/>
<rect x="943.28" y="230.07" width="10.19" height="9.97" fill="rgb(0, 0, 143)"/>
<rect x="953.42" y="230.07" width="10.19" height="9.97" fill="rgb(0, 0, 143)"/>
<rect x="537.80" y="220.15" width="10.19" height="9.97" fill="rgb(0, 0, 143)"/>
<rect x="547.94" y="220.15" width="10.19" height="9.97" fill="rgb(0, 0, 143)"/>
<rect x="558.07" y="220.15" width="10.19" height="9.97" fill="rgb(0, 0, 143)"/>
<rect x="568.21" y="220.15" width="10.19" height="9.97" fill="rgb(0, 0, 143)"/>
<rect x="578.35" y="220.15" width="10.19" height="9.97" fill="rgb(0, 0, 143)"/>
<rect x="588.48" y="220.15" width="10.19" height="9.97" fill="rgb(0, 0, 143)"/>
<rect x="598.62" y="220.15" width="10.19" height="9.97" fill="rgb(0, 0, 143)"/>
<rect x="608.76" y="220.15" width="10.19" height="9.97" fill="rgb(0, 0, 143)"/>
<rect x="618.90" y="220.15" width="10.19" height="9.97" fill="rgb(0, 0, 143)"/>
<rect x="629.03" y="220.15" width="10.19" height="9.97" fill="rgb(0, 0, 143)"/>
<rect x="639.17" y="220.15" width="10.19" height="9.97" fill="rgb(0, 0, 143)"/>
<rect x="649.31" y="220.15" width="10.19" height="9.97" fill="rgb(0, 0, 143)"/>
<rect x="659.44" y="220.15" width="10.19" height="9.97" fill="rgb(0, 0, 143)"/>
<rect x="669.58" y="220.15" width="10.19" height="9.97" fill="rgb(0, 0, 143)"/>
<rect x="679.72" y="220.15" width="10.19" height="9.97" fill="rgb(0, 0, 143)"/>
<rect x="689.86" y="220.15" width="10.19" height="9.97" fill="rgb(0, 0, 143)"/>
<rect x="699.99" y="220.15" width="10.19" height="9.97" fill="rgb(0, 143, 255)"/>
<rect x="710.13" y="220.15" width="10.19" height="9.97" fill="rgb(143, 255, 112)"/>
<rect x="720.27" y="220.15" width="10.19" height="9.97" fill="rgb(143, 255, 112)"/>
<rect x="730.40" y="220.15" width="10.19" height="9.97" fill="rgb(143, 255, 112)"/>
<rect x="740.54" y="220.15" width="10.19" height="9.97" fill="rgb(143, 255, 112)"/>
<rect x="750.68" y="220.15" width="10.19" height="9.97" fill="rgb(0, 143, 255)"/>
<rect x="760.81" y="220.15" width="10.19" height="9.97" fill="rgb(0, 0, 143)"/>
<rect x="770.95" y="220.15" width="10.19" height="9.97" fill="rgb(0, 143, 255)"/>
<rect x="781.09" y="220.15" width="10.19" height="9.97" fill="rgb(0, 143, 255)"/>
<rect x="791.22" y="220.15" width="10.19" height="9.97" fill="rgb(0, 96, 255)"/>
<rect x="801.36" y="220.15" width="10.19" height="9.97" fill="rgb(143, 255, 112)"/>
<rect x="811.50" y="220.15" width="10.19" height="9.97" fill="rgb(48, 255, 207)"/>
<rect x="821.64" y="220.15" width="10.19" height="9.97" fill="rgb(0, 223, 255)"/>
<rect x="831.77" y="220.15" width="10.19" height="9.97" fill="rgb(143, 255, 112)"/>
<rect x="841.91" y="220.15" width="10.19" height="9.97" fill="rgb(128, 0, 0)"/>
<rect x="852.05" y="220.15" width="10.19" height="9.97" fill="rgb(255, 207, 0)"/>
<rect x="862.18" y="220.15" width="10.19" height="9.97" fill="rgb(0, 223, 255)"/>
<rect x="872.32" y="220.15" width="10.19" height="9.97" fill="rgb(0, 223, 255)"/>
<rect x="882.46" y="220.15" width="10.19" height="9.97" fill="rgb(0, 223, 255)"/>
<rect x="892.60" y="220.15" width="10.19" height="9.97" fill="rgb(0, 223, 255)"/>
<rect x="902.73" y="220.15" width="10.19" height="9.97" fill="rgb(0, 0, 143)"/>
<rect x="912.87" y="220.15" width="10.19" height="9.97" fill="rgb(0, 0, 143)"/>
<rect x="923.01" y="220.15" width="10.19" height="9.97" fill="rgb(0, 0, 143)"/>
<rect x="933.14" y="220.15" width="10.19" height="9.97" fill="rgb(0, 0, 143)"/>
<rect x="943.28" y="220.15" width="10.19" height="9.97" fill="rgb(0, 0, 143)"/>
<rect x="953.42" y="220.15" width="10.19" height="9.97" fill="rgb(0, 0, 143)"/>
<rect x="537.80" y="210.23" width="10.19" height="9.97" fill="rgb(0, 0, 143)"/>
<rect x="547.94" y="210.23" width="10.19" height="9.97" fill="rgb(0, 0, 143)"/>
<rect x="558.07" y="210.23" width="10.19" height="9.97" fill="rgb(0, 0, 143)"/>
<rect x="568.21" y="210.23" width="10.19" height="9.97" fill="rgb(0, 0, 143)"/>
<rect x="578.35" y="210.23" width="10.19" height="9.97" fill="rgb(0, 0, 143)"/>
<rect x="588.48" y="210.23" width="10.19" height="9.97" fill="rgb(0, 0, 143)"/>
<rect x="598.62" y="210.23" width="10.19" height="9.97" fill="rgb(0, 0, 143)"/>
<rect x="608.76" y="210.23" width="10.19" height="9.97" fill="rgb(0, 0, 143)"/>
<rect x="618.90" y="210.23" width="10.19" height="9.97" fill="rgb(0, 0, 143)"/>
<rect x="629.03" y="210.23" width="10.19" height="9.97" fill="rgb(0, 0, 143)"/>
<rect x="639.17" y="210.23" width="10.19" height="9.97" fill="rgb(0, 0, 143)"/>
<rect x="649.31" y="210.23" width="10.19" height="9.97" fill="rgb(0, 0, 143)"/>
<rect x="659.44" y="210.23" width="10.19" height="9.97" fill="rgb(0, 0, 143)"/>
<rect x="669.58" y="210.23" width="10.19" height="9.97" fill="rgb(0, 0, 143)"/>
<rect x="679.72" y="210.23" width="10.19" height="9.97" fill="rgb(0, 0, 143)"/>
<rect x="689.86" y="210.23" width="10.19" height="9.97" fill="rgb(0, 0, 143)"/>
<rect x="699.99" y="210.23" width="10.19" height="9.97" fill="rgb(0, 64, 255)"/>
<rect x="710.13" y="210.23" width="10.19" height="9.97" fill="rgb(0, 223, 255)"/>
<rect x="720.27" y="210.23" width="10.19" height="9.97" fill="rgb(0, 223, 255)"/>
<rect x="730.40" y="210.23" width="10.19" height="9.97" fill="rgb(0, 223, 255)"/>
<rect x="740.54" y="210.23" width="10.19" height="9.97" fill="rgb(48, 255, 207)"/>
<rect x="750.68" y="210.23" width="10.19" height="9.97" fill="rgb(0, 96, 255)"/>
<rect x="760.81" y="210.23" width="10.19" height="9.97" fill="rgb(0, 96, 255)"/>
<rect x="770.95" y="210.23" width="10.19" height="9.97" fill="rgb(143, 255, 112)"/>
<rect x="781.09" y="210.23" width="10.19" height="9.97" fill="rgb(143, 255, 112)"/>
<rect x="791.22" y="210.23" width="10.19" height="9.97" fill="rgb(48, 255, 207)"/>
<rect x="801.36" y="210.23" width="10.19" height="9.97" fill="rgb(255, 112, 0)"/>
<rect x="811.50" y="210.23" width="10.19" height="9.97" fill="rgb(239, 255, 16)"/>
<rect x="821.64" y="210.23" width="10.19" height="9.97" fill="rgb(0, 143, 255)"/>
<rect x="831.77" y="210.23" width="10.19" height="9.97" fill="rgb(0, 223, 255)"/>
<rect x="841.91" y="210.23" width="10.19" height="9.97" fill="rgb(255, 207, 0)"/>
<rect x="852.05" y="210.23" width="10.19" height="9.97" fill="rgb(128, 0, 0)"/>
<rect x="862.18" y="210.23" width="10.19" height="9.97" fill="rgb(255, 207, 0)"/>
<rect x="872.32" y="210.23" width="10.19" height="9.97" fill="rgb(255, 207, 0)"/>
<rect x="882.46" y="210.23" width="10.19" height="9.97" fill="rgb(255, 207, 0)"/>
<rect x="892.60" y="210.23" width="10.19" height="9.97" fill="rgb(255, 207, 0)"/>
<rect x="902.73" y="210.23" width="10.19" height="9.97" fill="rgb(0, 223, 255)"/>
<rect x="912.87" y="210.23" width="10.19" height="9.97" fill="rgb(0, 223, 255)"/>
<rect x="923.01" y="210.23" width="10.19" height="9.97" fill="rgb(0, 223, 255)"/>
<rect x="933.14" y="210.23" width="10.19" height="9.97" fill="rgb(0, 223, 255)"/>
<rect x="943.28" y="210.23" width="10.19" height="9.97" fill="rgb(0, 223, 255)"/>
<rect x="953.42" y="210.23" width="10.19" height="9.97" fill="rgb(0, 223, 255)"/>
<rect x="537.80" y="200.31" width="10.19" height="9.97" fill="rgb(0, 0, 143)"/>
<rect x="547.94" y="200.31" width="10.19" height="9.97" fill="rgb(0, 0, 143)"/>
<rect x="558.07" y="200.31" width="10.19" height="9.97" fill="rgb(0, 0, 143)"/>
<rect x="568.21" y="200.31" width="10.19" height="9.97" fill="rgb(0, 0, 143)"/>
<rect x="578.35" y="200.31" width="10.19" height="9.97" fill="rgb(0, 0, 143)"/>
<rect x="588.48" y="200.31" width="10.19" height="9.97" fill="rgb(0, 0, 143)"/>
<rect x="598.62" y="200.31" width="10.19" height="9.97" fill="rgb(0, 0, 143)"/>
<rect x="608.76" y="200.31" width="10.19" height="9.97" fill="rgb(0, 0, 143)"/>
<rect x="618.90" y="200.31" width="10.19" height="9.97" fill="rgb(0, 0, 143)"/>
<rect x="629.03" y="200.31" width="10.19" height="9.97" fill="rgb(0, 0, 143)"/>
<rect x="639.17" y="200.31" width="10.19" height="9.97" fill="rgb(0, 0, 143)"/>
<rect x="649.31" y="200.31" width="10.19" height="9.97" fill="rgb(0, 0, 143)"/>
<rect x="659.44" y="200.31" width="10.19" height="9.97" fill="rgb(0, 0, 143)"/>
<rect x="669.58" y="200.31" width="10.19" height="9.97" fill="rgb(0, 0, 143)"/>
<rect x="679.72" y="200.31" width="10.19" height="9.97" fill="rgb(0, 0, 143)"/>
<rect x="689.86" y="200.31" width="10.19" height="9.97" fill="rgb(0, 0, 143)"/>
<rect x="699.99" y="200.31" width="10.19" height="9.97" fill="rgb(0, 0, 143)"/>
<rect x="710.13" y="200.31" width="10.19" height="9.97" fill="rgb(0, 0, 143)"/>
<rect x="720.27" y="200.31" width="10.19" height="9.97" fill="rgb(0, 0, 143)"/>
<rect x="730.40" y="200.31" width="10.19" height="9.97" fill="rgb(0, 0, 143)"/>
<rect x="740.54" y="200.31" width="10.19" height="9.97" fill="rgb(0, 96, 255)"/>
<rect x="750.68" y="200.31" width="10.19" height="9.97" fill="rgb(0, 143, 255)"/>
<rect x="760.81" y="200.31" width="10.19" height="9.97" fill="rgb(0, 143, 255)"/>
<rect x="770.95" y="200.31" width="10.19" height="9.97" fill="rgb(255, 207, 0)"/>
<rect x="781.09" y="200.31" width="10.19" height="9.97" fill="rgb(255, 207, 0)"/>
<rect x="791.22" y="200.31" width="10.19" height="9.97" fill="rgb(143, 255, 112)"/>
<rect x="801.36" y="200.31" width="10.19" height="9.97" fill="rgb(143, 255, 112)"/>
<rect x="811.50" y="200.31" width="10.19" height="9.97" fill="rgb(48, 255, 207)"/>
<rect x="821.64" y="200.31" width="10.19" height="9.97" fill="rgb(0, 223, 255)"/>
<rect x="831.77" y="200.31" width="10.19" height="9.97" fill="rgb(143, 255, 112)"/>
<rect x="841.91" y="200.31" width="10.19" height="9.97" fill="rgb(0, 223, 255)"/>
<rect x="852.05" y="200.31" width="10.19" height="9.97" fill="rgb(255, 207, 0)"/>
<rect x="862.18" y="200.31" width="10.19" height="9.97" fill="rgb(128, 0, 0)"/>
<rect x="872.32" y="200.31" width="10.19" height="9.97" fill="rgb(128, 0, 0)"/>
<rect x="882.46" y="200.31" width="10.19" height="9.97" fill="rgb(128, 0, 0)"/>
<rect x="892.60" y="200.31" width="10.19" height="9.97" fill="rgb(128, 0, 0)"/>
<rect x="902.73" y="200.31" width="10.19" height="9.97" fill="rgb(143, 255, 112)"/>
<rect x="912.87" y="200.31" width="10.19" height="9.97" fill="rgb(143, 255, 112)"/>
<rect x="923.01" y="200.31" width="10.19" height="9.97" fill="rgb(143, 255, 112)"/>
<rect x="933.14" y="200.31" width="10.19" height="9.97" fill="rgb(143, 255, 112)"/>
<rect x="943.28" y="200.31" width="10.19" height="9.97" fill="rgb(143, 255, 112)"/>
<rect x="953.42" y="200.31" width="10.19" height="9.97" fill="rgb(143, 255, 112)"/>
<rect x="537.80" y="190.39" width="10.19" height="9.97" fill="rgb(0, 0, 143)"/>
<rect x="547.94" y="190.39" width="10.19" height="9.97" fill="rgb(0, 0, 143)"/>
<rect x="558.07" y="190.39" width="10.19" height="9.97" fill="rgb(0, 0, 143)"/>
<rect x="568.21" y="190.39" width="10.19" height="9.97" fill="rgb(0, 0, 143)"/>
<rect x="578.35" y="190.39" width="10.19" height="9.97" fill="rgb(0, 0, 143)"/>
<rect x="588.48" y="190.39" width="10.19" height="9.97" fill="rgb(0, 0, 143)"/>
<rect x="598.62" y="190.39" width="10.19" height="9.97" fill="rgb(0, 0, 143)"/>
<rect x="608.76" y="190.39" width="10.19" height="9.97" fill="rgb(0, 0, 143)"/>
<rect x="618.90" y="190.39" width="10.19" height="9.97" fill="rgb(0, 0, 143)"/>
<rect x="629.03" y="190.39" width="10.19" height="9.97" fill="rgb(0, 0, 143)"/>
<rect x="639.17" y="190.39" width="10.19" height="9.97" fill="rgb(0, 0, 143)"/>
<rect x="649.31" y="190.39" width="10.19" height="9.97" fill="rgb(0, 0, 143)"/>
<rect x="659.44" y="190.39" width="10.19" height="9.97" fill="rgb(0, 0, 143)"/>
<rect x="669.58" y="190.39" width="10.19" height="9.97" fill="rgb(0, 0, 143)"/>
<rect x="679.72" y="190.39" width="10.19" height="9.97" fill="rgb(0, 0, 143)"/>
<rect x="689.86" y="190.39" width="10.19" height="9.97" fill="rgb(0, 0, 143)"/>
<rect x="699.99" y="190.39" width="10.19" height="9.97" fill="rgb(0, 0, 143)"/>
<rect x="710.13" y="190.39" width="10.19" height="9.97" fill="rgb(0, 0, 143)"/>
<rect x="720.27" y="190.39" width="10.19" height="9.97" fill="rgb(0, 0, 143)"/>
<rect x="730.40" y="190.39" width="10.19" height="9.97" fill="rgb(0, 0, 143)"/>
<rect x="740.54" y="190.39" width="10.19" height="9.97" fill="rgb(0, 96, 255)"/>
<rect x="750.68" y="190.39" width="10.19" height="9.97" fill="rgb(0, 143, 255)"/>
<rect x="760.81" y="190.39" width="10.19" height="9.97" fill="rgb(0, 143, 255)"/>
<rect x="770.95" y="190.39" width="10.19" height="9.97" fill="rgb(255, 207, 0)"/>
<rect x="781.09" y="190.39" width="10.19" height="9.97" fill="rgb(255, 207, 0)"/>
<rect x="791.22" y="190.39" width="10.19" height="9.97" fill="rgb(143, 255, 112)"/>
<rect x="801.36" y="190.39" width="10.19" height="9.97" fill="rgb(143, 255, 112)"/>
<rect x="811.50" y="190.39" width="10.19" height="9.97" fill="rgb(48, 255, 207)"/>
<rect x="821.64" y="190.39" width="10.19" height="9.97" fill="rgb(0, 223, 255)"/>
<rect x="831.77" y="190.39" width="10.19" height="9.97" fill="rgb(143, 255, 112)"/>
<rect x="841.91" y="190.39" width="10.19" height="9.97" fill="rgb(0, 223, 255)"/>
<rect x="852.05" y="190.39" width="10.19" height="9.97" fill="rgb(255, 207, 0)"/>
<rect x="862.18" y="190.39" width="10.19" height="9.97" fill="rgb(128, 0, 0)"/>
<rect x="872.32" y="190.39" width="10.19" height="9.97" fill="rgb(128, 0, 0)"/>
<rect x="882.46" y="190.39" width="10.19" height="9.97" fill="rgb(128, 0, 0)"/>
<rect x="892.60" y="190.39" width="10.19" height="9.97" fill="rgb(128, 0, 0)"/>
<rect x="902.73" y="190.39" width="10.19" height="9.97" fill="rgb(143, 255, 112)"/>
<rect x="912.87" y="190.39" width="10.19" height="9.97" fill="rgb(143, 255, 112)"/>
<rect x="923.01" y="190.39" width="10.19" height="9.97" fill="rgb(143, 255, 112)"/>
<rect x="933.14" y="190.39" width="10.19" height="9.97" fill="rgb(143, 255, 112)"/>
<rect x="943.28" y="190.39" width="10.19" height="9.97" fill="rgb(143, 255, 112)"/>
<rect x="953.42" y="190.39" width="10.19" height="9.97" fill="rgb(143, 255, 112)"/>
<rect x="537.80" y="180.47" width="10.19" height="9.97" fill="rgb(0, 0, 143)"/>
<rect x="547.94" y="180.47" width="10.19" height="9.97" fill="rgb(0, 0, 143)"/>
<rect x="558.07" y="180.47" width="10.19" height="9.97" fill="rgb(0, 0, 143)"/>
<rect x="568.21" y="180.47" width="10.19" height="9.97" fill="rgb(0, 0, 143)"/>
<rect x="578.35" y="180.47" width="10.19" height="9.97" fill="rgb(0, 0, 143)"/>
<rect x="588.48" y="180.47" width="10.19" height="9.97" fill="rgb(0, 0, 143)"/>
<rect x="598.62" y="180.47" width="10.19" height="9.97" fill="rgb(0, 0, 143)"/>
<rect x="608.76" y="180.47" width="10.19" height="9.97" fill="rgb(0, 0, 143)"/>
<rect x="618.90" y="180.47" width="10.19" height="9.97" fill="rgb(0, 0, 143)"/>
<rect x="629.03" y="180.47" width="10.19" height="9.97" fill="rgb(0, 0, 143)"/>
<rect x="639.17" y="180.47" width="10.19" height="9.97" fill="rgb(0, 0, 143)"/>
<rect x="649.31" y="180.47" width="10.19" height="9.97" fill="rgb(0, 0, 143)"/>
<rect x="659.44" y="180.47" width="10.19" height="9.97" fill="rgb(0, 0, 143)"/>
<rect x="669.58" y="180.47" width="10.19" height="9.97" fill="rgb(0, 0, 143)"/>
<rect x="679.72" y="180.47" width="10.19" height="9.97" fill="rgb(0, 0, 143)"/>
<rect x="689.86" y="180.47" width="10.19" height="9.97" fill="rgb(0, 0, 143)"/>
<rect x="699.99" y="180.47" width="10.19" height="9.97" fill="rgb(0, 0, 143)"/>
<rect x="710.13" y="180.47" width="10.19" height="9.97" fill="rgb(0, 0, 143)"/>
<rect x="720.27" y="180.47" width="10.19" height="9.97" fill="rgb(0, 0, 143)"/>
<rect x="730.40" y="180.47" width="10.19" height="9.97" fill="rgb(0, 0, 143)"/>
<rect x="740.54" y="180.47" width="10.19" height="9.97" fill="rgb(0, 96, 255)"/>
<rect x="750.68" y="180.47" width="10.19" height="9.97" fill="rgb(0, 143, 255)"/>
<rect x="760.81" y="180.47" width="10.19" height="9.97" fill="rgb(0, 143, 255)"/>
<rect x="770.95" y="180.47" width="10.19" height="9.97" fill="rgb(255, 207, 0)"/>
<rect x="781.09" y="180.47" width="10.19" height="9.97" fill="rgb(255, 207, 0)"/>
<rect x="791.22" y="180.47" width="10.19" height="9.97" fill="rgb(143, 255, 112)"/>
<rect x="801.36" y="180.47" width="10.19" height="9.97" fill="rgb(143, 255, 112)"/>
<rect x="811.50" y="180.47" width="10.19" height="9.97" fill="rgb(48, 255, 207)"/>
<rect x="821.64" y="180.47" width="10.19" height="9.97" fill="rgb(0, 223, 255)"/>
<rect x="831.77" y="180.47" width="10.19" height="9.97" fill="rgb(143, 255, 112)"/>
<rect x="841.91" y="180.47" width="10.19" height="9.97" fill="rgb(0, 223, 255)"/>
<rect x="852.05" y="180.47" width="10.19" height="9.97" fill="rgb(255, 207, 0)"/>
<rect x="862.18" y="180.47" width="10.19" height="9.97" fill="rgb(128, 0, 0)"/>
<rect x="872.32" y="180.47" width="10.19" height="9.97" fill="rgb(128, 0, 0)"/>
<rect x="882.46" y="180.47" width="10.19" height="9.97" fill="rgb(128, 0, 0)"/>
<rect x="892.60" y="180.47" width="10.19" height="9.97" fill="rgb(128, 0, 0)"/>
<rect x="902.73" y="180.47" width="10.19" height="9.97" fill="rgb(143, 255, 112)"/>
<rect x="912.87" y="180.47" width="10.19" height="9.97" fill="rgb(143, 255, 112)"/>
<rect x="923.01" y="180.47" width="10.19" height="9.97" fill="rgb(143, 255, 112)"/>
<rect x="933.14" y="180.47" width="10.19" height="9.97" fill="rgb(143, 255, 112)"/>
<rect x="943.28" y="180.47" width="10.19" height="9.97" fill="rgb(143, 255, 112)"/>
<rect x="953.42" y="180.47" width="10.19" height="9.97" fill="rgb(143, 255, 112)"/>
<rect x="537.80" y="170.54" width="10.19" height="9.97" fill="rgb(0, 0, 143)"/>
<rect x="547.94" y="170.54" width="10.19" height="9.97" fill="rgb(0, 0, 143)"/>
<rect x="558.07" y="170.54" width="10.19" height="9.97" fill="rgb(0, 0, 143)"/>
<rect x="568.21" y="170.54" width="10.19" height="9.97" fill="rgb(0, 0, 143)"/>
<rect x="578.35" y="170.54" width="10.19" height="9.97" fill="rgb(0, 0, 143)"/>
<rect x="588.48" y="170.54" width="10.19" height="9.97" fill="rgb(0, 0, 143)"/>
<rect x="598.62" y="170.54" width="10.19" height="9.97" fill="rgb(0, 0, 143)"/>
<rect x="608.76" y="170.54" width="10.19" height="9.97" fill="rgb(0, 0, 143)"/>
<rect x="618.90" y="170.54" width="10.19" height="9.97" fill="rgb(0, 0, 143)"/>
<rect x="629.03" y="170.54" width="10.19" height="9.97" fill="rgb(0, 0, 143)"/>
<rect x="639.17" y="170.54" width="10.19" height="9.97" fill="rgb(0, 0, 143)"/>
<rect x="649.31" y="170.54" width="10.19" height="9.97" fill="rgb(0, 0, 143)"/>
<rect x="659.44" y="170.54" width="10.19" height="9.97" fill="rgb(0, 0, 143)"/>
<rect x="669.58" y="170.54" width="10.19" height="9.97" fill="rgb(0, 0, 143)"/>
<rect x="679.72" y="170.54" width="10.19" height="9.97" fill="rgb(0, 0, 143)"/>
<rect x="689.86" y="170.54" width="10.19" height="9.97" fill="rgb(0, 0, 143)"/>
<rect x="699.99" y="170.54" width="10.19" height="9.97" fill="rgb(0, 0, 143)"/>
<rect x="710.13" y="170.54" width="10.19" height="9.97" fill="rgb(0, 0, 143)"/>
<rect x="720.27" y="170.54" width="10.19" height="9.97" fill="rgb(0, 0, 143)"/>
<rect x="730.40" y="170.54" width="10.19" height="9.97" fill="rgb(0, 0, 143)"/>
<rect x="740.54" y="170.54" width="10.19" height="9.97" fill="rgb(0, 96, 255)"/>
<rect x="750.68" y="170.54" width="10.19" height="9.97" fill="rgb(0, 143, 255)"/>
<rect x="760.81" y="170.54" width="10.19" height="9.97" fill="rgb(0, 143, 255)"/>
<rect x="770.95" y="170.54" width="10.19" height="9.97" fill="rgb(255, 207, 0)"/>
<rect x="781.09" y="170.54" width="10.19" height="9.97" fill="rgb(255, 207, 0)"/>
<rect x="791.22" y="170.54" width="10.19" height="9.97" fill="rgb(143, 255, 112)"/>
<rect x="801.36" y="170.54" width="10.19" height="9.97" fill="rgb(143, 255, 112)"/>
<rect x="811.50" y="170.54" width="10.19" height="9.97" fill="rgb(48, 255, 207)"/>
<rect x="821.64" y="170.54" width="10.19" height="9.97" fill="rgb(0, 223, 255)"/>
<rect x="831.77" y="170.54" width="10.19" height="9.97" fill="rgb(143, 255, 112)"/>
<rect x="841.91" y="170.54" width="10.19" height="9.97" fill="rgb(0, 223, 255)"/>
<rect x="852.05" y="170.54" width="10.19" height="9.97" fill="rgb(255, 207, 0)"/>
<rect x="862.18" y="170.54" width="10.19" height="9.97" fill="rgb(128, 0, 0)"/>
<rect x="872.32" y="170.54" width="10.19" height="9.97" fill="rgb(128, 0, 0)"/>
<rect x="882.46" y="170.54" width="10.19" height="9.97" fill="rgb(128, 0, 0)"/>
<rect x="892.60" y="170.54" width="10.19" height="9.97" fill="rgb(128, 0, 0)"/>
<rect x="902.73" y="170.54" width="10.19" height="9.97" fill="rgb(143, 255, 112)"/>
<rect x="912.87" y="170.54" width="10.19" height="9.97" fill="rgb(143, 255, 112)"/>
<rect x="923.01" y="170.54" width="10.19" height="9.97" fill="rgb(143, 255, 112)"/>
<rect x="933.14" y="170.54" width="10.19" height="9.97" fill="rgb(143, 255, 112)"/>
<rect x="943.28" y="170.54" width="10.19" height="9.97" fill="rgb(143, 255, 112)"/>
<rect x="953.42" y="170.54" width="10.19" height="9.97" fill="rgb(143, 255, 112)"/>
<rect x="537.80" y="160.62" width="10.19" height="9.97" fill="rgb(0, 0, 143)"/>
<rect x="547.94" y="160.62" width="10.19" height="9.97" fill="rgb(0, 0, 143)"/>
<rect x="558.07" y="160.62" width="10.19" height="9.97" fill="rgb(0, 0, 143)"/>
<rect x="568.21" y="160.62" width="10.19" height="9.97" fill="rgb(0, 0, 143)"/>
<rect x="578.35" y="160.62" width="10.19" height="9.97" fill="rgb(0, 0, 143)"/>
<rect x="588.48" y="160.62" width="10.19" height="9.97" fill="rgb(0, 0, 143)"/>
<rect x="598.62" y="160.62" width="10.19" height="9.97" fill="rgb(0, 0, 143)"/>
<rect x="608.76" y="160.62" width="10.19" height="9.97" fill="rgb(0, 0, 143)"/>
<rect x="618.90" y="160.62" width="10.19" height="9.97" fill="rgb(0, 0, 143)"/>
<rect x="629.03" y="160.62" width="10.19" height="9.97" fill="rgb(0, 0, 143)"/>
<rect x="639.17" y="160.62" width="10.19" height="9.97" fill="rgb(0, 0, 143)"/>
<rect x="649.31" y="160.62" width="10.19" height="9.97" fill="rgb(0, 0, 143)"/>
<rect x="659.44" y="160.62" width="10.19" height="9.97" fill="rgb(0, 0, 143)"/>
<rect x="669.58" y="160.62" width="10.19" height="9.97" fill="rgb(0, 0, 143)"/>
<rect x="679.72" y="160.62" width="10.19" height="9.97" fill="rgb(0, 0, 143)"/>
<rect x="689.86" y="160.62" width="10.19" height="9.97" fill="rgb(0, 0, 143)"/>
<rect x="699.99" y="160.62" width="10.19" height="9.97" fill="rgb(0, 0, 143)"/>
<rect x="710.13" y="160.62" width="10.19" height="9.97" fill="rgb(0, 0, 143)"/>
<rect x="720.27" y="160.62" width="10.19" height="9.97" fill="rgb(0, 0, 143)"/>
<rect x="730.40" y="160.62" width="10.19" height="9.97" fill="rgb(0, 0, 143)"/>
<rect x="740.54" y="160.62" width="10.19" height="9.97" fill="rgb(0, 0, 143)"/>
<rect x="750.68" y="160.62" width="10.19" height="9.97" fill="rgb(0, 0, 143)"/>
<rect x="760.81" y="160.62" width="10.19" height="9.97" fill="rgb(0, 223, 255)"/>
<rect x="770.95" y="160.62" width="10.19" height="9.97" fill="rgb(0, 223, 255)"/>
<rect x="781.09" y="160.62" width="10.19" height="9.97" fill="rgb(0, 223, 255)"/>
<rect x="791.22" y="160.62" width="10.19" height="9.97" fill="rgb(0, 143, 255)"/>
<rect x="801.36" y="160.62" width="10.19" height="9.97" fill="rgb(0, 143, 255)"/>
<rect x="811.50" y="160.62" width="10.19" height="9.97" fill="rgb(0, 64, 255)"/>
<rect x="821.64" y="160.62" width="10.19" height="9.97" fill="rgb(0, 0, 143)"/>
<rect x="831.77" y="160.62" width="10.19" height="9.97" fill="rgb(0, 0, 143)"/>
<rect x="841.91" y="160.62" width="10.19" height="9.97" fill="rgb(0, 0, 143)"/>
<rect x="852.05" y="160.62" width="10.19" height="9.97" fill="rgb(0, 223, 255)"/>
<rect x="862.18" y="160.62" width="10.19" height="9.97" fill="rgb(143, 255, 112)"/>
<rect x="872.32" y="160.62" width="10.19" height="9.97" fill="rgb(143, 255, 112)"/>
<rect x="882.46" y="160.62" width="10.19" height="9.97" fill="rgb(143, 255, 112)"/>
<rect x="892.60" y="160.62" width="10.19" height="9.97" fill="rgb(143, 255, 112)"/>
<rect x="902.73" y="160.62" width="10.19" height="9.97" fill="rgb(128, 0, 0)"/>
<rect x="912.87" y="160.62" width="10.19" height="9.97" fill="rgb(128, 0, 0)"/>
<rect x="923.01" y="160.62" width="10.19" height="9.97" fill="rgb(128, 0, 0)"/>
<rect x="933.14" y="160.62" width="10.19" height="9.97" fill="rgb(128, 0, 0)"/>
<rect x="943.28" y="160.62" width="10.19" height="9.97" fill="rgb(128, 0, 0)"/>
<rect x="953.42" y="160.62" width="10.19" height="9.97" fill="rgb(128, 0, 0)"/>
<rect x="537.80" y="150.70" width="10.19" height="9.97" fill="rgb(0, 0, 143)"/>
<rect x="547.94" y="150.70" width="10.19" height="9.97" fill="rgb(0, 0, 143)"/>
<rect x="558.07" y="150.70" width="10.19" height="9.97" fill="rgb(0, 0, 143)"/>
<rect x="568.21" y="150.70" width="10.19" height="9.97" fill="rgb(0, 0, 143)"/>
<rect x="578.35" y="150.70" width="10.19" height="9.97" fill="rgb(0, 0, 143)"/>
<rect x="588.48" y="150.70" width="10.19" height="9.97" fill="rgb(0, 0, 143)"/>
<rect x="598.62" y="150.70" width="10.19" height="9.97" fill="rgb(0, 0, 143)"/>
<rect x="608.76" y="150.70" width="10.19" height="9.97" fill="rgb(0, 0, 143)"/>
<rect x="618.90" y="150.70" width="10.19" height="9.97" fill="rgb(0, 0, 143)"/>
<rect x="629.03" y="150.70" width="10.19" height="9.97" fill="rgb(0, 0, 143)"/>
<rect x="639.17" y="150.70" width="10.19" height="9.97" fill="rgb(0, 0, 143)"/>
<rect x="649.31" y="150.70" width="10.19" height="9.97" fill="rgb(0, 0, 143)"/>
<rect x="659.44" y="150.70" width="10.19" height="9.97" fill="rgb(0, 0, 143)"/>
<rect x="669.58" y="150.70" width="10.19" height="9.97" fill="rgb(0, 0, 143)"/>
<rect x="679.72" y="150.70" width="10.19" height="9.97" fill="rgb(0, 0, 143)"/>
<rect x="689.86" y="150.70" width="10.19" height="9.97" fill="rgb(0, 0, 143)"/>
<rect x="699.99" y="150.70" width="10.19" height="9.97" fill="rgb(0, 0, 143)"/>
<rect x="710.13" y="150.70" width="10.19" height="9.97" fill="rgb(0, 0, 143)"/>
<rect x="720.27" y="150.70" width="10.19" height="9.97" fill="rgb(0, 0, 143)"/>
<rect x="730.40" y="150.70" width="10.19" height="9.97" fill="rgb(0, 0, 143)"/>
<rect x="740.54" y="150.70" width="10.19" height="9.97" fill="rgb(0, 0, 143)"/>
<rect x="750.68" y="150.70" width="10.19" height="9.97" fill="rgb(0, 0, 143)"/>
<rect x="760.81" y="150.70" width="10.19" height="9.97" fill="rgb(0, 223, 255)"/>
<rect x="770.95" y="150.70" width="10.19" height="9.97" fill="rgb(0, 223, 255)"/>
<rect x="781.09" y="150.70" width="10.19" height="9.97" fill="rgb(0, 223, 255)"/>
<rect x="791.22" y="150.70" width="10.19" height="9.97" fill="rgb(0, 143, 255)"/>
<rect x="801.36" y="150.70" width="10.19" height="9.97" fill="rgb(0, 143, 255)"/>
<rect x="811.50" y="150.70" width="10.19" height="9.97" fill="rgb(0, 64, 255)"/>
<rect x="821.64" y="150.70" width="10.19" height="9.97" fill="rgb(0, 0, 143)"/>
<rect x="831.77" y="150.70" width="10.19" height="9.97" fill="rgb(0, 0, 143)"/>
<rect x="841.91" y="150.70" width="10.19" height="9.97" fill="rgb(0, 0, 143)"/>
<rect x="852.05" y="150.70" width="10.19" height="9.97" fill="rgb(0, 223, 255)"/>
<rect x="862.18" y="150.70" width="10.19" height="9.97" fill="rgb(143, 255, 112)"/>
<rect x="872.32" y="150.70" width="10.19" height="9.97" fill="rgb(143, 255, 112)"/>
<rect x="882.46" y="150.70" width="10.19" height="9.97" fill="rgb(143, 255, 112)"/>
<rect x="892.60" y="150.70" width="10.19" height="9.97" fill="rgb(143, 255, 112)"/>
<rect x="902.73" y="150.70" width="10.19" height="9.97" fill="rgb(128, 0, 0)"/>
<rect x="912.87" y="150.70" width="10.19" height="9.97" fill="rgb(128, 0, 0)"/>
<rect x="923.01" y="150.70" width="10.19" height="9.97" fill="rgb(128, 0, 0)"/>
<rect x="933.14" y="150.70" width="10.19" height="9.97" fill="rgb(128, 0, 0)"/>
<rect x="943.28" y="150.70" width="10.19" height="9.97" fill="rgb(128, 0, 0)"/>
<rect x="953.42" y="150.70" width="10.19" height="9.97" fill="rgb(128, 0, 0)"/>
<rect x="537.80" y="140.78" width="10.19" height="9.97" fill="rgb(0, 0, 143)"/>
<rect x="547.94" y="140.78" width="10.19" height="9.97" fill="rgb(0, 0, 143)"/>
<rect x="558.07" y="140.78" width="10.19" height="9.97" fill="rgb(0, 0, 143)"/>
<rect x="568.21" y="140.78" width="10.19" height="9.97" fill="rgb(0, 0, 143)"/>
<rect x="578.35" y="140.78" width="10.19" height="9.97" fill="rgb(0, 0, 143)"/>
<rect x="588.48" y="140.78" width="10.19" height="9.97" fill="rgb(0, 0, 143)"/>
<rect x="598.62" y="140.78" width="10.19" height="9.97" fill="rgb(0, 0, 143)"/>
<rect x="608.76" y="140.78" width="10.19" height="9.97" fill="rgb(0, 0, 143)"/>
<rect x="618.90" y="140.78" width="10.19" height="9.97" fill="rgb(0, 0, 143)"/>
<rect x="629.03" y="140.78" width="10.19" height="9.97" fill="rgb(0, 0, 143)"/>
<rect x="639.17" y="140.78" width="10.19" height="9.97" fill="rgb(0, 0, 143)"/>
<rect x="649.31" y="140.78" width="10.19" height="9.97" fill="rgb(0, 0, 143)"/>
<rect x="659.44" y="140.78" width="10.19" height="9.97" fill="rgb(0, 0, 143)"/>
<rect x="669.58" y="140.78" width="10.19" height="9.97" fill="rgb(0, 0, 143)"/>
<rect x="679.72" y="140.78" width="10.19" height="9.97" fill="rgb(0, 0, 143)"/>
<rect x="689.86" y="140.78" width="10.19" height="9.97" fill="rgb(0, 0, 143)"/>
<rect x="699.99" y="140.78" width="10.19" height="9.97" fill="rgb(0, 0, 143)"/>
<rect x="710.13" y="140.78" width="10.19" height="9.97" fill="rgb(0, 0, 143)"/>
<rect x="720.27" y="140.78" width="10.19" height="9.97" fill="rgb(0, 0, 143)"/>
<rect x="730.40" y="140.78" width="10.19" height="9.97" fill="rgb(0, 0, 143)"/>
<rect x="740.54" y="140.78" width="10.19" height="9.97" fill="rgb(0, 0, 143)"/>
<rect x="750.68" y="140.78" width="10.19" height="9.97" fill="rgb(0, 0, 143)"/>
<rect x="760.81" y="140.78" width="10.19" height="9.97" fill="rgb(0, 223, 255)"/>
<rect x="770.95" y="140.78" width="10.19" height="9.97" fill="rgb(0, 223, 255)"/>
<rect x="781.09" y="140.78" width="10.19" height="9.97" fill="rgb(0, 223, 255)"/>
<rect x="791.22" y="140.78" width="10.19" height="9.97" fill="rgb(0, 143, 255)"/>
<rect x="801.36" y="140.78" width="10.19" height="9.97" fill="rgb(0, 143, 255)"/>
<rect x="811.50" y="140.78" width="10.19" height="9.97" fill="rgb(0, 64, 255)"/>
<rect x="821.64" y="140.78" width="10.19" height="9.97" fill="rgb(0, 0, 143)"/>
<rect x="831.77" y="140.78" width="10.19" height="9.97" fill="rgb(0, 0, 143)"/>
<rect x="841.91" y="140.78" width="10.19" height="9.97" fill="rgb(0, 0, 143)"/>
<rect x="852.05" y="140.78" width="10.19" height="9.97" fill="rgb(0, 223, 255)"/>
<rect x="862.18" y="140.78" width="10.19" height="9.97" fill="rgb(143, 255, 112)"/>
<rect x="872.32" y="140.78" width="10.19" height="9.97" fill="rgb(143, 255, 112)"/>
<rect x="882.46" y="140.78" width="10.19" height="9.97" fill="rgb(143, 255, 112)"/>
<rect x="892.60" y="140.78" width="10.19" height="9.97" fill="rgb(143, 255, 112)"/>
<rect x="902.73" y="140.78" width="10.19" height="9.97" fill="rgb(128, 0, 0)"/>
<rect x="912.87" y="140.78" width="10.19" height="9.97" fill="rgb(128, 0, 0)"/>
<rect x="923.01" y="140.78" width="10.19" height="9.97" fill="rgb(128, 0, 0)"/>
<rect x="933.14" y="140.78" width="10.19" height="9.97" fill="rgb(128, 0, 0)"/>
<rect x="943.28" y="140.78" width="10.19" height="9.97" fill="rgb(128, 0, 0)"/>
<rect x="953.42" y="140.78" width="10.19" height="9.97" fill="rgb(128, 0, 0)"/>
<rect x="537.80" y="130.86" width="10.19" height="9.97" fill="rgb(0, 0, 143)"/>
<rect x="547.94" y="130.86" width="10.19" height="9.97" fill="rgb(0, 0, 143)"/>
<rect x="558.07" y="130.86" width="10.19" height="9.97" fill="rgb(0, 0, 143)"/>
<rect x="568.21" y="130.86" width="10.19" height="9.97" fill="rgb(0, 0, 143)"/>
<rect x="578.35" y="130.86" width="10.19" height="9.97" fill="rgb(0, 0, 143)"/>
<rect x="588.48" y="130.86" width="10.19" height="9.97" fill="rgb(0, 0, 143)"/>
<rect x="598.62" y="130.86" width="10.19" height="9.97" fill="rgb(0, 0, 143)"/>
<rect x="608.76" y="130.86" width="10.19" height="9.97" fill="rgb(0, 0, 143)"/>
<rect x="618.90" y="130.86" width="10.19" height="9.97" fill="rgb(0, 0, 143)"/>
<rect x="629.03" y="130.86" width="10.19" height="9.97" fill="rgb(0, 0, 143)"/>
<rect x="639.17" y="130.86" width="10.19" height="9.97" fill="rgb(0, 0, 143)"/>
<rect x="649.31" y="130.86" width="10.19" height="9.97" fill="rgb(0, 0, 143)"/>
<rect x="659.44" y="130.86" width="10.19" height="9.97" fill="rgb(0, 0, 143)"/>
<rect x="669.58" y="130.86" width="10.19" height="9.97" fill="rgb(0, 0, 143)"/>
<rect x="679.72" y="130.86" width="10.19" height="9.97" fill="rgb(0, 0, 143)"/>
<rect x="689.86" y="130.86" width="10.19" height="9.97" fill="rgb(0, 0, 143)"/>
<rect x="699.99" y="130.86" width="10.19" height="9.97" fill="rgb(0, 0, 143)"/>
<rect x="710.13" y="130.86" width="10.19" height="9.97" fill="rgb(0, 0, 143)"/>
<rect x="720.27" y="130.86" width="10.19" height="9.97" fill="rgb(0, 0, 143)"/>
<rect x="730.40" y="130.86" width="10.19" height="9.97" fill="rgb(0, 0, 143)"/>
<rect x="740.54" y="130.86" width="10.19" height="9.97" fill="rgb(0, 0, 143)"/>
<rect x="750.68" y="130.86" width="10.19" height="9.97" fill="rgb(0, 0, 143)"/>
<rect x="760.81" y="130.86" width="10.19" height="9.97" fill="rgb(0, 223, 255)"/>
<rect x="770.95" y="130.86" width="10.19" height="9.97" fill="rgb(0, 223, 255)"/>
<rect x="781.09" y="130.86" width="10.19" height="9.97" fill="rgb(0, 223, 255)"/>
<rect x="791.22" y="130.86" width="10.19" height="9.97" fill="rgb(0, 143, 255)"/>
<rect x="801.36" y="130.86" width="10.19" height="9.97" fill="rgb(0, 143, 255)"/>
<rect x="811.50" y="130.86" width="10.19" height="9.97" fill="rgb(0, 64, 255)"/>
<rect x="821.64" y="130.86" width="10.19" height="9.97" fill="rgb(0, 0, 143)"/>
<rect x="831.77" y="130.86" width="10.19" height="9.97" fill="rgb(0, 0, 143)"/>
<rect x="841.91" y="130.86" width="10.19" height="9.97" fill="rgb(0, 0, 143)"/>
<rect x="852.05" y="130.86" width="10.19" height="9.97" fill="rgb(0, 223, 255)"/>
<rect x="862.18" y="130.86" width="10.19" height="9.97" fill="rgb(143, 255, 112)"/>
<rect x="872.32" y="130.86" width="10.19" height="9.97" fill="rgb(143, 255, 112)"/>
<rect x="882.46" y="130.86" width="10.19" height="9.97" fill="rgb(143, 255, 112)"/>
<rect x="892.60" y="130.86" width="10.19" height="9.97" fill="rgb(143, 255, 112)"/>
<rect x="902.73" y="130.86" width="10.19" height="9.97" fill="rgb(128, 0, 0)"/>
<rect x="912.87" y="130.86" width="10.19" height="9.97" fill="rgb(128, 0, 0)"/>
<rect x="923.01" y="130.86" width="10.19" height="9.97" fill="rgb(128, 0, 0)"/>
<rect x="933.14" y="130.86" width="10.19" height="9.97" fill="rgb(128, 0, 0)"/>
<rect x="943.28" y="130.86" width="10.19" height="9.97" fill="rgb(128, 0, 0)"/>
<rect x="953.42" y="130.86" width="10.19" height="9.97" fill="rgb(128, 0, 0)"/>
<rect x="537.80" y="120.94" width="10.19" height="9.97" fill="rgb(0, 0, 143)"/>
<rect x="547.94" y="120.94" width="10.19" height="9.97" fill="rgb(0, 0, 143)"/>
<rect x="558.07" y="120.94" width="10.19" height="9.97" fill="rgb(0, 0, 143)"/>
<rect x="568.21" y="120.94" width="10.19" height="9.97" fill="rgb(0, 0, 143)"/>
<rect x="578.35" y="120.94" width="10.19" height="9.97" fill="rgb(0, 0, 143)"/>
<rect x="588.48" y="120.94" width="10.19" height="9.97" fill="rgb(0, 0, 143)"/>
<rect x="598.62" y="120.94" width="10.19" height="9.97" fill="rgb(0, 0, 143)"/>
<rect x="608.76" y="120.94" width="10.19" height="9.97" fill="rgb(0, 0, 143)"/>
<rect x="618.90" y="120.94" width="10.19" height="9.97" fill="rgb(0, 0, 143)"/>
<rect x="629.03" y="120.94" width="10.19" height="9.97" fill="rgb(0, 0, 143)"/>
<rect x="639.17" y="120.94" width="10.19" height="9.97" fill="rgb(0, 0, 143)"/>
<rect x="649.31" y="120.94" width="10.19" height="9.97" fill="rgb(0, 0, 143)"/>
<rect x="659.44" y="120.94" width="10.19" height="9.97" fill="rgb(0, 0, 143)"/>
<rect x="669.58" y="120.94" width="10.19" height="9.97" fill="rgb(0, 0, 143)"/>
<rect x="679.72" y="120.94" width="10.19" height="9.97" fill="rgb(0, 0, 143)"/>
<rect x="689.86" y="120.94" width="10.19" height="9.97" fill="rgb(0, 0, 143)"/>
<rect x="699.99" y="120.94" width="10.19" height="9.97" fill="rgb(0, 0, 143)"/>
<rect x="710.13" y="120.94" width="10.19" height="9.97" fill="rgb(0, 0, 143)"/>
<rect x="720.27" y="120.94" width="10.19" height="9.97" fill="rgb(0, 0, 143)"/>
<rect x="730.40" y="120.94" width="10.19" height="9.97" fill="rgb(0, 0, 143)"/>
<rect x="740.54" y="120.94" width="10.19" height="9.97" fill="rgb(0, 0, 143)"/>
<rect x="750.68" y="120.94" width="10.19" height="9.97" fill="rgb(0, 0, 143)"/>
<rect x="760.81" y="120.94" width="10.19" height="9.97" fill="rgb(0, 223, 255)"/>
<rect x="770.95" y="120.94" width="10.19" height="9.97" fill="rgb(0, 223, 255)"/>
<rect x="781.09" y="120.94" width="10.19" height="9.97" fill="rgb(0, 223, 255)"/>
<rect x="791.22" y="120.94" width="10.19" height="9.97" fill="rgb(0, 143, 255)"/>
<rect x="801.36" y="120.94" width="10.19" height="9.97" fill="rgb(0, 143, 255)"/>
<rect x="811.50" y="120.94" width="10.19" height="9.97" fill="rgb(0, 64, 255)"/>
<rect x="821.64" y="120.94" width="10.19" height="9.97" fill="rgb(0, 0, 143)"/>
<rect x="831.77" y="120.94" width="10.19" height="9.97" fill="rgb(0, 0, 143)"/>
<rect x="841.91" y="120.94" width="10.19" height="9.97" fill="rgb(0, 0, 143)"/>
<rect x="852.05" y="120.94" width="10.19" height="9.97" fill="rgb(0, 223, 255)"/>
<rect x="862.18" y="120.94" width="10.19" height="9.97" fill="rgb(143, 255, 112)"/>
<rect x="872.32" y="120.94" width="10.19" height="9.97" fill="rgb(143, 255, 112)"/>
<rect x="882.46" y="120.94" width="10.19" height="9.97" fill="rgb(143, 255, 112)"/>
<rect x="892.60" y="120.94" width="10.19" height="9.97" fill="rgb(143, 255, 112)"/>
<rect x="902.73" y="120.94" width="10.19" height="9.97" fill="rgb(128, 0, 0)"/>
<rect x="912.87" y="120.94" width="10.19" height="9.97" fill="rgb(128, 0, 0)"/>
<rect x="923.01" y="120.94" width="10.19" height="9.97" fill="rgb(128, 0, 0)"/>
<rect x="933.14" y="120.94" width="10.19" height="9.97" fill="rgb(128, 0, 0)"/>
<rect x="943.28" y="120.94" width="10.19" height="9.97" fill="rgb(128, 0, 0)"/>
<rect x="953.42" y="120.94" width="10.19" height="9.97" fill="rgb(128, 0, 0)"/>
<rect x="537.80" y="111.02" width="10.19" height="9.97" fill="rgb(0, 0, 143)"/>
<rect x="547.94" y="111.02" width="10.19" height="9.97" fill="rgb(0, 0, 143)"/>
<rect x="558.07" y="111.02" width="10.19" height="9.97" fill="rgb(0, 0, 143)"/>
<rect x="568.21" y="111.02" width="10.19" height="9.97" fill="rgb(0, 0, 143)"/>
<rect x="578.35" y="111.02" width="10.19" height="9.97" fill="rgb(0, 0, 143)"/>
<rect x="588.48" y="111.02" width="10.19" height="9.97" fill="rgb(0, 0, 143)"/>
<rect x="598.62" y="111.02" width="10.19" height="9.97" fill="rgb(0, 0, 143)"/>
<rect x="608.76" y="111.02" width="10.19" height="9.97" fill="rgb(0, 0, 143)"/>
<rect x="618.90" y="111.02" width="10.19" height="9.97" fill="rgb(0, 0, 143)"/>
<rect x="629.03" y="111.02" width="10.19" height="9.97" fill="rgb(0, 0, 143)"/>
<rect x="639.17" y="111.02" width="10.19" height="9.97" fill="rgb(0, 0, 143)"/>
<rect x="649.31" y="111.02" width="10.19" height="9.97" fill="rgb(0, 0, 143)"/>
<rect x="659.44" y="111.02" width="10.19" height="9.97" fill="rgb(0, 0, 143)"/>
<rect x="669.58" y="111.02" width="10.19" height="9.97" fill="rgb(0, 0, 143)"/>
<rect x="679.72" y="111.02" width="10.19" height="9.97" fill="rgb(0, 0, 143)"/>
<rect x="689.86" y="111.02" width="10.19" height="9.97" fill="rgb(0, 0, 143)"/>
<rect x="699.99" y="111.02" width="10.19" height="9.97" fill="rgb(0, 0, 143)"/>
<rect x="710.13" y="111.02" width="10.19" height="9.97" fill="rgb(0, 0, 143)"/>
<rect x="720.27" y="111.02" width="10.19" height="9.97" fill="rgb(0, 0, 143)"/>
<rect x="730.40" y="111.02" width="10.19" height="9.97" fill="rgb(0, 0, 143)"/>
<rect x="740.54" y="111.02" width="10.19" height="9.97" fill="rgb(0, 0, 143)"/>
<rect x="750.68" y="111.02" width="10.19" height="9.97" fill="rgb(0, 0, 143)"/>
<rect x="760.81" y="111.02" width="10.19" height="9.97" fill="rgb(0, 223, 255)"/>
<rect x="770.95" y="111.02" width="10.19" height="9.97" fill="rgb(0, 223, 255)"/>
<rect x="781.09" y="111.02" width="10.19" height="9.97" fill="rgb(0, 223, 255)"/>
<rect x="791.22" y="111.02" width="10.19" height="9.97" fill="rgb(0, 143, 255)"/>
<rect x="801.36" y="111.02" width="10.19" height="9.97" fill="rgb(0, 143, 255)"/>
<rect x="811.50" y="111.02" width="10.19" height="9.97" fill="rgb(0, 64, 255)"/>
<rect x="821.64" y="111.02" width="10.19" height="9.97" fill="rgb(0, 0, 143)"/>
<rect x="831.77" y="111.02" width="10.19" height="9.97" fill="rgb(0, 0, 143)"/>
<rect x="841.91" y="111.02" width="10.19" height="9.97" fill="rgb(0, 0, 143)"/>
<rect x="852.05" y="111.02" width="10.19" height="9.97" fill="rgb(0, 223, 255)"/>
<rect x="862.18" y="111.02" width="10.19" height="9.97" fill="rgb(143, 255, 112)"/>
<rect x="872.32" y="111.02" width="10.19" height="9.97" fill="rgb(143, 255, 112)"/>
<rect x="882.46" y="111.02" width="10.19" height="9.97" fill="rgb(143, 255, 112)"/>
<rect x="892.60" y="111.02" width="10.19" height="9.97" fill="rgb(143, 255, 112)"/>
<rect x="902.73" y="111.02" width="10.19" height="9.97" fill="rgb(128, 0, 0)"/>
<rect x="912.87" y="111.02" width="10.19" height="9.97" fill="rgb(128, 0, 0)"/>
<rect x="923.01" y="111.02" width="10.19" height="9.97" fill="rgb(128, 0, 0)"/>
<rect x="933.14" y="111.02" width="10.19" height="9.97" fill="rgb(128, 0, 0)"/>
<rect x="943.28" y="111.02" width="10.19" height="9.97" fill="rgb(128, 0, 0)"/>
<rect x="953.42" y="111.02" width="10.19" height="9.97" fill="rgb(128, 0, 0)"/>
</g>
<g stroke="#000" stroke-opacity="0.85" stroke-width="1">
<line x1="547.94" y1="111.02" x2="547.94" y2="527.7"/>
<line x1="537.8" y1="517.98" x2="963.55" y2="517.98"/>
<line x1="558.07" y1="111.02" x2="558.07" y2="527.7"/>
<line x1="537.8" y1="508.06" x2="963.55" y2="508.06"/>
<line x1="568.21" y1="111.02" x2="568.21" y2="527.7"/>
<line x1="537.8" y1="498.14" x2="963.55" y2="498.14"/>
<line x1="578.35" y1="111.02" x2="578.35" y2="527.7"/>
<line x1="537.8" y1="488.22" x2="963.55" y2="488.22"/>
<line x1="588.48" y1="111.02" x2="588.48" y2="527.7"/>
<line x1="537.8" y1="478.30" x2="963.55" y2="478.30"/>
<line x1="598.62" y1="111.02" x2="598.62" y2="527.7"/>
<line x1="537.8" y1="468.37" x2="963.55" y2="468.37"/>
<line x1="608.76" y1="111.02" x2="608.76" y2="527.7"/>
<line x1="537.8" y1="458.45" x2="963.55" y2="458.45"/>
<line x1="618.90" y1="111.02" x2="618.90" y2="527.7"/>
<line x1="537.8" y1="448.53" x2="963.55" y2="448.53"/>
<line x1="629.03" y1="111.02" x2="629.03" y2="527.7"/>
<line x1="537.8" y1="438.61" x2="963.55" y2="438.61"/>
<line x1="639.17" y1="111.02" x2="639.17" y2="527.7"/>
<line x1="537.8" y1="428.69" x2="963.55" y2="428.69"/>
<line x1="649.31" y1="111.02" x2="649.31" y2="527.7"/>
<line x1="537.8" y1="418.77" x2="963.55" y2="418.77"/>
<line x1="659.44" y1="111.02" x2="659.44" y2="527.7"/>
<line x1="537.8" y1="408.85" x2="963.55" y2="408.85"/>
<line x1="669.58" y1="111.02" x2="669.58" y2="527.7"/>
<line x1="537.8" y1="398.93" x2="963.55" y2="398.93"/>
<line x1="679.72" y1="111.02" x2="679.72" y2="527.7"/>
<line x1="537.8" y1="389.01" x2="963.55" y2="389.01"/>
<line x1="689.86" y1="111.02" x2="689.86" y2="527.7"/>
<line x1="537.8" y1="379.09" x2="963.55" y2="379.09"/>
<line x1="699.99" y1="111.02" x2="699.99" y2="527.7"/>
<line x1="537.8" y1="369.16" x2="963.55" y2="369.16"/>
<line x1="710.13" y1="111.02" x2="710.13" y2="527.7"/>
<line x1="537.8" y1="359.24" x2="963.55" y2="359.24"/>
<line x1="720.27" y1="111.02" x2="720.27" y2="527.7"/>
<line x1="537.8" y1="349.32" x2="963.55" y2="349.32"/>
<line x1="730.40" y1="111.02" x2="730.40" y2="527.7"/>
<line x1="537.8" y1="339.40" x2="963.55" y2="339.40"/>
<line x1="740.54" y1="111.02" x2="740.54" y2="527.7"/>
<line x1="537.8" y1="329.48" x2="963.55" y2="329.48"/>
<line x1="750.68" y1="111.02" x2="750.68" y2="527.7"/>
<line x1="537.8" y1="319.56" x2="963.55" y2="319.56"/>
<line x1="760.81" y1="111.02" x2="760.81" y2="527.7"/>
<line x1="537.8" y1="309.64" x2="963.55" y2="309.64"/>
<line x1="770.95" y1="111.02" x2="770.95" y2="527.7"/>
<line x1="537.8" y1="299.72" x2="963.55" y2="299.72"/>
<line x1="781.09" y1="111.02" x2="781.09" y2="527.7"/>
<line x1="537.8" y1="289.80" x2="963.55" y2="289.80"/>
<line x1="791.22" y1="111.02" x2="791.22" y2="527.7"/>
<line x1="537.8" y1="279.88" x2="963.55" y2="279.88"/>
<line x1="801.36" y1="111.02" x2="801.36" y2="527.7"/>
<line x1="537.8" y1="269.95" x2="963.55" y2="269.95"/>
<line x1="811.50" y1="111.02" x2="811.50" y2="527.7"/>
<line x1="537.8" y1="260.03" x2="963.55" y2="260.03"/>
<line x1="821.64" y1="111.02" x2="821.64" y2="527.7"/>
<line x1="537.8" y1="250.11" x2="963.55" y2="250.11"/>
<line x1="831.77" y1="111.02" x2="831.77" y2="527.7"/>
<line x1="537.8" y1="240.19" x2="963.55" y2="240.19"/>
<line x1="841.91" y1="111.02" x2="841.91" y2="527.7"/>
<line x1="537.8" y1="230.27" x2="963.55" y2="230.27"/>
<line x1="852.05" y1="111.02" x2="852.05" y2="527.7"/>
<line x1="537.8" y1="220.35" x2="963.55" y2="220.35"/>
<line x1="862.18" y1="111.02" x2="862.18" y2="527.7"/>
<line x1="537.8" y1="210.43" x2="963.55" y2="210.43"/>
<line x1="872.32" y1="111.02" x2="872.32" y2="527.7"/>
<line x1="537.8" y1="200.51" x2="963.55" y2="200.51"/>
<line x1="882.46" y1="111.02" x2="882.46" y2="527.7"/>
<line x1="537.8" y1="190.59" x2="963.55" y2="190.59"/>
<line x1="892.60" y1="111.02" x2="892.60" y2="527.7"/>
<line x1="537.8" y1="180.67" x2="963.55" y2="180.67"/>
<line x1="902.73" y1="111.02" x2="902.73" y2="527.7"/>
<line x1="537.8" y1="170.74" x2="963.55" y2="170.74"/>
<line x1="912.87" y1="111.02" x2="912.87" y2="527.7"/>
<line x1="537.8" y1="160.82" x2="963.55" y2="160.82"/>
<line x1="923.01" y1="111.02" x2="923.01" y2="527.7"/>
<line x1="537.8" y1="150.90" x2="963.55" y2="150.90"/>
<line x1="933.14" y1="111.02" x2="933.14" y2="527.7"/>
<line x1="537.8" y1="140.98" x2="963.55" y2="140.98"/>
<line x1="943.28" y1="111.02" x2="943.28" y2="527.7"/>
<line x1="537.8" y1="131.06" x2="963.55" y2="131.06"/>
<line x1="953.42" y1="111.02" x2="953.42" y2="527.7"/>
<line x1="537.8" y1="121.14" x2="963.55" y2="121.14"/>
</g>
<rect x="537.3" y="110.72" width="426.75" height="416.98" fill="none" stroke="#2a2a2a" stroke-width="1"/>
<g font-family="DejaVu Sans, sans-serif" font-size="11.4" fill="#111">
<text x="578.35" y="542" text-anchor="middle">5</text>
<text x="536.2" y="492.82" text-anchor="end">5</text>
<text x="629.03" y="542" text-anchor="middle">10</text>
<text x="536.2" y="443.21" text-anchor="end">10</text>
<text x="679.72" y="542" text-anchor="middle">15</text>
<text x="536.2" y="393.61" text-anchor="end">15</text>
<text x="730.40" y="542" text-anchor="middle">20</text>
<text x="536.2" y="344.00" text-anchor="end">20</text>
<text x="781.09" y="542" text-anchor="middle">25</text>
<text x="536.2" y="294.40" text-anchor="end">25</text>
<text x="831.77" y="542" text-anchor="middle">30</text>
<text x="536.2" y="244.79" text-anchor="end">30</text>
<text x="882.46" y="542" text-anchor="middle">35</text>
<text x="536.2" y="195.19" text-anchor="end">35</text>
<text x="933.14" y="542" text-anchor="middle">40</text>
<text x="536.2" y="145.58" text-anchor="end">40</text>
</g>
<text x="750.75" y="554.6" text-anchor="middle" font-family="DejaVu Sans, sans-serif" font-size="12" fill="#111">niche position</text>
<text transform="translate(514.0,319.35) rotate(-90)" text-anchor="middle" font-family="DejaVu Sans, sans-serif" font-size="12" fill="#111">niche position</text>
<defs><linearGradient id="jg" x1="0" y1="1" x2="0" y2="0"><stop offset="0.0000" stop-color="rgb(0,0,128)"/><stop offset="0.0156" stop-color="rgb(0,0,143)"/><stop offset="0.0312" stop-color="rgb(0,0,159)"/><stop offset="0.0469" stop-color="rgb(0,0,175)"/><stop offset="0.0625" stop-color="rgb(0,0,191)"/><stop offset="0.0781" stop-color="rgb(0,0,207)"/><stop offset="0.0938" stop-color="rgb(0,0,223)"/><stop offset="0.1094" stop-color="rgb(0,0,239)"/><stop offset="0.1250" stop-color="rgb(0,0,255)"/><stop offset="0.1406" stop-color="rgb(0,16,255)"/><stop offset="0.1562" stop-color="rgb(0,32,255)"/><stop offset="0.1719" stop-color="rgb(0,48,255)"/><stop offset="0.1875" stop-color="rgb(0,64,255)"/><stop offset="0.2031" stop-color="rgb(0,80,255)"/><stop offset="0.2188" stop-color="rgb(0,96,255)"/><stop offset="0.2344" stop-color="rgb(0,112,255)"/><stop offset="0.2500" stop-color="rgb(0,128,255)"/><stop offset="0.2656" stop-color="rgb(0,143,255)"/><stop offset="0.2812" stop-color="rgb(0,159,255)"/><stop offset="0.2969" stop-color="rgb(0,175,255)"/><stop offset="0.3125" stop-color="rgb(0,191,255)"/><stop offset="0.3281" stop-color="rgb(0,207,255)"/><stop offset="0.3438" stop-color="rgb(0,223,255)"/><stop offset="0.3594" stop-color="rgb(0,239,255)"/><stop offset="0.3750" stop-color="rgb(0,255,255)"/><stop offset="0.3906" stop-color="rgb(16,255,239)"/><stop offset="0.4062" stop-color="rgb(32,255,223)"/><stop offset="0.4219" stop-color="rgb(48,255,207)"/><stop offset="0.4375" stop-color="rgb(64,255,191)"/><stop offset="0.4531" stop-color="rgb(80,255,175)"/><stop offset="0.4688" stop-color="rgb(96,255,159)"/><stop offset="0.4844" stop-color="rgb(112,255,143)"/><stop offset="0.5000" stop-color="rgb(128,255,128)"/><stop offset="0.5156" stop-color="rgb(143,255,112)"/><stop offset="0.5312" stop-color="rgb(159,255,96)"/><stop offset="0.5469" stop-color="rgb(175,255,80)"/><stop offset="0.5625" stop-color="rgb(191,255,64)"/><stop offset="0.5781" stop-color="rgb(207,255,48)"/><stop offset="0.5938" stop-color="rgb(223,255,32)"/><stop offset="0.6094" stop-color="rgb(239,255,16)"/><stop offset="0.6250" stop-color="rgb(255,255,0)"/><stop offset="0.6406" stop-color="rgb(255,239,0)"/><stop offset="0.6562" stop-color="rgb(255,223,0)"/><stop offset="0.6719" stop-color="rgb(255,207,0)"/><stop offset="0.6875" stop-color="rgb(255,191,0)"/><stop offset="0.7031" stop-color="rgb(255,175,0)"/><stop offset="0.7188" stop-color="rgb(255,159,0)"/><stop offset="0.7344" stop-color="rgb(255,143,0)"/><stop offset="0.7500" stop-color="rgb(255,128,0)"/><stop offset="0.7656" stop-color="rgb(255,112,0)"/><stop offset="0.7812" stop-color="rgb(255,96,0)"/><stop offset="0.7969" stop-color="rgb(255,80,0)"/><stop offset="0.8125" stop-color="rgb(255,64,0)"/><stop offset="0.8281" stop-color="rgb(255,48,0)"/><stop offset="0.8438" stop-color="rgb(255,32,0)"/><stop offset="0.8594" stop-color="rgb(255,16,0)"/><stop offset="0.8750" stop-color="rgb(255,0,0)"/><stop offset="0.8906" stop-color="rgb(239,0,0)"/><stop offset="0.9062" stop-color="rgb(223,0,0)"/><stop offset="0.9219" stop-color="rgb(207,0,0)"/><stop offset="0.9375" stop-color="rgb(191,0,0)"/><stop offset="0.9531" stop-color="rgb(175,0,0)"/><stop offset="0.9688" stop-color="rgb(159,0,0)"/><stop offset="0.9844" stop-color="rgb(143,0,0)"/><stop offset="1.0000" stop-color="rgb(128,0,0)"/></linearGradient></defs>
<rect x="978.5" y="110.9" width="19.00" height="417.30" fill="url(#jg)" stroke="#111" stroke-width="1"/>
<g stroke="#111" stroke-width="1">
<line x1="978.5" y1="486.47" x2="983.0" y2="486.47"/><line x1="993.00" y1="486.47" x2="997.5" y2="486.47"/>
<line x1="978.5" y1="444.74" x2="983.0" y2="444.74"/><line x1="993.00" y1="444.74" x2="997.5" y2="444.74"/>
<line x1="978.5" y1="403.01" x2="983.0" y2="403.01"/><line x1="993.00" y1="403.01" x2="997.5" y2="403.01"/>
<line x1="978.5" y1="361.28" x2="983.0" y2="361.28"/><line x1="993.00" y1="361.28" x2="997.5" y2="361.28"/>
<line x1="978.5" y1="319.55" x2="983.0" y2="319.55"/><line x1="993.00" y1="319.55" x2="997.5" y2="319.55"/>
<line x1="978.5" y1="277.82" x2="983.0" y2="277.82"/><line x1="993.00" y1="277.82" x2="997.5" y2="277.82"/>
<line x1="978.5" y1="236.09" x2="983.0" y2="236.09"/><line x1="993.00" y1="236.09" x2="997.5" y2="236.09"/>
<line x1="978.5" y1="194.36" x2="983.0" y2="194.36"/><line x1="993.00" y1="194.36" x2="997.5" y2="194.36"/>
<line x1="978.5" y1="152.63" x2="983.0" y2="152.63"/><line x1="993.00" y1="152.63" x2="997.5" y2="152.63"/>
</g>
<g font-family="DejaVu Sans, sans-serif" font-size="11.1" fill="#111">
<text x="1000.1" y="532.20">0</text>
<text x="1000.1" y="490.47">0.1</text>
<text x="1000.1" y="448.74">0.2</text>
<text x="1000.1" y="407.01">0.3</text>
<text x="1000.1" y="365.28">0.4</text>
<text x="1000.1" y="323.55">0.5</text>
<text x="1000.1" y="281.82">0.6</text>
<text x="1000.1" y="240.09">0.7</text>
<text x="1000.1" y="198.36">0.8</text>
<text x="1000.1" y="156.63">0.9</text>
<text x="1000.1" y="114.90">1</text>
</g>
</svg></body></html>
